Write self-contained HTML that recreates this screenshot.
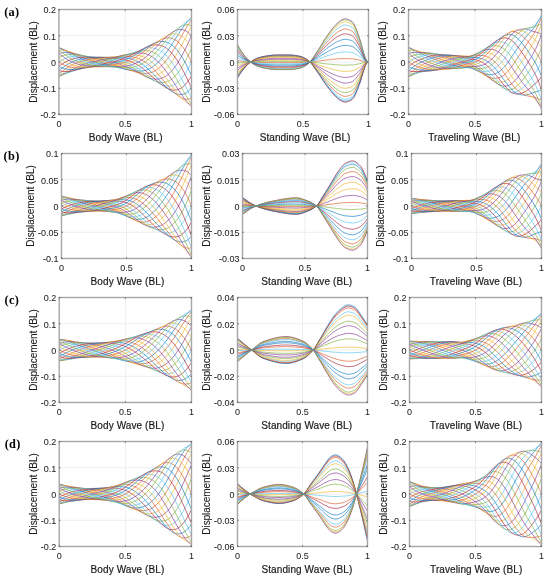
<!DOCTYPE html>
<html><head><meta charset="utf-8"><style>
html,body{margin:0;padding:0;background:#fff;}
svg{display:block;}
.t{font:9px "Liberation Sans",Arial,sans-serif;fill:#1c1c1c;stroke:#1c1c1c;stroke-width:0.05px;}
.l{font:10px "Liberation Sans",Arial,sans-serif;fill:#1c1c1c;stroke:#1c1c1c;stroke-width:0.2px;}
.xl{letter-spacing:0.1px;}
.yl{letter-spacing:-0.05px;stroke-width:0.1px;}
.p{font:bold 12.3px "Liberation Serif","Times New Roman",serif;fill:#000;letter-spacing:0.3px;}
</style></head><body>
<svg width="550" height="581" viewBox="0 0 550 581">
<rect width="550" height="581" fill="#fff"/>
<path d="M125.2 9.5V114.5M58.9 35.75H191.5M58.9 62H191.5M58.9 88.25H191.5" stroke="#ebebeb" stroke-width="0.8" fill="none"/><g fill="none" stroke-width="1.0" stroke-opacity="0.62" clip-path="url(#cA1)"><path d="M58.9 47.4l1.8 .9 1.9 .9 1.8 1 1.9 1 1.8 1 1.9 1 1.8 1.1 1.8 .9 1.9 1 1.8 .8 1.9 .8 1.8 .8 1.8 .7 1.9 .6 1.8 .6 1.9 .5 1.8 .5 1.8 .5 1.9 .4 1.8 .4 1.9 .4 1.8 .4 1.9 .4 1.8 .4 1.8 .3 1.9 .3 1.8 .4 1.9 .3 1.8 .3 1.8 .3 1.9 .5 1.8 .5 1.9 .5 1.8 .5 1.9 .5 1.8 .4 1.8 .4 1.9 .3 1.8 .3 1.9 .3 1.8 .2 1.8 .2 1.9 .1 1.8-0 1.9-.1 1.8-.2 1.9-.4 1.8-.6 1.8-.8 1.9-1 1.8-1.2 1.9-1.4 1.8-1.6 1.8-1.7 1.9-1.9 1.8-2.1 1.9-2.3 1.8-2.4 1.9-2.6 1.8-2.6 1.8-2.8 1.9-2.8 1.8-2.8 1.9-2.9 1.8-2.9 1.8-2.8 1.9-2.7 1.8-2.6 1.9-2.4 1.8-2.2 1.9-2.1 1.8-1.7" stroke="#0072BD"/><path d="M58.9 48.1l1.8 .5 1.9 .5 1.8 .7 1.9 .7 1.8 .8 1.9 .8 1.8 .9 1.8 .8 1.9 .9 1.8 .8 1.9 .7 1.8 .7 1.8 .7 1.9 .7 1.8 .6 1.9 .5 1.8 .6 1.8 .4 1.9 .5 1.8 .4 1.9 .4 1.8 .5 1.9 .4 1.8 .4 1.8 .4 1.9 .4 1.8 .4 1.9 .4 1.8 .4 1.8 .4 1.9 .4 1.8 .6 1.9 .6 1.8 .7 1.9 .6 1.8 .6 1.8 .5 1.9 .6 1.8 .5 1.9 .5 1.8 .6 1.8 .4 1.9 .5 1.8 .3 1.9 .4 1.8 .2 1.9 .1 1.8-.1 1.8-.3 1.9-.5 1.8-.7 1.9-1 1.8-1.1 1.8-1.3 1.9-1.5 1.8-1.8 1.9-1.9 1.8-2.2 1.9-2.4 1.8-2.5 1.8-2.7 1.9-2.9 1.8-2.9 1.9-3.1 1.8-3.2 1.8-3.2 1.9-3.3 1.8-3.2 1.9-3.2 1.8-3.1 1.9-3 1.8-2.8" stroke="#D95319"/><path d="M58.9 50.2l1.8-0 1.9 .1 1.8 .3 1.9 .4 1.8 .4 1.9 .5 1.8 .7 1.8 .6 1.9 .7 1.8 .6 1.9 .7 1.8 .6 1.8 .6 1.9 .6 1.8 .5 1.9 .6 1.8 .5 1.8 .4 1.9 .5 1.8 .4 1.9 .4 1.8 .4 1.9 .4 1.8 .4 1.8 .4 1.9 .4 1.8 .4 1.9 .5 1.8 .4 1.8 .4 1.9 .5 1.8 .6 1.9 .7 1.8 .7 1.9 .7 1.8 .6 1.8 .7 1.9 .7 1.8 .7 1.9 .8 1.8 .7 1.8 .8 1.9 .7 1.8 .8 1.9 .7 1.8 .7 1.9 .6 1.8 .4 1.8 .2 1.9-0 1.8-.2 1.9-.4 1.8-.6 1.8-.7 1.9-1 1.8-1.2 1.9-1.5 1.8-1.7 1.9-1.9 1.8-2.2 1.8-2.4 1.9-2.6 1.8-2.8 1.9-3.1 1.8-3.1 1.8-3.4 1.9-3.5 1.8-3.5 1.9-3.6 1.8-3.7 1.9-3.7 1.8-3.6" stroke="#EDB120"/><path d="M58.9 53.4l1.8-.4 1.9-.3 1.8-.2 1.9-0 1.8 .1 1.9 .2 1.8 .3 1.8 .3 1.9 .5 1.8 .4 1.9 .5 1.8 .4 1.8 .5 1.9 .5 1.8 .4 1.9 .5 1.8 .4 1.8 .4 1.9 .4 1.8 .4 1.9 .3 1.8 .3 1.9 .4 1.8 .4 1.8 .4 1.9 .4 1.8 .4 1.9 .4 1.8 .4 1.8 .4 1.9 .5 1.8 .5 1.9 .7 1.8 .6 1.9 .7 1.8 .7 1.8 .8 1.9 .8 1.8 .8 1.9 .9 1.8 .9 1.8 1 1.9 .9 1.8 1 1.9 1.1 1.8 1.1 1.9 1 1.8 .8 1.8 .7 1.9 .5 1.8 .4 1.9 .2 1.8 .1 1.8-.2 1.9-.3 1.8-.6 1.9-.8 1.8-1 1.9-1.4 1.8-1.6 1.8-1.8 1.9-2.2 1.8-2.4 1.9-2.6 1.8-2.9 1.8-3.1 1.9-3.4 1.8-3.5 1.9-3.7 1.8-3.9 1.9-4 1.8-4" stroke="#7E2F8E"/><path d="M58.9 57.5l1.8-.9 1.9-.7 1.8-.6 1.9-.4 1.8-.3 1.9-.1 1.8-0 1.8 0 1.9 .2 1.8 .1 1.9 .3 1.8 .3 1.8 .3 1.9 .3 1.8 .3 1.9 .3 1.8 .3 1.8 .3 1.9 .3 1.8 .2 1.9 .3 1.8 .2 1.9 .3 1.8 .3 1.8 .4 1.9 .3 1.8 .3 1.9 .4 1.8 .4 1.8 .4 1.9 .4 1.8 .4 1.9 .5 1.8 .6 1.9 .6 1.8 .7 1.8 .8 1.9 .8 1.8 .8 1.9 1 1.8 1 1.8 1 1.9 1.1 1.8 1.2 1.9 1.3 1.8 1.3 1.9 1.3 1.8 1.3 1.8 1.1 1.9 1 1.8 .9 1.9 .8 1.8 .6 1.8 .5 1.9 .4 1.8 .1 1.9-.1 1.8-.3 1.9-.6 1.8-.9 1.8-1.1 1.9-1.4 1.8-1.8 1.9-2 1.8-2.3 1.8-2.6 1.9-2.9 1.8-3.2 1.9-3.4 1.8-3.7 1.9-3.9 1.8-4.1" stroke="#77AC30"/><path d="M58.9 62.0l1.8-1.2 1.9-1.1 1.8-.9 1.9-.7 1.8-.7 1.9-.5 1.8-.3 1.8-.3 1.9-.1 1.8-.1 1.9-0 1.8 0 1.8 .1 1.9 .1 1.8 .1 1.9 .2 1.8 .2 1.8 .2 1.9 .1 1.8 .2 1.9 .1 1.8 .1 1.9 .2 1.8 .2 1.8 .2 1.9 .3 1.8 .2 1.9 .3 1.8 .3 1.8 .3 1.9 .3 1.8 .3 1.9 .3 1.8 .5 1.9 .5 1.8 .6 1.8 .7 1.9 .7 1.8 .8 1.9 .9 1.8 1 1.8 1 1.9 1.2 1.8 1.2 1.9 1.4 1.8 1.4 1.9 1.5 1.8 1.5 1.8 1.5 1.9 1.4 1.8 1.3 1.9 1.3 1.8 1.1 1.8 1.1 1.9 1 1.8 .9 1.9 .6 1.8 .5 1.9 .2 1.8-.1 1.8-.3 1.9-.6 1.8-.9 1.9-1.2 1.8-1.5 1.8-1.8 1.9-2.1 1.8-2.5 1.9-2.9 1.8-3.1 1.9-3.4 1.8-3.8" stroke="#4DBEEE"/><path d="M58.9 66.5l1.8-1.4 1.9-1.3 1.8-1.2 1.9-1 1.8-.9 1.9-.8 1.8-.7 1.8-.5 1.9-.4 1.8-.4 1.9-.3 1.8-.1 1.8-.2 1.9-.1 1.8-0 1.9-0 1.8-0 1.8 0 1.9 0 1.8 0 1.9 0 1.8 0 1.9 .1 1.8 .1 1.8 .1 1.9 .1 1.8 .1 1.9 .2 1.8 .2 1.8 .2 1.9 .1 1.8 .2 1.9 .1 1.8 .3 1.9 .3 1.8 .5 1.8 .5 1.9 .6 1.8 .7 1.9 .7 1.8 .9 1.8 .9 1.9 1.1 1.8 1.2 1.9 1.3 1.8 1.5 1.9 1.5 1.8 1.6 1.8 1.6 1.9 1.7 1.8 1.6 1.9 1.6 1.8 1.6 1.8 1.6 1.9 1.5 1.8 1.5 1.9 1.3 1.8 1.2 1.9 1 1.8 .8 1.8 .5 1.9 .3 1.8 0 1.9-.2 1.8-.5 1.8-.9 1.9-1.2 1.8-1.6 1.9-1.9 1.8-2.3 1.9-2.7 1.8-3" stroke="#A2142F"/><path d="M58.9 70.6l1.8-1.5 1.9-1.4 1.8-1.3 1.9-1.2 1.8-1.1 1.9-1 1.8-.9 1.8-.8 1.9-.7 1.8-.6 1.9-.5 1.8-.4 1.8-.3 1.9-.3 1.8-.2 1.9-.2 1.8-.2 1.8-.1 1.9-.1 1.8-.1 1.9-.2 1.8-.1 1.9-.1 1.8-0 1.8-0 1.9-0 1.8-0 1.9-0 1.8 0 1.8 .1 1.9 0 1.8-0 1.9-.1 1.8 .1 1.9 .1 1.8 .3 1.8 .3 1.9 .4 1.8 .4 1.9 .6 1.8 .7 1.8 .7 1.9 .9 1.8 1 1.9 1.2 1.8 1.3 1.9 1.4 1.8 1.6 1.8 1.6 1.9 1.7 1.8 1.8 1.9 1.8 1.8 1.9 1.8 1.9 1.9 2 1.8 1.9 1.9 1.8 1.8 1.8 1.9 1.7 1.8 1.5 1.8 1.4 1.9 1.1 1.8 1 1.9 .7 1.8 .5 1.8 .1 1.9-.1 1.8-.5 1.9-.8 1.8-1.3 1.9-1.6 1.8-2" stroke="#0072BD"/><path d="M58.9 73.8l1.8-1.4 1.9-1.4 1.8-1.3 1.9-1.3 1.8-1.2 1.9-1.1 1.8-1 1.8-1 1.9-.8 1.8-.8 1.9-.6 1.8-.6 1.8-.5 1.9-.5 1.8-.4 1.9-.3 1.8-.3 1.8-.3 1.9-.2 1.8-.3 1.9-.2 1.8-.2 1.9-.2 1.8-.2 1.8-.2 1.9-.1 1.8-.1 1.9-.1 1.8-.1 1.8-.1 1.9-.1 1.8-.3 1.9-.2 1.8-.2 1.9-.1 1.8 .1 1.8 .1 1.9 .1 1.8 .2 1.9 .3 1.8 .4 1.8 .5 1.9 .6 1.8 .8 1.9 .8 1.8 1.1 1.9 1.2 1.8 1.3 1.8 1.5 1.9 1.6 1.8 1.8 1.9 1.8 1.8 2 1.8 2.1 1.9 2.1 1.8 2.2 1.9 2.2 1.8 2.2 1.9 2.2 1.8 2.2 1.8 2 1.9 1.9 1.8 1.8 1.9 1.6 1.8 1.4 1.8 1.2 1.9 1 1.8 .6 1.9 .3 1.8-0 1.9-.4 1.8-.8" stroke="#D95319"/><path d="M58.9 75.9l1.8-1.2 1.9-1.2 1.8-1.3 1.9-1.1 1.8-1.2 1.9-1.1 1.8-1.1 1.8-1 1.9-1 1.8-.8 1.9-.8 1.8-.7 1.8-.6 1.9-.6 1.8-.5 1.9-.5 1.8-.4 1.8-.4 1.9-.3 1.8-.4 1.9-.3 1.8-.3 1.9-.3 1.8-.3 1.8-.3 1.9-.2 1.8-.3 1.9-.2 1.8-.2 1.8-.2 1.9-.3 1.8-.4 1.9-.4 1.8-.4 1.9-.3 1.8-.2 1.8-.1 1.9-.1 1.8-0 1.9-0 1.8 .1 1.8 .1 1.9 .3 1.8 .4 1.9 .5 1.8 .6 1.9 .9 1.8 1 1.8 1.2 1.9 1.4 1.8 1.5 1.9 1.8 1.8 1.8 1.8 2 1.9 2.1 1.8 2.3 1.9 2.4 1.8 2.4 1.9 2.5 1.8 2.5 1.8 2.5 1.9 2.5 1.8 2.4 1.9 2.4 1.8 2.3 1.8 2 1.9 2 1.8 1.7 1.9 1.4 1.8 1.2 1.9 .8 1.8 .5" stroke="#EDB120"/><path d="M58.9 76.6l1.8-.9 1.9-.9 1.8-1 1.9-1 1.8-1 1.9-1 1.8-1.1 1.8-.9 1.9-1 1.8-.8 1.9-.8 1.8-.8 1.8-.7 1.9-.6 1.8-.6 1.9-.5 1.8-.5 1.8-.5 1.9-.4 1.8-.4 1.9-.4 1.8-.4 1.9-.4 1.8-.4 1.8-.3 1.9-.3 1.8-.4 1.9-.3 1.8-.3 1.8-.3 1.9-.5 1.8-.5 1.9-.5 1.8-.5 1.9-.5 1.8-.4 1.8-.4 1.9-.3 1.8-.3 1.9-.3 1.8-.2 1.8-.2 1.9-.1 1.8 0 1.9 .1 1.8 .2 1.9 .4 1.8 .6 1.8 .8 1.9 1 1.8 1.2 1.9 1.4 1.8 1.6 1.8 1.7 1.9 1.9 1.8 2.1 1.9 2.3 1.8 2.4 1.9 2.6 1.8 2.6 1.8 2.8 1.9 2.8 1.8 2.8 1.9 2.9 1.8 2.9 1.8 2.8 1.9 2.7 1.8 2.6 1.9 2.4 1.8 2.2 1.9 2.1 1.8 1.7" stroke="#7E2F8E"/><path d="M58.9 75.9l1.8-.5 1.9-.5 1.8-.7 1.9-.7 1.8-.8 1.9-.8 1.8-.9 1.8-.8 1.9-.9 1.8-.8 1.9-.7 1.8-.7 1.8-.7 1.9-.7 1.8-.6 1.9-.5 1.8-.6 1.8-.4 1.9-.5 1.8-.4 1.9-.4 1.8-.5 1.9-.4 1.8-.4 1.8-.4 1.9-.4 1.8-.4 1.9-.4 1.8-.4 1.8-.4 1.9-.4 1.8-.6 1.9-.6 1.8-.7 1.9-.6 1.8-.6 1.8-.5 1.9-.6 1.8-.5 1.9-.5 1.8-.6 1.8-.4 1.9-.5 1.8-.3 1.9-.4 1.8-.2 1.9-.1 1.8 .1 1.8 .3 1.9 .5 1.8 .7 1.9 1 1.8 1.1 1.8 1.3 1.9 1.5 1.8 1.8 1.9 1.9 1.8 2.2 1.9 2.4 1.8 2.5 1.8 2.7 1.9 2.9 1.8 2.9 1.9 3.1 1.8 3.2 1.8 3.2 1.9 3.3 1.8 3.2 1.9 3.2 1.8 3.1 1.9 3 1.8 2.8" stroke="#77AC30"/><path d="M58.9 73.8l1.8 0 1.9-.1 1.8-.3 1.9-.4 1.8-.4 1.9-.5 1.8-.7 1.8-.6 1.9-.7 1.8-.6 1.9-.7 1.8-.6 1.8-.6 1.9-.6 1.8-.5 1.9-.6 1.8-.5 1.8-.4 1.9-.5 1.8-.4 1.9-.4 1.8-.4 1.9-.4 1.8-.4 1.8-.4 1.9-.4 1.8-.4 1.9-.5 1.8-.4 1.8-.4 1.9-.5 1.8-.6 1.9-.7 1.8-.7 1.9-.7 1.8-.6 1.8-.7 1.9-.7 1.8-.7 1.9-.8 1.8-.7 1.8-.8 1.9-.7 1.8-.8 1.9-.7 1.8-.7 1.9-.6 1.8-.4 1.8-.2 1.9 0 1.8 .2 1.9 .4 1.8 .6 1.8 .7 1.9 1 1.8 1.2 1.9 1.5 1.8 1.7 1.9 1.9 1.8 2.2 1.8 2.4 1.9 2.6 1.8 2.8 1.9 3.1 1.8 3.1 1.8 3.4 1.9 3.5 1.8 3.5 1.9 3.6 1.8 3.7 1.9 3.7 1.8 3.6" stroke="#4DBEEE"/><path d="M58.9 70.6l1.8 .4 1.9 .3 1.8 .2 1.9 0 1.8-.1 1.9-.2 1.8-.3 1.8-.3 1.9-.5 1.8-.4 1.9-.5 1.8-.4 1.8-.5 1.9-.5 1.8-.4 1.9-.5 1.8-.4 1.8-.4 1.9-.4 1.8-.4 1.9-.3 1.8-.3 1.9-.4 1.8-.4 1.8-.4 1.9-.4 1.8-.4 1.9-.4 1.8-.4 1.8-.4 1.9-.5 1.8-.5 1.9-.7 1.8-.6 1.9-.7 1.8-.7 1.8-.8 1.9-.8 1.8-.8 1.9-.9 1.8-.9 1.8-1 1.9-.9 1.8-1 1.9-1.1 1.8-1.1 1.9-1 1.8-.8 1.8-.7 1.9-.5 1.8-.4 1.9-.2 1.8-.1 1.8 .2 1.9 .3 1.8 .6 1.9 .8 1.8 1 1.9 1.4 1.8 1.6 1.8 1.8 1.9 2.2 1.8 2.4 1.9 2.6 1.8 2.9 1.8 3.1 1.9 3.4 1.8 3.5 1.9 3.7 1.8 3.9 1.9 4 1.8 4" stroke="#A2142F"/><path d="M58.9 66.5l1.8 .9 1.9 .7 1.8 .6 1.9 .4 1.8 .3 1.9 .1 1.8 0 1.8-0 1.9-.2 1.8-.1 1.9-.3 1.8-.3 1.8-.3 1.9-.3 1.8-.3 1.9-.3 1.8-.3 1.8-.3 1.9-.3 1.8-.2 1.9-.3 1.8-.2 1.9-.3 1.8-.3 1.8-.4 1.9-.3 1.8-.3 1.9-.4 1.8-.4 1.8-.4 1.9-.4 1.8-.4 1.9-.5 1.8-.6 1.9-.6 1.8-.7 1.8-.8 1.9-.8 1.8-.8 1.9-1 1.8-1 1.8-1 1.9-1.1 1.8-1.2 1.9-1.3 1.8-1.3 1.9-1.3 1.8-1.3 1.8-1.1 1.9-1 1.8-.9 1.9-.8 1.8-.6 1.8-.5 1.9-.4 1.8-.1 1.9 .1 1.8 .3 1.9 .6 1.8 .9 1.8 1.1 1.9 1.4 1.8 1.8 1.9 2 1.8 2.3 1.8 2.6 1.9 2.9 1.8 3.2 1.9 3.4 1.8 3.7 1.9 3.9 1.8 4.1" stroke="#0072BD"/><path d="M58.9 62.0l1.8 1.2 1.9 1.1 1.8 .9 1.9 .7 1.8 .7 1.9 .5 1.8 .3 1.8 .3 1.9 .1 1.8 .1 1.9 0 1.8-0 1.8-.1 1.9-.1 1.8-.1 1.9-.2 1.8-.2 1.8-.2 1.9-.1 1.8-.2 1.9-.1 1.8-.1 1.9-.2 1.8-.2 1.8-.2 1.9-.3 1.8-.2 1.9-.3 1.8-.3 1.8-.3 1.9-.3 1.8-.3 1.9-.3 1.8-.5 1.9-.5 1.8-.6 1.8-.7 1.9-.7 1.8-.8 1.9-.9 1.8-1 1.8-1 1.9-1.2 1.8-1.2 1.9-1.4 1.8-1.4 1.9-1.5 1.8-1.5 1.8-1.5 1.9-1.4 1.8-1.3 1.9-1.3 1.8-1.1 1.8-1.1 1.9-1 1.8-.9 1.9-.6 1.8-.5 1.9-.2 1.8 .1 1.8 .3 1.9 .6 1.8 .9 1.9 1.2 1.8 1.5 1.8 1.8 1.9 2.1 1.8 2.5 1.9 2.9 1.8 3.1 1.9 3.4 1.8 3.8" stroke="#D95319"/><path d="M58.9 57.5l1.8 1.4 1.9 1.3 1.8 1.2 1.9 1 1.8 .9 1.9 .8 1.8 .7 1.8 .5 1.9 .4 1.8 .4 1.9 .3 1.8 .1 1.8 .2 1.9 .1 1.8 0 1.9 0 1.8 0 1.8-0 1.9-0 1.8-0 1.9-0 1.8-0 1.9-.1 1.8-.1 1.8-.1 1.9-.1 1.8-.1 1.9-.2 1.8-.2 1.8-.2 1.9-.1 1.8-.2 1.9-.1 1.8-.3 1.9-.3 1.8-.5 1.8-.5 1.9-.6 1.8-.7 1.9-.7 1.8-.9 1.8-.9 1.9-1.1 1.8-1.2 1.9-1.3 1.8-1.5 1.9-1.5 1.8-1.6 1.8-1.6 1.9-1.7 1.8-1.6 1.9-1.6 1.8-1.6 1.8-1.6 1.9-1.5 1.8-1.5 1.9-1.3 1.8-1.2 1.9-1 1.8-.8 1.8-.5 1.9-.3 1.8-0 1.9 .2 1.8 .5 1.8 .9 1.9 1.2 1.8 1.6 1.9 1.9 1.8 2.3 1.9 2.7 1.8 3" stroke="#EDB120"/><path d="M58.9 53.4l1.8 1.5 1.9 1.4 1.8 1.3 1.9 1.2 1.8 1.1 1.9 1 1.8 .9 1.8 .8 1.9 .7 1.8 .6 1.9 .5 1.8 .4 1.8 .3 1.9 .3 1.8 .2 1.9 .2 1.8 .2 1.8 .1 1.9 .1 1.8 .1 1.9 .2 1.8 .1 1.9 .1 1.8 0 1.8 0 1.9 0 1.8 0 1.9 0 1.8-0 1.8-.1 1.9-0 1.8 0 1.9 .1 1.8-.1 1.9-.1 1.8-.3 1.8-.3 1.9-.4 1.8-.4 1.9-.6 1.8-.7 1.8-.7 1.9-.9 1.8-1 1.9-1.2 1.8-1.3 1.9-1.4 1.8-1.6 1.8-1.6 1.9-1.7 1.8-1.8 1.9-1.8 1.8-1.9 1.8-1.9 1.9-2 1.8-1.9 1.9-1.8 1.8-1.8 1.9-1.7 1.8-1.5 1.8-1.4 1.9-1.1 1.8-1 1.9-.7 1.8-.5 1.8-.1 1.9 .1 1.8 .5 1.9 .8 1.8 1.3 1.9 1.6 1.8 2" stroke="#7E2F8E"/><path d="M58.9 50.2l1.8 1.4 1.9 1.4 1.8 1.3 1.9 1.3 1.8 1.2 1.9 1.1 1.8 1 1.8 1 1.9 .8 1.8 .8 1.9 .6 1.8 .6 1.8 .5 1.9 .5 1.8 .4 1.9 .3 1.8 .3 1.8 .3 1.9 .2 1.8 .3 1.9 .2 1.8 .2 1.9 .2 1.8 .2 1.8 .2 1.9 .1 1.8 .1 1.9 .1 1.8 .1 1.8 .1 1.9 .1 1.8 .3 1.9 .2 1.8 .2 1.9 .1 1.8-.1 1.8-.1 1.9-.1 1.8-.2 1.9-.3 1.8-.4 1.8-.5 1.9-.6 1.8-.8 1.9-.8 1.8-1.1 1.9-1.2 1.8-1.3 1.8-1.5 1.9-1.6 1.8-1.8 1.9-1.8 1.8-2 1.8-2.1 1.9-2.1 1.8-2.2 1.9-2.2 1.8-2.2 1.9-2.2 1.8-2.2 1.8-2 1.9-1.9 1.8-1.8 1.9-1.6 1.8-1.4 1.8-1.2 1.9-1 1.8-.6 1.9-.3 1.8 0 1.9 .4 1.8 .8" stroke="#77AC30"/><path d="M58.9 48.1l1.8 1.2 1.9 1.2 1.8 1.3 1.9 1.1 1.8 1.2 1.9 1.1 1.8 1.1 1.8 1 1.9 1 1.8 .8 1.9 .8 1.8 .7 1.8 .6 1.9 .6 1.8 .5 1.9 .5 1.8 .4 1.8 .4 1.9 .3 1.8 .4 1.9 .3 1.8 .3 1.9 .3 1.8 .3 1.8 .3 1.9 .2 1.8 .3 1.9 .2 1.8 .2 1.8 .2 1.9 .3 1.8 .4 1.9 .4 1.8 .4 1.9 .3 1.8 .2 1.8 .1 1.9 .1 1.8 0 1.9 0 1.8-.1 1.8-.1 1.9-.3 1.8-.4 1.9-.5 1.8-.6 1.9-.9 1.8-1 1.8-1.2 1.9-1.4 1.8-1.5 1.9-1.8 1.8-1.8 1.8-2 1.9-2.1 1.8-2.3 1.9-2.4 1.8-2.4 1.9-2.5 1.8-2.5 1.8-2.5 1.9-2.5 1.8-2.4 1.9-2.4 1.8-2.3 1.8-2 1.9-2 1.8-1.7 1.9-1.4 1.8-1.2 1.9-.8 1.8-.5" stroke="#4DBEEE"/></g><clipPath id="cA1"><rect x="58.9" y="7.5" width="132.6" height="109.0"/></clipPath><rect x="58.9" y="9.5" width="132.6" height="105.0" fill="none" stroke="#a6a6a6" stroke-width="1.4"/><path d="M58.9 9.5h1.3M191.5 9.5h-1.3M58.9 35.75h1.3M191.5 35.75h-1.3M58.9 62h1.3M191.5 62h-1.3M58.9 88.25h1.3M191.5 88.25h-1.3M58.9 114.5h1.3M191.5 114.5h-1.3M58.9 114.5v-1.3M58.9 9.5v1.3M125.2 114.5v-1.3M125.2 9.5v1.3M191.5 114.5v-1.3M191.5 9.5v1.3" stroke="#666" stroke-width="1" fill="none"/><text x="55.9" y="13.4" text-anchor="end" class="t">0.2</text><text x="55.9" y="39.65" text-anchor="end" class="t">0.1</text><text x="55.9" y="65.9" text-anchor="end" class="t">0</text><text x="55.9" y="92.15" text-anchor="end" class="t">-0.1</text><text x="55.9" y="118.4" text-anchor="end" class="t">-0.2</text><text x="58.9" y="127" text-anchor="middle" class="t">0</text><text x="125.2" y="127" text-anchor="middle" class="t">0.5</text><text x="191.5" y="127" text-anchor="middle" class="t">1</text><text x="125.7" y="140.7" text-anchor="middle" class="l xl">Body Wave (BL)</text><text transform="translate(36.59 62) rotate(-90)" text-anchor="middle" class="l yl">Displacement (BL)</text><path d="M303 9.5V114.5M237.5 35.75H368.5M237.5 62H368.5M237.5 88.25H368.5" stroke="#ebebeb" stroke-width="0.8" fill="none"/><g fill="none" stroke-width="1.0" stroke-opacity="0.62" clip-path="url(#cA2)"><path d="M237.5 53.0l1.8 1.6 1.8 1.6 1.9 1.4 1.8 1.2 1.8 1.2 1.8 1 1.8 .8 1.9 .8 1.8 .6 1.8 .6 1.8 .4 1.8 .3 1.9 .3 1.8 .3 1.8 .2 1.8 .1 1.8 .2 1.8 .1 1.9 .1 1.8 .1 1.8 .1 1.8-0 1.8-0 1.9-0 1.8-0 1.8-0 1.8-0 1.8-0 1.9-0 1.8-.1 1.8-.1 1.8-.1 1.8-.2 1.9-.2 1.8-.3 1.8-.4 1.8-.4 1.8-.6 1.9-.8 1.8-1 1.8-1.2 1.8-1.4 1.8-1.5 1.9-1.5 1.8-1.5 1.8-1.5 1.8-1.6 1.8-1.6 1.9-1.4 1.8-1.4 1.8-1.2 1.8-1.3 1.8-1.2 1.8-1.1 1.9-.9 1.8-.7 1.8-.7 1.8-.6 1.8-.2 1.9 .1 1.8 .4 1.8 .4 1.8 .6 1.8 1.2 1.9 2.1 1.8 2.6 1.8 2.6 1.8 3.1 1.8 3.6 1.9 3.4 1.8 2.3 1.8 1.2" stroke="#0072BD"/><path d="M237.5 48.9l1.8 2.4 1.8 2.2 1.9 2 1.8 1.9 1.8 1.6 1.8 1.5 1.8 1.3 1.9 1 1.8 1 1.8 .8 1.8 .6 1.8 .5 1.9 .4 1.8 .4 1.8 .2 1.8 .3 1.8 .2 1.8 .2 1.9 .2 1.8 .1 1.8 .1 1.8-0 1.8-0 1.9-0 1.8-0 1.8-0 1.8-0 1.8-0 1.9-0 1.8-.1 1.8-.1 1.8-.2 1.8-.3 1.9-.3 1.8-.4 1.8-.6 1.8-.7 1.8-.8 1.9-1.2 1.8-1.4 1.8-1.7 1.8-2 1.8-2.2 1.9-2.3 1.8-2.1 1.8-2.2 1.8-2.3 1.8-2.3 1.9-2.1 1.8-2 1.8-1.8 1.8-1.9 1.8-1.7 1.8-1.6 1.9-1.3 1.8-1.1 1.8-1 1.8-.8 1.8-.3 1.9 .2 1.8 .4 1.8 .7 1.8 .8 1.8 1.9 1.9 3 1.8 3.7 1.8 3.8 1.8 4.5 1.8 5.3 1.9 4.9 1.8 3.3 1.8 1.8" stroke="#D95319"/><path d="M237.5 46.1l1.8 2.9 1.8 2.7 1.9 2.4 1.8 2.3 1.8 2 1.8 1.8 1.8 1.5 1.9 1.3 1.8 1.2 1.8 .9 1.8 .8 1.8 .6 1.9 .5 1.8 .4 1.8 .4 1.8 .3 1.8 .2 1.8 .3 1.9 .2 1.8 .1 1.8 .1 1.8 0 1.8 0 1.9 0 1.8 0 1.8 0 1.8 0 1.8 0 1.9 0 1.8-.1 1.8-.1 1.8-.3 1.8-.3 1.9-.4 1.8-.5 1.8-.6 1.8-.9 1.8-1 1.9-1.4 1.8-1.7 1.8-2.1 1.8-2.5 1.8-2.7 1.9-2.7 1.8-2.6 1.8-2.7 1.8-2.8 1.8-2.7 1.9-2.6 1.8-2.4 1.8-2.2 1.8-2.3 1.8-2.1 1.8-1.9 1.9-1.6 1.8-1.4 1.8-1.1 1.8-1 1.8-.4 1.9 .2 1.8 .6 1.8 .8 1.8 1 1.8 2.2 1.9 3.7 1.8 4.5 1.8 4.6 1.8 5.5 1.8 6.4 1.9 5.9 1.8 4.1 1.8 2.2" stroke="#EDB120"/><path d="M237.5 44.8l1.8 3.1 1.8 2.9 1.9 2.7 1.8 2.4 1.8 2.2 1.8 1.9 1.8 1.7 1.9 1.4 1.8 1.2 1.8 1 1.8 .9 1.8 .6 1.9 .6 1.8 .5 1.8 .3 1.8 .3 1.8 .3 1.8 .3 1.9 .2 1.8 .2 1.8 .1 1.8-0 1.8-0 1.9-0 1.8-0 1.8-0 1.8-0 1.8-0 1.9-0 1.8-.1 1.8-.2 1.8-.3 1.8-.3 1.9-.4 1.8-.5 1.8-.8 1.8-.9 1.8-1.1 1.9-1.5 1.8-1.9 1.8-2.2 1.8-2.7 1.8-2.9 1.9-2.9 1.8-2.8 1.8-2.9 1.8-3 1.8-3 1.9-2.8 1.8-2.6 1.8-2.4 1.8-2.4 1.8-2.2 1.8-2.1 1.9-1.8 1.8-1.4 1.8-1.3 1.8-1 1.8-.5 1.9 .3 1.8 .5 1.8 .9 1.8 1.1 1.8 2.4 1.9 4 1.8 4.9 1.8 5 1.8 5.9 1.8 6.9 1.9 6.4 1.8 4.4 1.8 2.3" stroke="#7E2F8E"/><path d="M237.5 45.2l1.8 3.1 1.8 2.8 1.9 2.6 1.8 2.4 1.8 2.1 1.8 1.9 1.8 1.6 1.9 1.4 1.8 1.2 1.8 1 1.8 .8 1.8 .6 1.9 .6 1.8 .4 1.8 .4 1.8 .3 1.8 .3 1.8 .2 1.9 .2 1.8 .2 1.8 .1 1.8 0 1.8 0 1.9 0 1.8 0 1.8 0 1.8 0 1.8 0 1.9-0 1.8-.1 1.8-.2 1.8-.3 1.8-.3 1.9-.4 1.8-.5 1.8-.7 1.8-.9 1.8-1.1 1.9-1.5 1.8-1.8 1.8-2.2 1.8-2.6 1.8-2.8 1.9-2.8 1.8-2.8 1.8-2.8 1.8-3 1.8-2.8 1.9-2.8 1.8-2.5 1.8-2.3 1.8-2.4 1.8-2.2 1.8-2 1.9-1.7 1.8-1.4 1.8-1.3 1.8-1 1.8-.4 1.9 .2 1.8 .6 1.8 .9 1.8 1 1.8 2.4 1.9 3.9 1.8 4.7 1.8 4.9 1.8 5.7 1.8 6.7 1.9 6.3 1.8 4.3 1.8 2.3" stroke="#77AC30"/><path d="M237.5 47.3l1.8 2.7 1.8 2.5 1.9 2.2 1.8 2.1 1.8 1.9 1.8 1.6 1.8 1.4 1.9 1.2 1.8 1.1 1.8 .9 1.8 .7 1.8 .5 1.9 .5 1.8 .4 1.8 .3 1.8 .3 1.8 .2 1.8 .3 1.9 .2 1.8 .1 1.8 .1 1.8-0 1.8-0 1.9-0 1.8-0 1.8-0 1.8-0 1.8-0 1.9-0 1.8-.1 1.8-.2 1.8-.2 1.8-.3 1.9-.3 1.8-.5 1.8-.6 1.8-.8 1.8-.9 1.9-1.3 1.8-1.6 1.8-1.9 1.8-2.3 1.8-2.5 1.9-2.5 1.8-2.4 1.8-2.5 1.8-2.6 1.8-2.5 1.9-2.4 1.8-2.2 1.8-2.1 1.8-2 1.8-1.9 1.8-1.8 1.9-1.6 1.8-1.2 1.8-1 1.8-.9 1.8-.4 1.9 .2 1.8 .5 1.8 .7 1.8 1 1.8 2 1.9 3.5 1.8 4.1 1.8 4.3 1.8 5 1.8 5.9 1.9 5.5 1.8 3.8 1.8 2" stroke="#4DBEEE"/><path d="M237.5 50.8l1.8 2 1.8 1.9 1.9 1.8 1.8 1.6 1.8 1.4 1.8 1.2 1.8 1.1 1.9 .9 1.8 .8 1.8 .7 1.8 .5 1.8 .5 1.9 .3 1.8 .3 1.8 .2 1.8 .3 1.8 .2 1.8 .1 1.9 .2 1.8 .1 1.8 0 1.8 0 1.8 0 1.9 0 1.8 0 1.8 0 1.8 0 1.8 0 1.9 0 1.8-0 1.8-.1 1.8-.2 1.8-.2 1.9-.3 1.8-.3 1.8-.5 1.8-.6 1.8-.7 1.9-1 1.8-1.2 1.8-1.5 1.8-1.7 1.8-1.9 1.9-1.9 1.8-1.9 1.8-1.9 1.8-1.9 1.8-2 1.9-1.8 1.8-1.6 1.8-1.6 1.8-1.6 1.8-1.5 1.8-1.3 1.9-1.2 1.8-.9 1.8-.8 1.8-.7 1.8-.3 1.9 .2 1.8 .3 1.8 .6 1.8 .7 1.8 1.6 1.9 2.6 1.8 3.2 1.8 3.2 1.8 3.9 1.8 4.4 1.9 4.2 1.8 2.9 1.8 1.5" stroke="#A2142F"/><path d="M237.5 55.4l1.8 1.2 1.8 1.1 1.9 1 1.8 1 1.8 .8 1.8 .8 1.8 .6 1.9 .5 1.8 .5 1.8 .4 1.8 .3 1.8 .3 1.9 .2 1.8 .2 1.8 .1 1.8 .1 1.8 .1 1.8 .1 1.9 .1 1.8 .1 1.8 0 1.8 0 1.8 0 1.9 0 1.8 0 1.8 0 1.8 0 1.8 0 1.9 0 1.8-0 1.8-.1 1.8-.1 1.8-.1 1.9-.2 1.8-.2 1.8-.3 1.8-.3 1.8-.4 1.9-.6 1.8-.7 1.8-.9 1.8-1 1.8-1.1 1.9-1.2 1.8-1 1.8-1.2 1.8-1.1 1.8-1.2 1.9-1 1.8-1 1.8-.9 1.8-1 1.8-.8 1.8-.8 1.9-.7 1.8-.6 1.8-.4 1.8-.4 1.8-.2 1.9 .1 1.8 .2 1.8 .3 1.8 .5 1.8 .9 1.9 1.5 1.8 1.9 1.8 1.9 1.8 2.3 1.8 2.6 1.9 2.5 1.8 1.7 1.8 .9" stroke="#0072BD"/><path d="M237.5 60.6l1.8 .3 1.8 .2 1.9 .2 1.8 .2 1.8 .2 1.8 .1 1.8 .2 1.9 .1 1.8 .1 1.8 .1 1.8 0 1.8 .1 1.9 0 1.8 .1 1.8-0 1.8 0 1.8 0 1.8 .1 1.9-0 1.8-0 1.8-0 1.8-0 1.8-0 1.9-0 1.8-0 1.8-0 1.8-0 1.8-0 1.9-0 1.8-0 1.8-0 1.8-0 1.8-.1 1.9-0 1.8-0 1.8-.1 1.8-.1 1.8-.1 1.9-.1 1.8-.1 1.8-.2 1.8-.2 1.8-.2 1.9-.3 1.8-.2 1.8-.2 1.8-.3 1.8-.2 1.9-.2 1.8-.2 1.8-.2 1.8-.2 1.8-.2 1.8-.1 1.9-.2 1.8-.1 1.8-.1 1.8-.1 1.8-0 1.9 0 1.8 .1 1.8 0 1.8 .1 1.8 .2 1.9 .3 1.8 .4 1.8 .4 1.8 .5 1.8 .5 1.9 .5 1.8 .4 1.8 .1" stroke="#D95319"/><path d="M237.5 65.7l1.8-.6 1.8-.7 1.9-.6 1.8-.5 1.8-.5 1.8-.4 1.8-.3 1.9-.3 1.8-.3 1.8-.2 1.8-.2 1.8-.2 1.9-.1 1.8-.1 1.8-.1 1.8-0 1.8-.1 1.8-0 1.9-.1 1.8-0 1.8-0 1.8-.1 1.8 0 1.9 0 1.8 0 1.8 0 1.8 0 1.8 0 1.9 0 1.8 .1 1.8 0 1.8 .1 1.8 0 1.9 .1 1.8 .1 1.8 .2 1.8 .2 1.8 .2 1.9 .4 1.8 .4 1.8 .5 1.8 .6 1.8 .6 1.9 .6 1.8 .6 1.8 .7 1.8 .6 1.8 .7 1.9 .6 1.8 .5 1.8 .6 1.8 .5 1.8 .5 1.8 .4 1.9 .4 1.8 .3 1.8 .3 1.8 .2 1.8 .1 1.9-0 1.8-.2 1.8-.1 1.8-.3 1.8-.5 1.9-.9 1.8-1 1.8-1.1 1.8-1.3 1.8-1.5 1.9-1.4 1.8-1 1.8-.5" stroke="#EDB120"/><path d="M237.5 70.4l1.8-1.5 1.8-1.5 1.9-1.3 1.8-1.1 1.8-1.1 1.8-.9 1.8-.9 1.9-.6 1.8-.6 1.8-.5 1.8-.4 1.8-.4 1.9-.2 1.8-.3 1.8-.1 1.8-.2 1.8-.1 1.8-.2 1.9-.1 1.8-0 1.8-.1 1.8 0 1.8 0 1.9 0 1.8 0 1.8 0 1.8 0 1.8 0 1.9 0 1.8 0 1.8 .1 1.8 .2 1.8 .1 1.9 .2 1.8 .3 1.8 .4 1.8 .4 1.8 .5 1.9 .8 1.8 .9 1.8 1.1 1.8 1.3 1.8 1.4 1.9 1.4 1.8 1.4 1.8 1.4 1.8 1.5 1.8 1.4 1.9 1.4 1.8 1.2 1.8 1.2 1.8 1.2 1.8 1.1 1.8 1 1.9 .9 1.8 .7 1.8 .6 1.8 .5 1.8 .2 1.9-.1 1.8-.3 1.8-.4 1.8-.6 1.8-1.1 1.9-2 1.8-2.4 1.8-2.4 1.8-2.9 1.8-3.3 1.9-3.1 1.8-2.2 1.8-1.2" stroke="#7E2F8E"/><path d="M237.5 74.2l1.8-2.2 1.8-2.1 1.9-1.9 1.8-1.7 1.8-1.6 1.8-1.3 1.8-1.2 1.9-1 1.8-.9 1.8-.7 1.8-.6 1.8-.4 1.9-.4 1.8-.4 1.8-.2 1.8-.2 1.8-.2 1.8-.2 1.9-.2 1.8-.1 1.8-.1 1.8 0 1.8 0 1.9 0 1.8 0 1.8 0 1.8 0 1.8 0 1.9 0 1.8 .1 1.8 .1 1.8 .2 1.8 .3 1.9 .2 1.8 .4 1.8 .5 1.8 .7 1.8 .8 1.9 1.1 1.8 1.3 1.8 1.6 1.8 1.9 1.8 2 1.9 2.1 1.8 2 1.8 2 1.8 2.2 1.8 2.1 1.9 2 1.8 1.8 1.8 1.7 1.8 1.7 1.8 1.6 1.8 1.5 1.9 1.2 1.8 1.1 1.8 .8 1.8 .8 1.8 .3 1.9-.2 1.8-.4 1.8-.6 1.8-.8 1.8-1.7 1.9-2.8 1.8-3.5 1.8-3.5 1.8-4.2 1.8-4.9 1.9-4.5 1.8-3.2 1.8-1.6" stroke="#77AC30"/><path d="M237.5 76.8l1.8-2.7 1.8-2.5 1.9-2.3 1.8-2.1 1.8-1.9 1.8-1.6 1.8-1.4 1.9-1.3 1.8-1 1.8-.9 1.8-.7 1.8-.6 1.9-.5 1.8-.4 1.8-.3 1.8-.2 1.8-.3 1.8-.2 1.9-.2 1.8-.1 1.8-.1 1.8-0 1.8-0 1.9-0 1.8-0 1.8-0 1.8-0 1.8-0 1.9-0 1.8 0 1.8 .2 1.8 .3 1.8 .2 1.9 .4 1.8 .4 1.8 .7 1.8 .8 1.8 .9 1.9 1.3 1.8 1.6 1.8 2 1.8 2.3 1.8 2.4 1.9 2.6 1.8 2.4 1.8 2.5 1.8 2.6 1.8 2.6 1.9 2.4 1.8 2.2 1.8 2.1 1.8 2 1.8 2 1.8 1.8 1.9 1.5 1.8 1.2 1.8 1.1 1.8 .9 1.8 .4 1.9-.2 1.8-.5 1.8-.8 1.8-.9 1.8-2.1 1.9-3.4 1.8-4.2 1.8-4.3 1.8-5.1 1.8-5.9 1.9-5.6 1.8-3.8 1.8-2" stroke="#4DBEEE"/><path d="M237.5 78.0l1.8-2.9 1.8-2.7 1.9-2.5 1.8-2.3 1.8-2 1.8-1.8 1.8-1.5 1.9-1.3 1.8-1.2 1.8-.9 1.8-.8 1.8-.6 1.9-.5 1.8-.5 1.8-.3 1.8-.3 1.8-.3 1.8-.2 1.9-.2 1.8-.2 1.8-0 1.8-.1 1.8 0 1.9 0 1.8 0 1.8 0 1.8 0 1.8 0 1.9 0 1.8 .1 1.8 .2 1.8 .3 1.8 .3 1.9 .3 1.8 .5 1.8 .7 1.8 .9 1.8 1 1.9 1.4 1.8 1.7 1.8 2.1 1.8 2.5 1.8 2.7 1.9 2.7 1.8 2.6 1.8 2.8 1.8 2.8 1.8 2.7 1.9 2.6 1.8 2.4 1.8 2.2 1.8 2.3 1.8 2.1 1.8 1.9 1.9 1.7 1.8 1.3 1.8 1.2 1.8 .9 1.8 .4 1.9-.2 1.8-.5 1.8-.8 1.8-1.1 1.8-2.2 1.9-3.7 1.8-4.5 1.8-4.7 1.8-5.4 1.8-6.5 1.9-5.9 1.8-4.1 1.8-2.2" stroke="#A2142F"/><path d="M237.5 77.6l1.8-2.8 1.8-2.7 1.9-2.4 1.8-2.2 1.8-2 1.8-1.7 1.8-1.5 1.9-1.3 1.8-1.1 1.8-.9 1.8-.8 1.8-.6 1.9-.5 1.8-.4 1.8-.3 1.8-.3 1.8-.3 1.8-.2 1.9-.2 1.8-.2 1.8-.1 1.8 0 1.8 0 1.9 0 1.8 0 1.8 0 1.8 0 1.8 0 1.9 0 1.8 .1 1.8 .2 1.8 .2 1.8 .3 1.9 .4 1.8 .5 1.8 .6 1.8 .9 1.8 1 1.9 1.4 1.8 1.6 1.8 2.1 1.8 2.4 1.8 2.6 1.9 2.7 1.8 2.5 1.8 2.7 1.8 2.7 1.8 2.7 1.9 2.5 1.8 2.3 1.8 2.2 1.8 2.2 1.8 2.1 1.8 1.9 1.9 1.6 1.8 1.3 1.8 1.1 1.8 1 1.8 .3 1.9-.2 1.8-.5 1.8-.8 1.8-1 1.8-2.2 1.9-3.6 1.8-4.4 1.8-4.5 1.8-5.4 1.8-6.2 1.9-5.8 1.8-4 1.8-2.2" stroke="#0072BD"/><path d="M237.5 75.7l1.8-2.5 1.8-2.3 1.9-2.2 1.8-1.9 1.8-1.7 1.8-1.5 1.8-1.4 1.9-1.1 1.8-1 1.8-.8 1.8-.6 1.8-.6 1.9-.4 1.8-.4 1.8-.2 1.8-.3 1.8-.2 1.8-.2 1.9-.2 1.8-.2 1.8-0 1.8-0 1.8-0 1.9-0 1.8-0 1.8-0 1.8-0 1.8-0 1.9-0 1.8 0 1.8 .2 1.8 .2 1.8 .3 1.9 .3 1.8 .4 1.8 .6 1.8 .7 1.8 .9 1.9 1.2 1.8 1.5 1.8 1.8 1.8 2.1 1.8 2.3 1.9 2.3 1.8 2.3 1.8 2.3 1.8 2.4 1.8 2.3 1.9 2.3 1.8 2 1.8 1.9 1.8 1.9 1.8 1.8 1.8 1.7 1.9 1.4 1.8 1.1 1.8 1 1.8 .9 1.8 .3 1.9-.2 1.8-.4 1.8-.7 1.8-.9 1.8-1.9 1.9-3.2 1.8-3.9 1.8-3.9 1.8-4.7 1.8-5.5 1.9-5.1 1.8-3.5 1.8-1.9" stroke="#D95319"/><path d="M237.5 72.4l1.8-1.9 1.8-1.7 1.9-1.7 1.8-1.4 1.8-1.4 1.8-1.1 1.8-1 1.9-.9 1.8-.7 1.8-.6 1.8-.5 1.8-.4 1.9-.4 1.8-.3 1.8-.2 1.8-.2 1.8-.1 1.8-.2 1.9-.1 1.8-.1 1.8-.1 1.8 0 1.8 0 1.9 0 1.8 0 1.8 0 1.8 0 1.8 0 1.9 0 1.8 .1 1.8 .1 1.8 .1 1.8 .3 1.9 .2 1.8 .3 1.8 .5 1.8 .5 1.8 .7 1.9 .9 1.8 1.1 1.8 1.4 1.8 1.6 1.8 1.8 1.9 1.7 1.8 1.7 1.8 1.8 1.8 1.8 1.8 1.8 1.9 1.7 1.8 1.6 1.8 1.4 1.8 1.5 1.8 1.4 1.8 1.2 1.9 1.1 1.8 .9 1.8 .7 1.8 .7 1.8 .2 1.9-.1 1.8-.4 1.8-.5 1.8-.7 1.8-1.4 1.9-2.5 1.8-2.9 1.8-3 1.8-3.6 1.8-4.2 1.9-3.8 1.8-2.7 1.8-1.5" stroke="#EDB120"/><path d="M237.5 68.1l1.8-1.1 1.8-1 1.9-1 1.8-.8 1.8-.8 1.8-.7 1.8-.6 1.9-.5 1.8-.4 1.8-.4 1.8-.3 1.8-.2 1.9-.2 1.8-.2 1.8-.1 1.8-.1 1.8-.1 1.8-.1 1.9-.1 1.8-.1 1.8-0 1.8-0 1.8-0 1.9-0 1.8-0 1.8-0 1.8-0 1.8-0 1.9-0 1.8 0 1.8 .1 1.8 .1 1.8 .1 1.9 .1 1.8 .2 1.8 .3 1.8 .3 1.8 .4 1.9 .6 1.8 .6 1.8 .8 1.8 1 1.8 1 1.9 1.1 1.8 1 1.8 1 1.8 1.1 1.8 1 1.9 1 1.8 1 1.8 .8 1.8 .9 1.8 .8 1.8 .7 1.9 .7 1.8 .5 1.8 .4 1.8 .4 1.8 .1 1.9-0 1.8-.2 1.8-.4 1.8-.4 1.8-.8 1.9-1.4 1.8-1.8 1.8-1.7 1.8-2.2 1.8-2.4 1.9-2.3 1.8-1.6 1.8-.8" stroke="#7E2F8E"/><path d="M237.5 63.3l1.8-.3 1.8-.2 1.9-.2 1.8-.2 1.8-.1 1.8-.2 1.8-.1 1.9-.1 1.8-.1 1.8-0 1.8-.1 1.8-.1 1.9 0 1.8-0 1.8-.1 1.8 0 1.8-0 1.8-0 1.9-0 1.8-0 1.8-.1 1.8 0 1.8 0 1.9 0 1.8 0 1.8 0 1.8 0 1.8 0 1.9 0 1.8 .1 1.8-0 1.8-0 1.8 0 1.9 0 1.8 .1 1.8 0 1.8 .1 1.8 .1 1.9 .1 1.8 .1 1.8 .2 1.8 .2 1.8 .2 1.9 .2 1.8 .2 1.8 .2 1.8 .3 1.8 .2 1.9 .2 1.8 .2 1.8 .1 1.8 .2 1.8 .2 1.8 .1 1.9 .2 1.8 .1 1.8 .1 1.8 0 1.8 .1 1.9-0 1.8-.1 1.8-.1 1.8-0 1.8-.2 1.9-.3 1.8-.4 1.8-.3 1.8-.5 1.8-.5 1.9-.4 1.8-.4 1.8-.1" stroke="#77AC30"/><path d="M237.5 58.0l1.8 .7 1.8 .7 1.9 .6 1.8 .6 1.8 .5 1.8 .4 1.8 .4 1.9 .4 1.8 .2 1.8 .3 1.8 .2 1.8 .1 1.9 .2 1.8 .1 1.8 .1 1.8 0 1.8 .1 1.8 .1 1.9 0 1.8 .1 1.8-0 1.8-0 1.8-0 1.9-0 1.8-0 1.8-0 1.8-0 1.8-0 1.9-0 1.8-0 1.8-.1 1.8-.1 1.8-0 1.9-.1 1.8-.1 1.8-.2 1.8-.2 1.8-.3 1.9-.4 1.8-.4 1.8-.5 1.8-.6 1.8-.7 1.9-.7 1.8-.7 1.8-.6 1.8-.7 1.8-.7 1.9-.7 1.8-.6 1.8-.6 1.8-.5 1.8-.6 1.8-.4 1.9-.5 1.8-.3 1.8-.3 1.8-.2 1.8-.1 1.9 0 1.8 .2 1.8 .2 1.8 .2 1.8 .6 1.9 .9 1.8 1.2 1.8 1.1 1.8 1.4 1.8 1.6 1.9 1.5 1.8 1.1 1.8 .5" stroke="#4DBEEE"/></g><clipPath id="cA2"><rect x="237.5" y="7.5" width="131.0" height="109.0"/></clipPath><rect x="237.5" y="9.5" width="131.0" height="105.0" fill="none" stroke="#a6a6a6" stroke-width="1.4"/><path d="M237.5 9.5h1.3M368.5 9.5h-1.3M237.5 35.75h1.3M368.5 35.75h-1.3M237.5 62h1.3M368.5 62h-1.3M237.5 88.25h1.3M368.5 88.25h-1.3M237.5 114.5h1.3M368.5 114.5h-1.3M237.5 114.5v-1.3M237.5 9.5v1.3M303 114.5v-1.3M303 9.5v1.3M368.5 114.5v-1.3M368.5 9.5v1.3" stroke="#666" stroke-width="1" fill="none"/><text x="234.5" y="13.4" text-anchor="end" class="t">0.06</text><text x="234.5" y="39.65" text-anchor="end" class="t">0.03</text><text x="234.5" y="65.9" text-anchor="end" class="t">0</text><text x="234.5" y="92.15" text-anchor="end" class="t">-0.03</text><text x="234.5" y="118.4" text-anchor="end" class="t">-0.06</text><text x="237.5" y="127" text-anchor="middle" class="t">0</text><text x="303" y="127" text-anchor="middle" class="t">0.5</text><text x="368.5" y="127" text-anchor="middle" class="t">1</text><text x="305.1" y="140.7" text-anchor="middle" class="l xl">Standing Wave (BL)</text><text transform="translate(210.19 62) rotate(-90)" text-anchor="middle" class="l yl">Displacement (BL)</text><path d="M475 9.5V114.5M408.5 35.75H541.5M408.5 62H541.5M408.5 88.25H541.5" stroke="#ebebeb" stroke-width="0.8" fill="none"/><g fill="none" stroke-width="1.0" stroke-opacity="0.62" clip-path="url(#cA3)"><path d="M408.5 47.0l1.8 1.1 1.9 1 1.8 1.1 1.9 .9 1.8 .9 1.9 .9 1.8 .9 1.9 .8 1.8 .7 1.9 .8 1.8 .7 1.9 .8 1.8 .7 1.9 .8 1.8 .8 1.9 .7 1.8 .7 1.9 .7 1.8 .6 1.8 .6 1.9 .6 1.8 .6 1.9 .5 1.8 .4 1.9 .4 1.8 .4 1.9 .3 1.8 .3 1.9 .2 1.8 .2 1.9 .2 1.8 .1 1.9 .2 1.8 .6 1.9 .7 1.8 .8 1.8 .8 1.9 .8 1.8 .8 1.9 .9 1.8 .7 1.9 .5 1.8 .4 1.9 .1 1.8-.1 1.9-.3 1.8-.6 1.9-.8 1.8-1.1 1.9-1.5 1.8-1.7 1.9-1.9 1.8-2.3 1.9-2.4 1.8-2.6 1.8-2.8 1.9-2.8 1.8-2.7 1.9-2.7 1.8-2.7 1.9-2.5 1.8-2.5 1.9-2.4 1.8-2.2 1.9-2.1 1.8-2 1.9-2 1.8-2.3 1.9-2.8 1.8-3.1 1.9-3.3 1.8-3.2" stroke="#0072BD"/><path d="M408.5 47.8l1.8 .6 1.9 .7 1.8 .7 1.9 .6 1.8 .7 1.9 .7 1.8 .6 1.9 .6 1.8 .6 1.9 .6 1.8 .6 1.9 .6 1.8 .7 1.9 .7 1.8 .8 1.9 .7 1.8 .7 1.9 .7 1.8 .7 1.8 .6 1.9 .6 1.8 .6 1.9 .6 1.8 .6 1.9 .5 1.8 .5 1.9 .4 1.8 .5 1.9 .3 1.8 .4 1.9 .3 1.8 .3 1.9 .3 1.8 .6 1.9 .9 1.8 .9 1.8 1 1.9 1 1.8 1.2 1.9 1.1 1.8 1.2 1.9 1 1.8 .9 1.9 .7 1.8 .5 1.9 .4 1.8 0 1.9-.1 1.8-.5 1.9-.7 1.8-1 1.9-1.4 1.8-1.7 1.9-1.9 1.8-2.2 1.8-2.5 1.9-2.6 1.8-2.8 1.9-2.8 1.8-2.9 1.9-2.8 1.8-2.8 1.9-2.8 1.8-2.7 1.9-2.7 1.8-2.6 1.9-2.6 1.8-3 1.9-3.4 1.8-3.9 1.9-4.1 1.8-4.2" stroke="#D95319"/><path d="M408.5 49.9l1.8 .1 1.9 .3 1.8 .3 1.9 .3 1.8 .3 1.9 .4 1.8 .4 1.9 .3 1.8 .4 1.9 .3 1.8 .5 1.9 .4 1.8 .5 1.9 .6 1.8 .7 1.9 .6 1.8 .7 1.9 .6 1.8 .6 1.8 .7 1.9 .6 1.8 .6 1.9 .6 1.8 .6 1.9 .6 1.8 .5 1.9 .6 1.8 .5 1.9 .5 1.8 .4 1.9 .4 1.8 .4 1.9 .5 1.8 .6 1.9 .9 1.8 1 1.8 1.1 1.9 1.2 1.8 1.3 1.9 1.4 1.8 1.5 1.9 1.3 1.8 1.3 1.9 1.3 1.8 1.1 1.9 .9 1.8 .7 1.9 .6 1.8 .3 1.9 0 1.8-.3 1.9-.6 1.8-1 1.9-1.2 1.8-1.6 1.8-1.9 1.9-2.3 1.8-2.5 1.9-2.6 1.8-2.8 1.9-2.8 1.8-2.9 1.9-2.9 1.8-3 1.9-2.9 1.8-3 1.9-3 1.8-3.3 1.9-3.8 1.8-4.2 1.9-4.6 1.8-4.8" stroke="#EDB120"/><path d="M408.5 53.2l1.8-.4 1.9-.2 1.8-.1 1.9-.1 1.8-0 1.9 0 1.8 .1 1.9 .1 1.8 .1 1.9 .1 1.8 .2 1.9 .2 1.8 .3 1.9 .4 1.8 .5 1.9 .5 1.8 .5 1.9 .6 1.8 .5 1.8 .5 1.9 .6 1.8 .5 1.9 .6 1.8 .6 1.9 .6 1.8 .6 1.9 .5 1.8 .6 1.9 .5 1.8 .5 1.9 .5 1.8 .5 1.9 .5 1.8 .6 1.9 .9 1.8 .9 1.8 1.1 1.9 1.2 1.8 1.3 1.9 1.6 1.8 1.6 1.9 1.6 1.8 1.6 1.9 1.6 1.8 1.6 1.9 1.4 1.8 1.4 1.9 1.1 1.8 1 1.9 .8 1.8 .5 1.9 .2 1.8-.2 1.9-.4 1.8-.8 1.8-1.2 1.9-1.6 1.8-2 1.9-2.3 1.8-2.4 1.9-2.5 1.8-2.7 1.9-2.8 1.8-2.8 1.9-3 1.8-3 1.9-3.1 1.8-3.4 1.9-3.7 1.8-4.1 1.9-4.6 1.8-5" stroke="#7E2F8E"/><path d="M408.5 57.4l1.8-.9 1.9-.6 1.8-.6 1.9-.4 1.8-.4 1.9-.3 1.8-.2 1.9-.2 1.8-.2 1.9-.2 1.8-0 1.9-.1 1.8 .1 1.9 .2 1.8 .3 1.9 .3 1.8 .3 1.9 .4 1.8 .4 1.8 .4 1.9 .4 1.8 .4 1.9 .5 1.8 .5 1.9 .6 1.8 .5 1.9 .6 1.8 .5 1.9 .5 1.8 .6 1.9 .5 1.8 .5 1.9 .5 1.8 .6 1.9 .7 1.8 .8 1.8 .9 1.9 1.1 1.8 1.3 1.9 1.5 1.8 1.6 1.9 1.7 1.8 1.7 1.9 1.9 1.8 1.8 1.9 1.9 1.8 1.8 1.9 1.7 1.8 1.6 1.9 1.5 1.8 1.2 1.9 .9 1.8 .7 1.9 .4 1.8 .1 1.8-.4 1.9-.8 1.8-1.3 1.9-1.6 1.8-1.8 1.9-2.1 1.8-2.1 1.9-2.4 1.8-2.5 1.9-2.7 1.8-2.8 1.9-2.9 1.8-3 1.9-3.3 1.8-3.7 1.9-4.1 1.8-4.6" stroke="#77AC30"/><path d="M408.5 62.0l1.8-1.2 1.9-1.1 1.8-.9 1.9-.8 1.8-.6 1.9-.6 1.8-.6 1.9-.4 1.8-.5 1.9-.4 1.8-.3 1.9-.3 1.8-.1 1.9-.1 1.8 0 1.9 .1 1.8 .2 1.9 .1 1.8 .2 1.8 .2 1.9 .3 1.8 .3 1.9 .3 1.8 .4 1.9 .5 1.8 .4 1.9 .5 1.8 .5 1.9 .4 1.8 .5 1.9 .5 1.8 .5 1.9 .5 1.8 .4 1.9 .5 1.8 .6 1.8 .7 1.9 .9 1.8 1.1 1.9 1.3 1.8 1.4 1.9 1.7 1.8 1.7 1.9 1.9 1.8 1.9 1.9 2.1 1.8 2.1 1.9 2 1.8 2.1 1.9 2 1.8 1.9 1.9 1.6 1.8 1.4 1.9 1.2 1.8 1 1.8 .5 1.9-0 1.8-.5 1.9-.8 1.8-1 1.9-1.3 1.8-1.5 1.9-1.7 1.8-2 1.9-2.1 1.8-2.3 1.9-2.4 1.8-2.4 1.9-2.6 1.8-2.8 1.9-3.3 1.8-3.8" stroke="#4DBEEE"/><path d="M408.5 66.6l1.8-1.5 1.9-1.3 1.8-1.2 1.9-1 1.8-.9 1.9-.9 1.8-.7 1.9-.7 1.8-.7 1.9-.6 1.8-.5 1.9-.5 1.8-.4 1.9-.3 1.8-.2 1.9-.2 1.8-0 1.9-.1 1.8-0 1.8-0 1.9 .1 1.8 .1 1.9 .1 1.8 .3 1.9 .3 1.8 .3 1.9 .3 1.8 .4 1.9 .4 1.8 .4 1.9 .4 1.8 .4 1.9 .4 1.8 .3 1.9 .2 1.8 .3 1.8 .5 1.9 .6 1.8 .8 1.9 .9 1.8 1.2 1.9 1.3 1.8 1.6 1.9 1.7 1.8 1.9 1.9 2.1 1.8 2.1 1.9 2.3 1.8 2.3 1.9 2.3 1.8 2.3 1.9 2.2 1.8 2 1.9 1.9 1.8 1.7 1.8 1.4 1.9 .8 1.8 .4 1.9 .1 1.8-.2 1.9-.4 1.8-.7 1.9-.9 1.8-1.1 1.9-1.4 1.8-1.5 1.9-1.7 1.8-1.6 1.9-1.6 1.8-1.7 1.9-2.1 1.8-2.7" stroke="#A2142F"/><path d="M408.5 70.8l1.8-1.6 1.9-1.5 1.8-1.3 1.9-1.2 1.8-1.1 1.9-1 1.8-.9 1.9-.9 1.8-.8 1.9-.7 1.8-.7 1.9-.7 1.8-.6 1.9-.5 1.8-.4 1.9-.4 1.8-.3 1.9-.2 1.8-.3 1.8-.1 1.9-.2 1.8-.1 1.9 0 1.8 .1 1.9 .1 1.8 .1 1.9 .2 1.8 .2 1.9 .3 1.8 .3 1.9 .3 1.8 .3 1.9 .3 1.8 0 1.9-0 1.8-0 1.8 .1 1.9 .3 1.8 .3 1.9 .6 1.8 .7 1.9 1 1.8 1.2 1.9 1.5 1.8 1.6 1.9 1.8 1.8 2.1 1.9 2.1 1.8 2.4 1.9 2.4 1.8 2.5 1.9 2.5 1.8 2.5 1.9 2.4 1.8 2.3 1.8 2 1.9 1.7 1.8 1.2 1.9 1 1.8 .6 1.9 .5 1.8 .2 1.9 .1 1.8-.3 1.9-.5 1.8-.6 1.9-.8 1.8-.6 1.9-.4 1.8-.5 1.9-.8 1.8-1.1" stroke="#0072BD"/><path d="M408.5 74.1l1.8-1.6 1.9-1.4 1.8-1.4 1.9-1.2 1.8-1.2 1.9-1 1.8-1 1.9-1 1.8-.8 1.9-.9 1.8-.8 1.9-.7 1.8-.8 1.9-.6 1.8-.6 1.9-.6 1.8-.4 1.9-.5 1.8-.4 1.8-.4 1.9-.3 1.8-.2 1.9-.2 1.8-.2 1.9-.1 1.8 0 1.9 0 1.8 .1 1.9 .1 1.8 .1 1.9 .2 1.8 .1 1.9 .1 1.8-.1 1.9-.3 1.8-.3 1.8-.2 1.9-.1 1.8-.1 1.9 .1 1.8 .2 1.9 .6 1.8 .7 1.9 1 1.8 1.2 1.9 1.5 1.8 1.7 1.9 1.9 1.8 2.1 1.9 2.3 1.8 2.5 1.9 2.5 1.8 2.7 1.9 2.7 1.8 2.6 1.8 2.6 1.9 2.2 1.8 2 1.9 1.7 1.8 1.5 1.9 1.3 1.8 1.1 1.9 1 1.8 .6 1.9 .5 1.8 .3 1.9 .2 1.8 .4 1.9 .8 1.8 .8 1.9 .7 1.8 .4" stroke="#D95319"/><path d="M408.5 76.2l1.8-1.3 1.9-1.4 1.8-1.2 1.9-1.2 1.8-1.1 1.9-1 1.8-1 1.9-.9 1.8-.8 1.9-.8 1.8-.9 1.9-.8 1.8-.7 1.9-.8 1.8-.7 1.9-.7 1.8-.6 1.9-.6 1.8-.6 1.8-.5 1.9-.4 1.8-.5 1.9-.3 1.8-.4 1.9-.2 1.8-.2 1.9-.2 1.8-.1 1.9-.1 1.8 0 1.9 0 1.8 0 1.9-0 1.8-.4 1.9-.5 1.8-.6 1.8-.6 1.9-.4 1.8-.5 1.9-.4 1.8-.2 1.9-0 1.8 .2 1.9 .4 1.8 .7 1.9 .9 1.8 1.2 1.9 1.5 1.8 1.7 1.9 1.9 1.8 2.2 1.9 2.4 1.8 2.6 1.9 2.7 1.8 2.8 1.8 2.7 1.9 2.7 1.8 2.5 1.9 2.3 1.8 2.2 1.9 2 1.8 1.9 1.9 1.7 1.8 1.5 1.9 1.4 1.8 1.2 1.9 1.2 1.8 1.4 1.9 1.9 1.8 2.1 1.9 2 1.8 1.9" stroke="#EDB120"/><path d="M408.5 77.0l1.8-1.1 1.9-1 1.8-1.1 1.9-.9 1.8-.9 1.9-.9 1.8-.9 1.9-.8 1.8-.7 1.9-.8 1.8-.7 1.9-.8 1.8-.7 1.9-.8 1.8-.8 1.9-.7 1.8-.7 1.9-.7 1.8-.6 1.8-.6 1.9-.6 1.8-.6 1.9-.5 1.8-.4 1.9-.4 1.8-.4 1.9-.3 1.8-.3 1.9-.2 1.8-.2 1.9-.2 1.8-.1 1.9-.2 1.8-.6 1.9-.7 1.8-.8 1.8-.8 1.9-.8 1.8-.8 1.9-.9 1.8-.7 1.9-.5 1.8-.4 1.9-.1 1.8 .1 1.9 .3 1.8 .6 1.9 .8 1.8 1.1 1.9 1.5 1.8 1.7 1.9 1.9 1.8 2.3 1.9 2.4 1.8 2.6 1.8 2.8 1.9 2.8 1.8 2.7 1.9 2.7 1.8 2.7 1.9 2.5 1.8 2.5 1.9 2.4 1.8 2.2 1.9 2.1 1.8 2 1.9 2 1.8 2.3 1.9 2.8 1.8 3.1 1.9 3.3 1.8 3.2" stroke="#7E2F8E"/><path d="M408.5 76.2l1.8-.6 1.9-.7 1.8-.7 1.9-.6 1.8-.7 1.9-.7 1.8-.6 1.9-.6 1.8-.6 1.9-.6 1.8-.6 1.9-.6 1.8-.7 1.9-.7 1.8-.8 1.9-.7 1.8-.7 1.9-.7 1.8-.7 1.8-.6 1.9-.6 1.8-.6 1.9-.6 1.8-.6 1.9-.5 1.8-.5 1.9-.4 1.8-.5 1.9-.3 1.8-.4 1.9-.3 1.8-.3 1.9-.3 1.8-.6 1.9-.9 1.8-.9 1.8-1 1.9-1 1.8-1.2 1.9-1.1 1.8-1.2 1.9-1 1.8-.9 1.9-.7 1.8-.5 1.9-.4 1.8-0 1.9 .1 1.8 .5 1.9 .7 1.8 1 1.9 1.4 1.8 1.7 1.9 1.9 1.8 2.2 1.8 2.5 1.9 2.6 1.8 2.8 1.9 2.8 1.8 2.9 1.9 2.8 1.8 2.8 1.9 2.8 1.8 2.7 1.9 2.7 1.8 2.6 1.9 2.6 1.8 3 1.9 3.4 1.8 3.9 1.9 4.1 1.8 4.2" stroke="#77AC30"/><path d="M408.5 74.1l1.8-.1 1.9-.3 1.8-.3 1.9-.3 1.8-.3 1.9-.4 1.8-.4 1.9-.3 1.8-.4 1.9-.3 1.8-.5 1.9-.4 1.8-.5 1.9-.6 1.8-.7 1.9-.6 1.8-.7 1.9-.6 1.8-.6 1.8-.7 1.9-.6 1.8-.6 1.9-.6 1.8-.6 1.9-.6 1.8-.5 1.9-.6 1.8-.5 1.9-.5 1.8-.4 1.9-.4 1.8-.4 1.9-.5 1.8-.6 1.9-.9 1.8-1 1.8-1.1 1.9-1.2 1.8-1.3 1.9-1.4 1.8-1.5 1.9-1.3 1.8-1.3 1.9-1.3 1.8-1.1 1.9-.9 1.8-.7 1.9-.6 1.8-.3 1.9-0 1.8 .3 1.9 .6 1.8 1 1.9 1.2 1.8 1.6 1.8 1.9 1.9 2.3 1.8 2.5 1.9 2.6 1.8 2.8 1.9 2.8 1.8 2.9 1.9 2.9 1.8 3 1.9 2.9 1.8 3 1.9 3 1.8 3.3 1.9 3.8 1.8 4.2 1.9 4.6 1.8 4.8" stroke="#4DBEEE"/><path d="M408.5 70.8l1.8 .4 1.9 .2 1.8 .1 1.9 .1 1.8 0 1.9-0 1.8-.1 1.9-.1 1.8-.1 1.9-.1 1.8-.2 1.9-.2 1.8-.3 1.9-.4 1.8-.5 1.9-.5 1.8-.5 1.9-.6 1.8-.5 1.8-.5 1.9-.6 1.8-.5 1.9-.6 1.8-.6 1.9-.6 1.8-.6 1.9-.5 1.8-.6 1.9-.5 1.8-.5 1.9-.5 1.8-.5 1.9-.5 1.8-.6 1.9-.9 1.8-.9 1.8-1.1 1.9-1.2 1.8-1.3 1.9-1.6 1.8-1.6 1.9-1.6 1.8-1.6 1.9-1.6 1.8-1.6 1.9-1.4 1.8-1.4 1.9-1.1 1.8-1 1.9-.8 1.8-.5 1.9-.2 1.8 .2 1.9 .4 1.8 .8 1.8 1.2 1.9 1.6 1.8 2 1.9 2.3 1.8 2.4 1.9 2.5 1.8 2.7 1.9 2.8 1.8 2.8 1.9 3 1.8 3 1.9 3.1 1.8 3.4 1.9 3.7 1.8 4.1 1.9 4.6 1.8 5" stroke="#A2142F"/><path d="M408.5 66.6l1.8 .9 1.9 .6 1.8 .6 1.9 .4 1.8 .4 1.9 .3 1.8 .2 1.9 .2 1.8 .2 1.9 .2 1.8 0 1.9 .1 1.8-.1 1.9-.2 1.8-.3 1.9-.3 1.8-.3 1.9-.4 1.8-.4 1.8-.4 1.9-.4 1.8-.4 1.9-.5 1.8-.5 1.9-.6 1.8-.5 1.9-.6 1.8-.5 1.9-.5 1.8-.6 1.9-.5 1.8-.5 1.9-.5 1.8-.6 1.9-.7 1.8-.8 1.8-.9 1.9-1.1 1.8-1.3 1.9-1.5 1.8-1.6 1.9-1.7 1.8-1.7 1.9-1.9 1.8-1.8 1.9-1.9 1.8-1.8 1.9-1.7 1.8-1.6 1.9-1.5 1.8-1.2 1.9-.9 1.8-.7 1.9-.4 1.8-.1 1.8 .4 1.9 .8 1.8 1.3 1.9 1.6 1.8 1.8 1.9 2.1 1.8 2.1 1.9 2.4 1.8 2.5 1.9 2.7 1.8 2.8 1.9 2.9 1.8 3 1.9 3.3 1.8 3.7 1.9 4.1 1.8 4.6" stroke="#0072BD"/><path d="M408.5 62.0l1.8 1.2 1.9 1.1 1.8 .9 1.9 .8 1.8 .6 1.9 .6 1.8 .6 1.9 .4 1.8 .5 1.9 .4 1.8 .3 1.9 .3 1.8 .1 1.9 .1 1.8-0 1.9-.1 1.8-.2 1.9-.1 1.8-.2 1.8-.2 1.9-.3 1.8-.3 1.9-.3 1.8-.4 1.9-.5 1.8-.4 1.9-.5 1.8-.5 1.9-.4 1.8-.5 1.9-.5 1.8-.5 1.9-.5 1.8-.4 1.9-.5 1.8-.6 1.8-.7 1.9-.9 1.8-1.1 1.9-1.3 1.8-1.4 1.9-1.7 1.8-1.7 1.9-1.9 1.8-1.9 1.9-2.1 1.8-2.1 1.9-2 1.8-2.1 1.9-2 1.8-1.9 1.9-1.6 1.8-1.4 1.9-1.2 1.8-1 1.8-.5 1.9 0 1.8 .5 1.9 .8 1.8 1 1.9 1.3 1.8 1.5 1.9 1.7 1.8 2 1.9 2.1 1.8 2.3 1.9 2.4 1.8 2.4 1.9 2.6 1.8 2.8 1.9 3.3 1.8 3.8" stroke="#D95319"/><path d="M408.5 57.4l1.8 1.5 1.9 1.3 1.8 1.2 1.9 1 1.8 .9 1.9 .9 1.8 .7 1.9 .7 1.8 .7 1.9 .6 1.8 .5 1.9 .5 1.8 .4 1.9 .3 1.8 .2 1.9 .2 1.8 0 1.9 .1 1.8 0 1.8 0 1.9-.1 1.8-.1 1.9-.1 1.8-.3 1.9-.3 1.8-.3 1.9-.3 1.8-.4 1.9-.4 1.8-.4 1.9-.4 1.8-.4 1.9-.4 1.8-.3 1.9-.2 1.8-.3 1.8-.5 1.9-.6 1.8-.8 1.9-.9 1.8-1.2 1.9-1.3 1.8-1.6 1.9-1.7 1.8-1.9 1.9-2.1 1.8-2.1 1.9-2.3 1.8-2.3 1.9-2.3 1.8-2.3 1.9-2.2 1.8-2 1.9-1.9 1.8-1.7 1.8-1.4 1.9-.8 1.8-.4 1.9-.1 1.8 .2 1.9 .4 1.8 .7 1.9 .9 1.8 1.1 1.9 1.4 1.8 1.5 1.9 1.7 1.8 1.6 1.9 1.6 1.8 1.7 1.9 2.1 1.8 2.7" stroke="#EDB120"/><path d="M408.5 53.2l1.8 1.6 1.9 1.5 1.8 1.3 1.9 1.2 1.8 1.1 1.9 1 1.8 .9 1.9 .9 1.8 .8 1.9 .7 1.8 .7 1.9 .7 1.8 .6 1.9 .5 1.8 .4 1.9 .4 1.8 .3 1.9 .2 1.8 .3 1.8 .1 1.9 .2 1.8 .1 1.9-0 1.8-.1 1.9-.1 1.8-.1 1.9-.2 1.8-.2 1.9-.3 1.8-.3 1.9-.3 1.8-.3 1.9-.3 1.8-0 1.9 0 1.8 0 1.8-.1 1.9-.3 1.8-.3 1.9-.6 1.8-.7 1.9-1 1.8-1.2 1.9-1.5 1.8-1.6 1.9-1.8 1.8-2.1 1.9-2.1 1.8-2.4 1.9-2.4 1.8-2.5 1.9-2.5 1.8-2.5 1.9-2.4 1.8-2.3 1.8-2 1.9-1.7 1.8-1.2 1.9-1 1.8-.6 1.9-.5 1.8-.2 1.9-.1 1.8 .3 1.9 .5 1.8 .6 1.9 .8 1.8 .6 1.9 .4 1.8 .5 1.9 .8 1.8 1.1" stroke="#7E2F8E"/><path d="M408.5 49.9l1.8 1.6 1.9 1.4 1.8 1.4 1.9 1.2 1.8 1.2 1.9 1 1.8 1 1.9 1 1.8 .8 1.9 .9 1.8 .8 1.9 .7 1.8 .8 1.9 .6 1.8 .6 1.9 .6 1.8 .4 1.9 .5 1.8 .4 1.8 .4 1.9 .3 1.8 .2 1.9 .2 1.8 .2 1.9 .1 1.8-0 1.9-0 1.8-.1 1.9-.1 1.8-.1 1.9-.2 1.8-.1 1.9-.1 1.8 .1 1.9 .3 1.8 .3 1.8 .2 1.9 .1 1.8 .1 1.9-.1 1.8-.2 1.9-.6 1.8-.7 1.9-1 1.8-1.2 1.9-1.5 1.8-1.7 1.9-1.9 1.8-2.1 1.9-2.3 1.8-2.5 1.9-2.5 1.8-2.7 1.9-2.7 1.8-2.6 1.8-2.6 1.9-2.2 1.8-2 1.9-1.7 1.8-1.5 1.9-1.3 1.8-1.1 1.9-1 1.8-.6 1.9-.5 1.8-.3 1.9-.2 1.8-.4 1.9-.8 1.8-.8 1.9-.7 1.8-.4" stroke="#77AC30"/><path d="M408.5 47.8l1.8 1.3 1.9 1.4 1.8 1.2 1.9 1.2 1.8 1.1 1.9 1 1.8 1 1.9 .9 1.8 .8 1.9 .8 1.8 .9 1.9 .8 1.8 .7 1.9 .8 1.8 .7 1.9 .7 1.8 .6 1.9 .6 1.8 .6 1.8 .5 1.9 .4 1.8 .5 1.9 .3 1.8 .4 1.9 .2 1.8 .2 1.9 .2 1.8 .1 1.9 .1 1.8-0 1.9-0 1.8-0 1.9 0 1.8 .4 1.9 .5 1.8 .6 1.8 .6 1.9 .4 1.8 .5 1.9 .4 1.8 .2 1.9 0 1.8-.2 1.9-.4 1.8-.7 1.9-.9 1.8-1.2 1.9-1.5 1.8-1.7 1.9-1.9 1.8-2.2 1.9-2.4 1.8-2.6 1.9-2.7 1.8-2.8 1.8-2.7 1.9-2.7 1.8-2.5 1.9-2.3 1.8-2.2 1.9-2 1.8-1.9 1.9-1.7 1.8-1.5 1.9-1.4 1.8-1.2 1.9-1.2 1.8-1.4 1.9-1.9 1.8-2.1 1.9-2 1.8-1.9" stroke="#4DBEEE"/></g><clipPath id="cA3"><rect x="408.5" y="7.5" width="133.0" height="109.0"/></clipPath><rect x="408.5" y="9.5" width="133.0" height="105.0" fill="none" stroke="#a6a6a6" stroke-width="1.4"/><path d="M408.5 9.5h1.3M541.5 9.5h-1.3M408.5 35.75h1.3M541.5 35.75h-1.3M408.5 62h1.3M541.5 62h-1.3M408.5 88.25h1.3M541.5 88.25h-1.3M408.5 114.5h1.3M541.5 114.5h-1.3M408.5 114.5v-1.3M408.5 9.5v1.3M475 114.5v-1.3M475 9.5v1.3M541.5 114.5v-1.3M541.5 9.5v1.3" stroke="#666" stroke-width="1" fill="none"/><text x="405.5" y="13.4" text-anchor="end" class="t">0.2</text><text x="405.5" y="39.65" text-anchor="end" class="t">0.1</text><text x="405.5" y="65.9" text-anchor="end" class="t">0</text><text x="405.5" y="92.15" text-anchor="end" class="t">-0.1</text><text x="405.5" y="118.4" text-anchor="end" class="t">-0.2</text><text x="408.5" y="127" text-anchor="middle" class="t">0</text><text x="475" y="127" text-anchor="middle" class="t">0.5</text><text x="541.5" y="127" text-anchor="middle" class="t">1</text><text x="474.3" y="140.7" text-anchor="middle" class="l xl">Traveling Wave (BL)</text><text transform="translate(386.19 62) rotate(-90)" text-anchor="middle" class="l yl">Displacement (BL)</text><path d="M126.5 153.5V258.5M61.5 179.75H191.5M61.5 206H191.5M61.5 232.25H191.5" stroke="#ebebeb" stroke-width="0.8" fill="none"/><g fill="none" stroke-width="1.0" stroke-opacity="0.62" clip-path="url(#cB1)"><path d="M61.5 196.2l1.8 .4 1.8 .6 1.8 .5 1.8 .6 1.8 .6 1.8 .6 1.8 .7 1.8 .6 1.9 .6 1.8 .6 1.8 .5 1.8 .6 1.8 .5 1.8 .5 1.8 .5 1.8 .5 1.8 .4 1.8 .5 1.8 .4 1.8 .5 1.8 .4 1.8 .4 1.8 .5 1.8 .4 1.8 .5 1.8 .5 1.9 .5 1.8 .5 1.8 .6 1.8 .6 1.8 .6 1.8 .7 1.8 .8 1.8 .8 1.8 .8 1.8 .7 1.8 .8 1.8 .7 1.8 .6 1.8 .5 1.8 .3 1.8 .2 1.8 0 1.8-.1 1.8-.4 1.9-.7 1.8-.8 1.8-1 1.8-1.3 1.8-1.5 1.8-1.6 1.8-1.8 1.8-2 1.8-2.1 1.8-2.3 1.8-2.3 1.8-2.6 1.8-2.6 1.8-2.8 1.8-2.9 1.8-3 1.8-3 1.8-3.1 1.9-3.1 1.8-3.2 1.8-3.1 1.8-3.2 1.8-3.1 1.8-3 1.8-3 1.8-2.7 1.8-2.4" stroke="#0072BD"/><path d="M61.5 196.7l1.8 .2 1.8 .2 1.8 .3 1.8 .4 1.8 .4 1.8 .5 1.8 .5 1.8 .5 1.9 .5 1.8 .5 1.8 .5 1.8 .4 1.8 .5 1.8 .5 1.8 .4 1.8 .5 1.8 .5 1.8 .4 1.8 .5 1.8 .4 1.8 .4 1.8 .5 1.8 .4 1.8 .5 1.8 .5 1.8 .5 1.9 .5 1.8 .6 1.8 .6 1.8 .7 1.8 .7 1.8 .8 1.8 .9 1.8 .9 1.8 1 1.8 .9 1.8 1.1 1.8 1 1.8 .9 1.8 .9 1.8 .8 1.8 .7 1.8 .5 1.8 .3 1.8 .2 1.9-.1 1.8-.2 1.8-.5 1.8-.8 1.8-.9 1.8-1.2 1.8-1.4 1.8-1.5 1.8-1.8 1.8-1.9 1.8-2.1 1.8-2.2 1.8-2.5 1.8-2.6 1.8-2.8 1.8-3 1.8-3.1 1.8-3.3 1.9-3.4 1.8-3.5 1.8-3.6 1.8-3.7 1.8-3.8 1.8-3.8 1.8-3.9 1.8-3.8 1.8-3.6" stroke="#D95319"/><path d="M61.5 198.1l1.8-.1 1.8-.1 1.8 .1 1.8 .1 1.8 .2 1.8 .3 1.8 .3 1.8 .3 1.9 .4 1.8 .3 1.8 .4 1.8 .4 1.8 .3 1.8 .4 1.8 .4 1.8 .4 1.8 .4 1.8 .4 1.8 .4 1.8 .4 1.8 .4 1.8 .4 1.8 .4 1.8 .4 1.8 .5 1.8 .5 1.9 .5 1.8 .6 1.8 .6 1.8 .6 1.8 .7 1.8 .8 1.8 .9 1.8 1 1.8 1.1 1.8 1.1 1.8 1.2 1.8 1.2 1.8 1.2 1.8 1.2 1.8 1.1 1.8 1.1 1.8 1 1.8 .8 1.8 .7 1.9 .5 1.8 .4 1.8 .1 1.8-.2 1.8-.3 1.8-.6 1.8-.8 1.8-1 1.8-1.2 1.8-1.4 1.8-1.6 1.8-1.8 1.8-2 1.8-2.2 1.8-2.5 1.8-2.6 1.8-2.9 1.8-3.1 1.9-3.4 1.8-3.5 1.8-3.7 1.8-3.9 1.8-4.1 1.8-4.2 1.8-4.4 1.8-4.5 1.8-4.5" stroke="#EDB120"/><path d="M61.5 200.2l1.8-.4 1.8-.3 1.8-.2 1.8-.1 1.8-.1 1.8 .1 1.8 .1 1.8 .1 1.9 .2 1.8 .2 1.8 .2 1.8 .2 1.8 .2 1.8 .3 1.8 .2 1.8 .3 1.8 .3 1.8 .3 1.8 .4 1.8 .3 1.8 .3 1.8 .3 1.8 .4 1.8 .3 1.8 .4 1.8 .5 1.9 .4 1.8 .5 1.8 .5 1.8 .6 1.8 .7 1.8 .7 1.8 .8 1.8 1 1.8 1 1.8 1.1 1.8 1.3 1.8 1.3 1.8 1.3 1.8 1.4 1.8 1.4 1.8 1.4 1.8 1.3 1.8 1.3 1.8 1.1 1.9 1.1 1.8 .8 1.8 .7 1.8 .5 1.8 .3 1.8 0 1.8-.1 1.8-.3 1.8-.6 1.8-.7 1.8-.9 1.8-1.1 1.8-1.4 1.8-1.6 1.8-1.9 1.8-2.1 1.8-2.4 1.8-2.7 1.9-2.9 1.8-3.2 1.8-3.4 1.8-3.7 1.8-4 1.8-4.3 1.8-4.5 1.8-4.7 1.8-4.9" stroke="#7E2F8E"/><path d="M61.5 203.0l1.8-.7 1.8-.5 1.8-.5 1.8-.3 1.8-.3 1.8-.3 1.8-.1 1.8-.1 1.9 0 1.8 0 1.8 0 1.8 .1 1.8 0 1.8 .2 1.8 .1 1.8 .1 1.8 .2 1.8 .2 1.8 .2 1.8 .2 1.8 .3 1.8 .2 1.8 .2 1.8 .3 1.8 .2 1.8 .4 1.9 .3 1.8 .3 1.8 .4 1.8 .5 1.8 .5 1.8 .6 1.8 .7 1.8 .8 1.8 .9 1.8 1.1 1.8 1.1 1.8 1.3 1.8 1.3 1.8 1.5 1.8 1.5 1.8 1.5 1.8 1.6 1.8 1.6 1.8 1.5 1.9 1.4 1.8 1.4 1.8 1.2 1.8 1 1.8 .9 1.8 .7 1.8 .5 1.8 .4 1.8 .2 1.8-0 1.8-.2 1.8-.3 1.8-.6 1.8-.9 1.8-1.1 1.8-1.3 1.8-1.7 1.8-1.9 1.9-2.2 1.8-2.6 1.8-2.8 1.8-3.2 1.8-3.5 1.8-3.8 1.8-4.2 1.8-4.6 1.8-4.8" stroke="#77AC30"/><path d="M61.5 206.0l1.8-.8 1.8-.8 1.8-.6 1.8-.6 1.8-.5 1.8-.4 1.8-.4 1.8-.3 1.9-.2 1.8-.2 1.8-.1 1.8-.2 1.8-.1 1.8-0 1.8-0 1.8-.1 1.8 .1 1.8 .1 1.8 0 1.8 .1 1.8 .1 1.8 .1 1.8 .1 1.8 .1 1.8 .2 1.8 .1 1.9 .2 1.8 .2 1.8 .3 1.8 .3 1.8 .3 1.8 .4 1.8 .5 1.8 .6 1.8 .7 1.8 .8 1.8 1 1.8 1.1 1.8 1.2 1.8 1.4 1.8 1.4 1.8 1.6 1.8 1.6 1.8 1.7 1.8 1.8 1.9 1.7 1.8 1.7 1.8 1.6 1.8 1.5 1.8 1.4 1.8 1.3 1.8 1.1 1.8 1 1.8 .9 1.8 .8 1.8 .6 1.8 .4 1.8 .2 1.8 0 1.8-.2 1.8-.4 1.8-.8 1.8-1 1.9-1.3 1.8-1.7 1.8-2 1.8-2.3 1.8-2.6 1.8-3.1 1.8-3.4 1.8-3.9 1.8-4.3" stroke="#4DBEEE"/><path d="M61.5 209.0l1.8-.9 1.8-.9 1.8-.8 1.8-.7 1.8-.7 1.8-.6 1.8-.5 1.8-.4 1.9-.4 1.8-.4 1.8-.3 1.8-.3 1.8-.3 1.8-.2 1.8-.2 1.8-.1 1.8-.1 1.8-.1 1.8-0 1.8-.1 1.8-0 1.8-.1 1.8-0 1.8-.1 1.8 0 1.8 0 1.9 .1 1.8-0 1.8 0 1.8 .1 1.8 .2 1.8 .1 1.8 .2 1.8 .4 1.8 .4 1.8 .5 1.8 .7 1.8 .8 1.8 1 1.8 1.2 1.8 1.3 1.8 1.4 1.8 1.6 1.8 1.6 1.8 1.8 1.9 1.8 1.8 1.9 1.8 1.8 1.8 1.9 1.8 1.7 1.8 1.8 1.8 1.6 1.8 1.6 1.8 1.5 1.8 1.4 1.8 1.3 1.8 1.2 1.8 1 1.8 .9 1.8 .7 1.8 .5 1.8 .2 1.8-0 1.9-.3 1.8-.6 1.8-.9 1.8-1.2 1.8-1.6 1.8-2 1.8-2.3 1.8-2.9 1.8-3.3" stroke="#A2142F"/><path d="M61.5 211.8l1.8-1 1.8-.9 1.8-.8 1.8-.8 1.8-.8 1.8-.7 1.8-.7 1.8-.6 1.9-.5 1.8-.5 1.8-.5 1.8-.4 1.8-.4 1.8-.3 1.8-.3 1.8-.3 1.8-.2 1.8-.3 1.8-.2 1.8-.1 1.8-.2 1.8-.2 1.8-.2 1.8-.2 1.8-.1 1.8-.1 1.9-.2 1.8-.1 1.8-.2 1.8-.1 1.8-.1 1.8-.1 1.8-.1 1.8 0 1.8 .2 1.8 .2 1.8 .3 1.8 .5 1.8 .6 1.8 .8 1.8 1 1.8 1.2 1.8 1.3 1.8 1.5 1.8 1.6 1.9 1.8 1.8 1.8 1.8 1.9 1.8 2 1.8 2 1.8 2 1.8 2 1.8 2 1.8 1.9 1.8 2 1.8 1.9 1.8 1.8 1.8 1.7 1.8 1.7 1.8 1.5 1.8 1.4 1.8 1.2 1.8 1 1.9 .7 1.8 .5 1.8 .3 1.8-0 1.8-.4 1.8-.6 1.8-1.1 1.8-1.5 1.8-2.1" stroke="#0072BD"/><path d="M61.5 213.9l1.8-.8 1.8-.9 1.8-.8 1.8-.8 1.8-.8 1.8-.8 1.8-.7 1.8-.7 1.9-.6 1.8-.6 1.8-.5 1.8-.5 1.8-.5 1.8-.4 1.8-.4 1.8-.4 1.8-.4 1.8-.3 1.8-.3 1.8-.3 1.8-.3 1.8-.3 1.8-.3 1.8-.3 1.8-.3 1.8-.3 1.9-.3 1.8-.3 1.8-.3 1.8-.3 1.8-.3 1.8-.4 1.8-.3 1.8-.3 1.8-.3 1.8-.1 1.8-.1 1.8 .1 1.8 .3 1.8 .4 1.8 .6 1.8 .7 1.8 1 1.8 1.1 1.8 1.4 1.9 1.5 1.8 1.6 1.8 1.8 1.8 2 1.8 2 1.8 2 1.8 2.2 1.8 2.2 1.8 2.2 1.8 2.3 1.8 2.2 1.8 2.4 1.8 2.2 1.8 2.3 1.8 2.2 1.8 2.1 1.8 2.1 1.8 1.9 1.9 1.7 1.8 1.6 1.8 1.3 1.8 1.2 1.8 1 1.8 .7 1.8 .3 1.8-0 1.8-.6" stroke="#D95319"/><path d="M61.5 215.3l1.8-.7 1.8-.7 1.8-.7 1.8-.7 1.8-.8 1.8-.7 1.8-.7 1.8-.7 1.9-.7 1.8-.6 1.8-.5 1.8-.6 1.8-.5 1.8-.5 1.8-.5 1.8-.4 1.8-.5 1.8-.4 1.8-.4 1.8-.4 1.8-.4 1.8-.3 1.8-.4 1.8-.4 1.8-.4 1.8-.4 1.9-.4 1.8-.5 1.8-.5 1.8-.4 1.8-.5 1.8-.6 1.8-.6 1.8-.5 1.8-.6 1.8-.4 1.8-.5 1.8-.3 1.8-.2 1.8-0 1.8 .1 1.8 .3 1.8 .5 1.8 .7 1.8 .9 1.9 1.1 1.8 1.3 1.8 1.5 1.8 1.7 1.8 1.8 1.8 2 1.8 2.1 1.8 2.1 1.8 2.3 1.8 2.4 1.8 2.5 1.8 2.5 1.8 2.6 1.8 2.7 1.8 2.6 1.8 2.7 1.8 2.7 1.8 2.6 1.9 2.6 1.8 2.4 1.8 2.4 1.8 2.3 1.8 2.1 1.8 2 1.8 1.7 1.8 1.4 1.8 1" stroke="#EDB120"/><path d="M61.5 215.8l1.8-.4 1.8-.6 1.8-.5 1.8-.6 1.8-.6 1.8-.6 1.8-.7 1.8-.6 1.9-.6 1.8-.6 1.8-.5 1.8-.6 1.8-.5 1.8-.5 1.8-.5 1.8-.5 1.8-.4 1.8-.5 1.8-.4 1.8-.5 1.8-.4 1.8-.4 1.8-.5 1.8-.4 1.8-.5 1.8-.5 1.9-.5 1.8-.5 1.8-.6 1.8-.6 1.8-.6 1.8-.7 1.8-.8 1.8-.8 1.8-.8 1.8-.7 1.8-.8 1.8-.7 1.8-.6 1.8-.5 1.8-.3 1.8-.2 1.8-0 1.8 .1 1.8 .4 1.9 .7 1.8 .8 1.8 1 1.8 1.3 1.8 1.5 1.8 1.6 1.8 1.8 1.8 2 1.8 2.1 1.8 2.3 1.8 2.3 1.8 2.6 1.8 2.6 1.8 2.8 1.8 2.9 1.8 3 1.8 3 1.8 3.1 1.9 3.1 1.8 3.2 1.8 3.1 1.8 3.2 1.8 3.1 1.8 3 1.8 3 1.8 2.7 1.8 2.4" stroke="#7E2F8E"/><path d="M61.5 215.3l1.8-.2 1.8-.2 1.8-.3 1.8-.4 1.8-.4 1.8-.5 1.8-.5 1.8-.5 1.9-.5 1.8-.5 1.8-.5 1.8-.4 1.8-.5 1.8-.5 1.8-.4 1.8-.5 1.8-.5 1.8-.4 1.8-.5 1.8-.4 1.8-.4 1.8-.5 1.8-.4 1.8-.5 1.8-.5 1.8-.5 1.9-.5 1.8-.6 1.8-.6 1.8-.7 1.8-.7 1.8-.8 1.8-.9 1.8-.9 1.8-1 1.8-.9 1.8-1.1 1.8-1 1.8-.9 1.8-.9 1.8-.8 1.8-.7 1.8-.5 1.8-.3 1.8-.2 1.9 .1 1.8 .2 1.8 .5 1.8 .8 1.8 .9 1.8 1.2 1.8 1.4 1.8 1.5 1.8 1.8 1.8 1.9 1.8 2.1 1.8 2.2 1.8 2.5 1.8 2.6 1.8 2.8 1.8 3 1.8 3.1 1.8 3.3 1.9 3.4 1.8 3.5 1.8 3.6 1.8 3.7 1.8 3.8 1.8 3.8 1.8 3.9 1.8 3.8 1.8 3.6" stroke="#77AC30"/><path d="M61.5 213.9l1.8 .1 1.8 .1 1.8-.1 1.8-.1 1.8-.2 1.8-.3 1.8-.3 1.8-.3 1.9-.4 1.8-.3 1.8-.4 1.8-.4 1.8-.3 1.8-.4 1.8-.4 1.8-.4 1.8-.4 1.8-.4 1.8-.4 1.8-.4 1.8-.4 1.8-.4 1.8-.4 1.8-.4 1.8-.5 1.8-.5 1.9-.5 1.8-.6 1.8-.6 1.8-.6 1.8-.7 1.8-.8 1.8-.9 1.8-1 1.8-1.1 1.8-1.1 1.8-1.2 1.8-1.2 1.8-1.2 1.8-1.2 1.8-1.1 1.8-1.1 1.8-1 1.8-.8 1.8-.7 1.9-.5 1.8-.4 1.8-.1 1.8 .2 1.8 .3 1.8 .6 1.8 .8 1.8 1 1.8 1.2 1.8 1.4 1.8 1.6 1.8 1.8 1.8 2 1.8 2.2 1.8 2.5 1.8 2.6 1.8 2.9 1.8 3.1 1.9 3.4 1.8 3.5 1.8 3.7 1.8 3.9 1.8 4.1 1.8 4.2 1.8 4.4 1.8 4.5 1.8 4.5" stroke="#4DBEEE"/><path d="M61.5 211.8l1.8 .4 1.8 .3 1.8 .2 1.8 .1 1.8 .1 1.8-.1 1.8-.1 1.8-.1 1.9-.2 1.8-.2 1.8-.2 1.8-.2 1.8-.2 1.8-.3 1.8-.2 1.8-.3 1.8-.3 1.8-.3 1.8-.4 1.8-.3 1.8-.3 1.8-.3 1.8-.4 1.8-.3 1.8-.4 1.8-.5 1.9-.4 1.8-.5 1.8-.5 1.8-.6 1.8-.7 1.8-.7 1.8-.8 1.8-1 1.8-1 1.8-1.1 1.8-1.3 1.8-1.3 1.8-1.3 1.8-1.4 1.8-1.4 1.8-1.4 1.8-1.3 1.8-1.3 1.8-1.1 1.9-1.1 1.8-.8 1.8-.7 1.8-.5 1.8-.3 1.8-0 1.8 .1 1.8 .3 1.8 .6 1.8 .7 1.8 .9 1.8 1.1 1.8 1.4 1.8 1.6 1.8 1.9 1.8 2.1 1.8 2.4 1.8 2.7 1.9 2.9 1.8 3.2 1.8 3.4 1.8 3.7 1.8 4 1.8 4.3 1.8 4.5 1.8 4.7 1.8 4.9" stroke="#A2142F"/><path d="M61.5 209.0l1.8 .7 1.8 .5 1.8 .5 1.8 .3 1.8 .3 1.8 .3 1.8 .1 1.8 .1 1.9-0 1.8-0 1.8-0 1.8-.1 1.8-0 1.8-.2 1.8-.1 1.8-.1 1.8-.2 1.8-.2 1.8-.2 1.8-.2 1.8-.3 1.8-.2 1.8-.2 1.8-.3 1.8-.2 1.8-.4 1.9-.3 1.8-.3 1.8-.4 1.8-.5 1.8-.5 1.8-.6 1.8-.7 1.8-.8 1.8-.9 1.8-1.1 1.8-1.1 1.8-1.3 1.8-1.3 1.8-1.5 1.8-1.5 1.8-1.5 1.8-1.6 1.8-1.6 1.8-1.5 1.9-1.4 1.8-1.4 1.8-1.2 1.8-1 1.8-.9 1.8-.7 1.8-.5 1.8-.4 1.8-.2 1.8 0 1.8 .2 1.8 .3 1.8 .6 1.8 .9 1.8 1.1 1.8 1.3 1.8 1.7 1.8 1.9 1.9 2.2 1.8 2.6 1.8 2.8 1.8 3.2 1.8 3.5 1.8 3.8 1.8 4.2 1.8 4.6 1.8 4.8" stroke="#0072BD"/><path d="M61.5 206.0l1.8 .8 1.8 .8 1.8 .6 1.8 .6 1.8 .5 1.8 .4 1.8 .4 1.8 .3 1.9 .2 1.8 .2 1.8 .1 1.8 .2 1.8 .1 1.8 0 1.8 0 1.8 .1 1.8-.1 1.8-.1 1.8-0 1.8-.1 1.8-.1 1.8-.1 1.8-.1 1.8-.1 1.8-.2 1.8-.1 1.9-.2 1.8-.2 1.8-.3 1.8-.3 1.8-.3 1.8-.4 1.8-.5 1.8-.6 1.8-.7 1.8-.8 1.8-1 1.8-1.1 1.8-1.2 1.8-1.4 1.8-1.4 1.8-1.6 1.8-1.6 1.8-1.7 1.8-1.8 1.9-1.7 1.8-1.7 1.8-1.6 1.8-1.5 1.8-1.4 1.8-1.3 1.8-1.1 1.8-1 1.8-.9 1.8-.8 1.8-.6 1.8-.4 1.8-.2 1.8-0 1.8 .2 1.8 .4 1.8 .8 1.8 1 1.9 1.3 1.8 1.7 1.8 2 1.8 2.3 1.8 2.6 1.8 3.1 1.8 3.4 1.8 3.9 1.8 4.3" stroke="#D95319"/><path d="M61.5 203.0l1.8 .9 1.8 .9 1.8 .8 1.8 .7 1.8 .7 1.8 .6 1.8 .5 1.8 .4 1.9 .4 1.8 .4 1.8 .3 1.8 .3 1.8 .3 1.8 .2 1.8 .2 1.8 .1 1.8 .1 1.8 .1 1.8 0 1.8 .1 1.8 0 1.8 .1 1.8 0 1.8 .1 1.8-0 1.8-0 1.9-.1 1.8 0 1.8-0 1.8-.1 1.8-.2 1.8-.1 1.8-.2 1.8-.4 1.8-.4 1.8-.5 1.8-.7 1.8-.8 1.8-1 1.8-1.2 1.8-1.3 1.8-1.4 1.8-1.6 1.8-1.6 1.8-1.8 1.9-1.8 1.8-1.9 1.8-1.8 1.8-1.9 1.8-1.7 1.8-1.8 1.8-1.6 1.8-1.6 1.8-1.5 1.8-1.4 1.8-1.3 1.8-1.2 1.8-1 1.8-.9 1.8-.7 1.8-.5 1.8-.2 1.8 0 1.9 .3 1.8 .6 1.8 .9 1.8 1.2 1.8 1.6 1.8 2 1.8 2.3 1.8 2.9 1.8 3.3" stroke="#EDB120"/><path d="M61.5 200.2l1.8 1 1.8 .9 1.8 .8 1.8 .8 1.8 .8 1.8 .7 1.8 .7 1.8 .6 1.9 .5 1.8 .5 1.8 .5 1.8 .4 1.8 .4 1.8 .3 1.8 .3 1.8 .3 1.8 .2 1.8 .3 1.8 .2 1.8 .1 1.8 .2 1.8 .2 1.8 .2 1.8 .2 1.8 .1 1.8 .1 1.9 .2 1.8 .1 1.8 .2 1.8 .1 1.8 .1 1.8 .1 1.8 .1 1.8-0 1.8-.2 1.8-.2 1.8-.3 1.8-.5 1.8-.6 1.8-.8 1.8-1 1.8-1.2 1.8-1.3 1.8-1.5 1.8-1.6 1.9-1.8 1.8-1.8 1.8-1.9 1.8-2 1.8-2 1.8-2 1.8-2 1.8-2 1.8-1.9 1.8-2 1.8-1.9 1.8-1.8 1.8-1.7 1.8-1.7 1.8-1.5 1.8-1.4 1.8-1.2 1.8-1 1.9-.7 1.8-.5 1.8-.3 1.8 0 1.8 .4 1.8 .6 1.8 1.1 1.8 1.5 1.8 2.1" stroke="#7E2F8E"/><path d="M61.5 198.1l1.8 .8 1.8 .9 1.8 .8 1.8 .8 1.8 .8 1.8 .8 1.8 .7 1.8 .7 1.9 .6 1.8 .6 1.8 .5 1.8 .5 1.8 .5 1.8 .4 1.8 .4 1.8 .4 1.8 .4 1.8 .3 1.8 .3 1.8 .3 1.8 .3 1.8 .3 1.8 .3 1.8 .3 1.8 .3 1.8 .3 1.9 .3 1.8 .3 1.8 .3 1.8 .3 1.8 .3 1.8 .4 1.8 .3 1.8 .3 1.8 .3 1.8 .1 1.8 .1 1.8-.1 1.8-.3 1.8-.4 1.8-.6 1.8-.7 1.8-1 1.8-1.1 1.8-1.4 1.9-1.5 1.8-1.6 1.8-1.8 1.8-2 1.8-2 1.8-2 1.8-2.2 1.8-2.2 1.8-2.2 1.8-2.3 1.8-2.2 1.8-2.4 1.8-2.2 1.8-2.3 1.8-2.2 1.8-2.1 1.8-2.1 1.8-1.9 1.9-1.7 1.8-1.6 1.8-1.3 1.8-1.2 1.8-1 1.8-.7 1.8-.3 1.8 0 1.8 .6" stroke="#77AC30"/><path d="M61.5 196.7l1.8 .7 1.8 .7 1.8 .7 1.8 .7 1.8 .8 1.8 .7 1.8 .7 1.8 .7 1.9 .7 1.8 .6 1.8 .5 1.8 .6 1.8 .5 1.8 .5 1.8 .5 1.8 .4 1.8 .5 1.8 .4 1.8 .4 1.8 .4 1.8 .4 1.8 .3 1.8 .4 1.8 .4 1.8 .4 1.8 .4 1.9 .4 1.8 .5 1.8 .5 1.8 .4 1.8 .5 1.8 .6 1.8 .6 1.8 .5 1.8 .6 1.8 .4 1.8 .5 1.8 .3 1.8 .2 1.8 0 1.8-.1 1.8-.3 1.8-.5 1.8-.7 1.8-.9 1.9-1.1 1.8-1.3 1.8-1.5 1.8-1.7 1.8-1.8 1.8-2 1.8-2.1 1.8-2.1 1.8-2.3 1.8-2.4 1.8-2.5 1.8-2.5 1.8-2.6 1.8-2.7 1.8-2.6 1.8-2.7 1.8-2.7 1.8-2.6 1.9-2.6 1.8-2.4 1.8-2.4 1.8-2.3 1.8-2.1 1.8-2 1.8-1.7 1.8-1.4 1.8-1" stroke="#4DBEEE"/></g><clipPath id="cB1"><rect x="61.5" y="151.5" width="130.0" height="109.0"/></clipPath><rect x="61.5" y="153.5" width="130.0" height="105.0" fill="none" stroke="#a6a6a6" stroke-width="1.4"/><path d="M61.5 153.5h1.3M191.5 153.5h-1.3M61.5 179.75h1.3M191.5 179.75h-1.3M61.5 206h1.3M191.5 206h-1.3M61.5 232.25h1.3M191.5 232.25h-1.3M61.5 258.5h1.3M191.5 258.5h-1.3M61.5 258.5v-1.3M61.5 153.5v1.3M126.5 258.5v-1.3M126.5 153.5v1.3M191.5 258.5v-1.3M191.5 153.5v1.3" stroke="#666" stroke-width="1" fill="none"/><text x="58.5" y="157.4" text-anchor="end" class="t">0.1</text><text x="58.5" y="183.65" text-anchor="end" class="t">0.05</text><text x="58.5" y="209.9" text-anchor="end" class="t">0</text><text x="58.5" y="236.15" text-anchor="end" class="t">-0.05</text><text x="58.5" y="262.4" text-anchor="end" class="t">-0.1</text><text x="61.5" y="271" text-anchor="middle" class="t">0</text><text x="126.5" y="271" text-anchor="middle" class="t">0.5</text><text x="191.5" y="271" text-anchor="middle" class="t">1</text><text x="127.5" y="284.7" text-anchor="middle" class="l xl">Body Wave (BL)</text><text transform="translate(34.19 206) rotate(-90)" text-anchor="middle" class="l yl">Displacement (BL)</text><path d="M305 153.5V258.5M242.5 179.75H367.5M242.5 206H367.5M242.5 232.25H367.5" stroke="#ebebeb" stroke-width="0.8" fill="none"/><g fill="none" stroke-width="1.0" stroke-opacity="0.62" clip-path="url(#cB2)"><path d="M242.5 211.6l1.7-.9 1.8-.8 1.7-.9 1.7-.7 1.8-.7 1.7-.7 1.8-.5 1.7-.5 1.7-.4 1.8-.4 1.7-.4 1.7-.4 1.8-.3 1.7-.3 1.7-.3 1.8-.3 1.7-.2 1.8-.2 1.7-.3 1.7-.2 1.8-.2 1.7-.2 1.7-.2 1.8-.2 1.7-.2 1.7-.1 1.8-.2 1.7-.1 1.7-.1 1.8-0 1.7-0 1.8 0 1.7 .2 1.7 .3 1.8 .4 1.7 .4 1.7 .5 1.8 .4 1.7 .5 1.7 .6 1.8 .7 1.7 .8 1.8 1 1.7 1.4 1.7 1.8 1.8 1.9 1.7 1.8 1.7 1.7 1.8 1.9 1.7 1.8 1.7 1.8 1.8 1.9 1.7 1.9 1.8 1.9 1.7 1.6 1.7 1.5 1.8 1.5 1.7 1.3 1.7 .9 1.8 .6 1.7 .5 1.7 .4 1.8 .2 1.7 0 1.7-.4 1.8-.8 1.7-1 1.8-1.2 1.7-1.7 1.7-2.2 1.8-2.8 1.7-3.1" stroke="#0072BD"/><path d="M242.5 213.3l1.7-1.1 1.8-1.1 1.7-1.1 1.7-1 1.8-.9 1.7-.9 1.8-.7 1.7-.6 1.7-.6 1.8-.5 1.7-.5 1.7-.5 1.8-.4 1.7-.5 1.7-.3 1.8-.4 1.7-.3 1.8-.3 1.7-.3 1.7-.3 1.8-.2 1.7-.3 1.7-.3 1.8-.2 1.7-.3 1.7-.2 1.8-.2 1.7-.1 1.7-.1 1.8-.1 1.7-0 1.8 .1 1.7 .3 1.7 .4 1.8 .4 1.7 .6 1.7 .6 1.8 .5 1.7 .7 1.7 .8 1.8 .9 1.7 1 1.8 1.3 1.7 1.9 1.7 2.3 1.8 2.5 1.7 2.4 1.7 2.3 1.8 2.4 1.7 2.4 1.7 2.4 1.8 2.5 1.7 2.5 1.8 2.4 1.7 2.2 1.7 2 1.8 1.9 1.7 1.7 1.7 1.2 1.8 .8 1.7 .6 1.7 .5 1.8 .3 1.7 0 1.7-.6 1.8-1 1.7-1.3 1.8-1.6 1.7-2.1 1.7-3 1.8-3.7 1.7-4" stroke="#D95319"/><path d="M242.5 214.3l1.7-1.3 1.8-1.2 1.7-1.2 1.7-1.2 1.8-1 1.7-1 1.8-.8 1.7-.8 1.7-.6 1.8-.6 1.7-.6 1.7-.5 1.8-.5 1.7-.5 1.7-.4 1.8-.4 1.7-.4 1.8-.3 1.7-.3 1.7-.4 1.8-.3 1.7-.3 1.7-.3 1.8-.3 1.7-.3 1.7-.2 1.8-.2 1.7-.2 1.7-.1 1.8-.1 1.7-0 1.8 .1 1.7 .3 1.7 .5 1.8 .5 1.7 .7 1.7 .6 1.8 .7 1.7 .7 1.7 .9 1.8 1 1.7 1.2 1.8 1.5 1.7 2.2 1.7 2.6 1.8 2.8 1.7 2.7 1.7 2.7 1.8 2.7 1.7 2.8 1.7 2.7 1.8 2.8 1.7 2.9 1.8 2.8 1.7 2.4 1.7 2.3 1.8 2.2 1.7 1.9 1.7 1.4 1.8 .9 1.7 .7 1.7 .6 1.8 .3 1.7 0 1.7-.6 1.8-1.2 1.7-1.5 1.8-1.8 1.7-2.5 1.7-3.4 1.8-4.1 1.7-4.7" stroke="#EDB120"/><path d="M242.5 214.5l1.7-1.3 1.8-1.3 1.7-1.2 1.7-1.2 1.8-1.1 1.7-.9 1.8-.9 1.7-.8 1.7-.6 1.8-.7 1.7-.5 1.7-.6 1.8-.5 1.7-.5 1.7-.4 1.8-.4 1.7-.4 1.8-.3 1.7-.4 1.7-.3 1.8-.3 1.7-.4 1.7-.3 1.8-.3 1.7-.2 1.7-.3 1.8-.2 1.7-.2 1.7-.1 1.8-.1 1.7-0 1.8 .1 1.7 .3 1.7 .5 1.8 .6 1.7 .6 1.7 .7 1.8 .7 1.7 .7 1.7 .9 1.8 1.1 1.7 1.2 1.8 1.5 1.7 2.3 1.7 2.7 1.8 2.8 1.7 2.8 1.7 2.7 1.8 2.8 1.7 2.9 1.7 2.8 1.8 2.8 1.7 3 1.8 2.8 1.7 2.6 1.7 2.3 1.8 2.2 1.7 2 1.7 1.5 1.8 .8 1.7 .8 1.7 .6 1.8 .3 1.7 0 1.7-.7 1.8-1.2 1.7-1.5 1.8-1.8 1.7-2.6 1.7-3.5 1.8-4.2 1.7-4.8" stroke="#7E2F8E"/><path d="M242.5 213.9l1.7-1.2 1.8-1.2 1.7-1.2 1.7-1 1.8-1 1.7-1 1.8-.8 1.7-.6 1.7-.7 1.8-.5 1.7-.6 1.7-.5 1.8-.5 1.7-.4 1.7-.4 1.8-.4 1.7-.3 1.8-.4 1.7-.3 1.7-.3 1.8-.3 1.7-.3 1.7-.3 1.8-.2 1.7-.3 1.7-.2 1.8-.2 1.7-.2 1.7-.1 1.8-.1 1.7-0 1.8 .1 1.7 .3 1.7 .4 1.8 .6 1.7 .6 1.7 .6 1.8 .6 1.7 .7 1.7 .9 1.8 .9 1.7 1.2 1.8 1.4 1.7 2 1.7 2.5 1.8 2.7 1.7 2.6 1.7 2.5 1.8 2.6 1.7 2.6 1.7 2.6 1.8 2.7 1.7 2.7 1.8 2.7 1.7 2.3 1.7 2.1 1.8 2.1 1.7 1.8 1.7 1.4 1.8 .8 1.7 .7 1.7 .6 1.8 .3 1.7-0 1.7-.6 1.8-1.2 1.7-1.4 1.8-1.7 1.7-2.3 1.7-3.3 1.8-3.9 1.7-4.4" stroke="#77AC30"/><path d="M242.5 212.5l1.7-1 1.8-1 1.7-.9 1.7-.9 1.8-.8 1.7-.8 1.8-.7 1.7-.5 1.7-.5 1.8-.5 1.7-.5 1.7-.4 1.8-.4 1.7-.3 1.7-.4 1.8-.3 1.7-.3 1.8-.2 1.7-.3 1.7-.2 1.8-.3 1.7-.2 1.7-.3 1.8-.2 1.7-.2 1.7-.2 1.8-.1 1.7-.2 1.7-.1 1.8-0 1.7-.1 1.8 .1 1.7 .3 1.7 .3 1.8 .5 1.7 .5 1.7 .5 1.8 .5 1.7 .6 1.7 .7 1.8 .8 1.7 .9 1.8 1.2 1.7 1.7 1.7 2 1.8 2.2 1.7 2.1 1.7 2.1 1.8 2.1 1.7 2.2 1.7 2.1 1.8 2.2 1.7 2.3 1.8 2.1 1.7 2 1.7 1.7 1.8 1.7 1.7 1.6 1.7 1.1 1.8 .7 1.7 .5 1.7 .5 1.8 .2 1.7 0 1.7-.5 1.8-.9 1.7-1.2 1.8-1.4 1.7-1.9 1.7-2.7 1.8-3.2 1.7-3.6" stroke="#4DBEEE"/><path d="M242.5 210.5l1.7-.7 1.8-.7 1.7-.6 1.7-.7 1.8-.5 1.7-.5 1.8-.5 1.7-.4 1.7-.3 1.8-.4 1.7-.3 1.7-.3 1.8-.2 1.7-.3 1.7-.2 1.8-.2 1.7-.2 1.8-.2 1.7-.2 1.7-.1 1.8-.2 1.7-.2 1.7-.1 1.8-.2 1.7-.1 1.7-.2 1.8-.1 1.7-.1 1.7-0 1.8-.1 1.7-0 1.8 .1 1.7 .1 1.7 .3 1.8 .3 1.7 .3 1.7 .4 1.8 .3 1.7 .4 1.7 .5 1.8 .5 1.7 .7 1.8 .8 1.7 1.1 1.7 1.5 1.8 1.5 1.7 1.4 1.7 1.5 1.8 1.4 1.7 1.5 1.7 1.5 1.8 1.5 1.7 1.5 1.8 1.5 1.7 1.3 1.7 1.3 1.8 1.1 1.7 1.1 1.7 .7 1.8 .5 1.7 .4 1.7 .3 1.8 .2 1.7-0 1.7-.4 1.8-.6 1.7-.8 1.8-1 1.7-1.3 1.7-1.8 1.8-2.3 1.7-2.5" stroke="#A2142F"/><path d="M242.5 208.0l1.7-.3 1.8-.3 1.7-.3 1.7-.3 1.8-.2 1.7-.3 1.8-.2 1.7-.1 1.7-.2 1.8-.1 1.7-.2 1.7-.1 1.8-.1 1.7-.1 1.7-.1 1.8-.1 1.7-.1 1.8-.1 1.7-.1 1.7-.1 1.8-0 1.7-.1 1.7-.1 1.8-.1 1.7-0 1.7-.1 1.8-0 1.7-.1 1.7 0 1.8-0 1.7-0 1.8 0 1.7 .1 1.7 .1 1.8 .1 1.7 .2 1.7 .1 1.8 .2 1.7 .2 1.7 .2 1.8 .2 1.7 .3 1.8 .4 1.7 .5 1.7 .6 1.8 .7 1.7 .6 1.7 .7 1.8 .6 1.7 .7 1.7 .7 1.8 .6 1.7 .7 1.8 .7 1.7 .6 1.7 .5 1.8 .5 1.7 .5 1.7 .4 1.8 .2 1.7 .1 1.7 .2 1.8 .1 1.7-0 1.7-.2 1.8-.3 1.7-.4 1.8-.4 1.7-.6 1.7-.8 1.8-1 1.7-1.1" stroke="#0072BD"/><path d="M242.5 205.3l1.7 .1 1.8 .1 1.7 .1 1.7 .1 1.8 .1 1.7 .1 1.8 .1 1.7 0 1.7 .1 1.8 0 1.7 .1 1.7 0 1.8 0 1.7 .1 1.7 0 1.8 .1 1.7-0 1.8 0 1.7 0 1.7 .1 1.8-0 1.7 0 1.7 0 1.8 .1 1.7-0 1.7 0 1.8 0 1.7 0 1.7 .1 1.8-0 1.7-0 1.8-.1 1.7 0 1.7-0 1.8-.1 1.7-0 1.7-.1 1.8-0 1.7-.1 1.7-.1 1.8-0 1.7-.1 1.8-.2 1.7-.1 1.7-.3 1.8-.2 1.7-.2 1.7-.2 1.8-.3 1.7-.2 1.7-.2 1.8-.2 1.7-.3 1.8-.2 1.7-.2 1.7-.2 1.8-.2 1.7-.1 1.7-.1 1.8-.1 1.7-.1 1.7-0 1.8-.1 1.7 0 1.7 .1 1.8 .1 1.7 .1 1.8 .2 1.7 .2 1.7 .3 1.8 .3 1.7 .4" stroke="#D95319"/><path d="M242.5 202.7l1.7 .5 1.8 .5 1.7 .5 1.7 .4 1.8 .4 1.7 .4 1.8 .4 1.7 .3 1.7 .2 1.8 .3 1.7 .2 1.7 .2 1.8 .2 1.7 .2 1.7 .2 1.8 .1 1.7 .2 1.8 .1 1.7 .1 1.7 .2 1.8 .1 1.7 .1 1.7 .2 1.8 .1 1.7 .1 1.7 .1 1.8 .1 1.7 0 1.7 .1 1.8 0 1.7 0 1.8-0 1.7-.2 1.7-.1 1.8-.3 1.7-.2 1.7-.3 1.8-.2 1.7-.3 1.7-.4 1.8-.4 1.7-.5 1.8-.6 1.7-.9 1.7-1 1.8-1.1 1.7-1.1 1.7-1.1 1.8-1.1 1.7-1.1 1.7-1.1 1.8-1.1 1.7-1.2 1.8-1.1 1.7-1 1.7-.9 1.8-.9 1.7-.7 1.7-.6 1.8-.4 1.7-.3 1.7-.2 1.8-.1 1.7-0 1.7 .2 1.8 .5 1.7 .6 1.8 .7 1.7 1 1.7 1.4 1.8 1.7 1.7 1.8" stroke="#EDB120"/><path d="M242.5 200.3l1.7 .9 1.8 .9 1.7 .8 1.7 .8 1.8 .7 1.7 .6 1.8 .6 1.7 .5 1.7 .4 1.8 .5 1.7 .4 1.7 .3 1.8 .4 1.7 .3 1.7 .3 1.8 .2 1.7 .3 1.8 .2 1.7 .2 1.7 .3 1.8 .2 1.7 .2 1.7 .2 1.8 .2 1.7 .2 1.7 .1 1.8 .2 1.7 .1 1.7 .1 1.8 0 1.7 .1 1.8-.1 1.7-.2 1.7-.3 1.8-.4 1.7-.5 1.7-.4 1.8-.4 1.7-.6 1.7-.6 1.8-.7 1.7-.8 1.8-1 1.7-1.5 1.7-1.8 1.8-1.9 1.7-1.8 1.7-1.8 1.8-1.9 1.7-1.9 1.7-1.8 1.8-2 1.7-1.9 1.8-1.9 1.7-1.7 1.7-1.5 1.8-1.5 1.7-1.3 1.7-1 1.8-.6 1.7-.5 1.7-.4 1.8-.2 1.7 0 1.7 .5 1.8 .8 1.7 1 1.8 1.2 1.7 1.7 1.7 2.3 1.8 2.8 1.7 3.2" stroke="#7E2F8E"/><path d="M242.5 198.5l1.7 1.2 1.8 1.1 1.7 1.1 1.7 1 1.8 1 1.7 .8 1.8 .8 1.7 .6 1.7 .6 1.8 .6 1.7 .5 1.7 .5 1.8 .4 1.7 .4 1.7 .4 1.8 .4 1.7 .3 1.8 .3 1.7 .3 1.7 .3 1.8 .2 1.7 .3 1.7 .3 1.8 .3 1.7 .2 1.7 .2 1.8 .2 1.7 .2 1.7 .1 1.8 0 1.7 .1 1.8-.1 1.7-.3 1.7-.4 1.8-.5 1.7-.6 1.7-.6 1.8-.6 1.7-.6 1.7-.8 1.8-.9 1.7-1.1 1.8-1.3 1.7-2 1.7-2.3 1.8-2.6 1.7-2.4 1.7-2.3 1.8-2.5 1.7-2.5 1.7-2.4 1.8-2.5 1.7-2.6 1.8-2.5 1.7-2.2 1.7-2 1.8-2 1.7-1.7 1.7-1.3 1.8-.7 1.7-.7 1.7-.5 1.8-.3 1.7 0 1.7 .6 1.8 1.1 1.7 1.3 1.8 1.6 1.7 2.2 1.7 3.1 1.8 3.7 1.7 4.1" stroke="#77AC30"/><path d="M242.5 197.5l1.7 1.3 1.8 1.3 1.7 1.2 1.7 1.2 1.8 1.1 1.7 1 1.8 .8 1.7 .8 1.7 .6 1.8 .6 1.7 .6 1.7 .6 1.8 .5 1.7 .5 1.7 .4 1.8 .4 1.7 .4 1.8 .3 1.7 .3 1.7 .4 1.8 .3 1.7 .3 1.7 .3 1.8 .3 1.7 .3 1.7 .2 1.8 .3 1.7 .1 1.7 .2 1.8 0 1.7 .1 1.8-.2 1.7-.3 1.7-.4 1.8-.6 1.7-.6 1.7-.7 1.8-.7 1.7-.7 1.7-.9 1.8-1.1 1.7-1.2 1.8-1.5 1.7-2.2 1.7-2.7 1.8-2.9 1.7-2.8 1.7-2.7 1.8-2.8 1.7-2.8 1.7-2.8 1.8-2.8 1.7-3 1.8-2.8 1.7-2.5 1.7-2.3 1.8-2.2 1.7-2 1.7-1.5 1.8-.8 1.7-.8 1.7-.6 1.8-.3 1.7-0 1.7 .7 1.8 1.2 1.7 1.5 1.8 1.8 1.7 2.5 1.7 3.5 1.8 4.2 1.7 4.8" stroke="#4DBEEE"/><path d="M242.5 197.3l1.7 1.3 1.8 1.4 1.7 1.2 1.7 1.2 1.8 1.1 1.7 1 1.8 .9 1.7 .8 1.7 .6 1.8 .7 1.7 .6 1.7 .5 1.8 .6 1.7 .4 1.7 .5 1.8 .4 1.7 .4 1.8 .3 1.7 .4 1.7 .3 1.8 .4 1.7 .3 1.7 .3 1.8 .3 1.7 .3 1.7 .2 1.8 .3 1.7 .1 1.7 .2 1.8 0 1.7 .1 1.8-.1 1.7-.4 1.7-.4 1.8-.6 1.7-.7 1.7-.7 1.8-.7 1.7-.7 1.7-1 1.8-1 1.7-1.3 1.8-1.6 1.7-2.2 1.7-2.8 1.8-2.9 1.7-2.8 1.7-2.8 1.8-2.9 1.7-2.9 1.7-2.8 1.8-3 1.7-3 1.8-2.9 1.7-2.6 1.7-2.3 1.8-2.3 1.7-2 1.7-1.5 1.8-.9 1.7-.8 1.7-.6 1.8-.3 1.7-0 1.7 .7 1.8 1.2 1.7 1.6 1.8 1.8 1.7 2.6 1.7 3.6 1.8 4.3 1.7 4.9" stroke="#A2142F"/><path d="M242.5 197.9l1.7 1.3 1.8 1.2 1.7 1.2 1.7 1.1 1.8 1 1.7 .9 1.8 .8 1.7 .7 1.7 .7 1.8 .6 1.7 .5 1.7 .5 1.8 .5 1.7 .5 1.7 .4 1.8 .4 1.7 .3 1.8 .4 1.7 .3 1.7 .3 1.8 .3 1.7 .3 1.7 .3 1.8 .3 1.7 .2 1.7 .3 1.8 .2 1.7 .1 1.7 .2 1.8 0 1.7 .1 1.8-.2 1.7-.3 1.7-.4 1.8-.5 1.7-.6 1.7-.7 1.8-.6 1.7-.7 1.7-.9 1.8-1 1.7-1.2 1.8-1.4 1.7-2.1 1.7-2.6 1.8-2.7 1.7-2.6 1.7-2.6 1.8-2.6 1.7-2.7 1.7-2.6 1.8-2.8 1.7-2.8 1.8-2.6 1.7-2.4 1.7-2.2 1.8-2.1 1.7-1.9 1.7-1.4 1.8-.8 1.7-.7 1.7-.6 1.8-.3 1.7-0 1.7 .6 1.8 1.2 1.7 1.5 1.8 1.6 1.7 2.4 1.7 3.4 1.8 4 1.7 4.5" stroke="#0072BD"/><path d="M242.5 199.3l1.7 1.1 1.8 1 1.7 1 1.7 .9 1.8 .8 1.7 .8 1.8 .6 1.7 .6 1.7 .5 1.8 .5 1.7 .5 1.7 .4 1.8 .4 1.7 .4 1.7 .3 1.8 .3 1.7 .3 1.8 .3 1.7 .2 1.7 .3 1.8 .3 1.7 .2 1.7 .3 1.8 .2 1.7 .2 1.7 .2 1.8 .2 1.7 .1 1.7 .1 1.8 .1 1.7-0 1.8-.1 1.7-.3 1.7-.3 1.8-.5 1.7-.5 1.7-.5 1.8-.5 1.7-.6 1.7-.7 1.8-.8 1.7-1 1.8-1.2 1.7-1.7 1.7-2.1 1.8-2.3 1.7-2.1 1.7-2.1 1.8-2.2 1.7-2.2 1.7-2.2 1.8-2.2 1.7-2.3 1.8-2.2 1.7-2 1.7-1.8 1.8-1.7 1.7-1.6 1.7-1.1 1.8-.7 1.7-.6 1.7-.5 1.8-.2 1.7-0 1.7 .5 1.8 .9 1.7 1.3 1.8 1.4 1.7 1.9 1.7 2.8 1.8 3.3 1.7 3.7" stroke="#D95319"/><path d="M242.5 201.4l1.7 .7 1.8 .7 1.7 .7 1.7 .6 1.8 .6 1.7 .5 1.8 .5 1.7 .4 1.7 .3 1.8 .4 1.7 .3 1.7 .3 1.8 .3 1.7 .2 1.7 .2 1.8 .3 1.7 .2 1.8 .1 1.7 .2 1.7 .2 1.8 .2 1.7 .2 1.7 .1 1.8 .2 1.7 .1 1.7 .2 1.8 .1 1.7 .1 1.7 0 1.8 .1 1.7-0 1.8-.1 1.7-.1 1.7-.3 1.8-.3 1.7-.3 1.7-.4 1.8-.4 1.7-.4 1.7-.5 1.8-.5 1.7-.7 1.8-.8 1.7-1.2 1.7-1.4 1.8-1.6 1.7-1.4 1.7-1.5 1.8-1.5 1.7-1.5 1.7-1.5 1.8-1.6 1.7-1.5 1.8-1.6 1.7-1.3 1.7-1.2 1.8-1.2 1.7-1.1 1.7-.8 1.8-.5 1.7-.4 1.7-.3 1.8-.2 1.7 .1 1.7 .3 1.8 .7 1.7 .8 1.8 .9 1.7 1.4 1.7 1.9 1.8 2.3 1.7 2.5" stroke="#EDB120"/><path d="M242.5 204.0l1.7 .3 1.8 .3 1.7 .3 1.7 .3 1.8 .2 1.7 .3 1.8 .2 1.7 .1 1.7 .2 1.8 .1 1.7 .2 1.7 .1 1.8 .1 1.7 .2 1.7 .1 1.8 .1 1.7 0 1.8 .1 1.7 .1 1.7 .1 1.8 .1 1.7 0 1.7 .1 1.8 .1 1.7 .1 1.7 0 1.8 .1 1.7 0 1.7 0 1.8 .1 1.7-0 1.8-.1 1.7-0 1.7-.2 1.8-.1 1.7-.1 1.7-.2 1.8-.2 1.7-.1 1.7-.3 1.8-.2 1.7-.3 1.8-.4 1.7-.5 1.7-.7 1.8-.6 1.7-.7 1.7-.7 1.8-.6 1.7-.7 1.7-.7 1.8-.7 1.7-.7 1.8-.6 1.7-.6 1.7-.6 1.8-.5 1.7-.5 1.7-.4 1.8-.2 1.7-.1 1.7-.2 1.8-.1 1.7 0 1.7 .2 1.8 .3 1.7 .4 1.8 .4 1.7 .6 1.7 .8 1.8 1 1.7 1.2" stroke="#7E2F8E"/><path d="M242.5 206.7l1.7-.1 1.8-.1 1.7-.1 1.7-.1 1.8-.1 1.7-.1 1.8-.1 1.7-0 1.7-.1 1.8-0 1.7-.1 1.7-0 1.8-0 1.7-.1 1.7-0 1.8-0 1.7-.1 1.8-0 1.7-0 1.7-.1 1.8 0 1.7-0 1.7-0 1.8-.1 1.7 0 1.7 0 1.8-0 1.7-0 1.7-0 1.8-0 1.7-0 1.8-0 1.7-0 1.7 0 1.8 .1 1.7 0 1.7 .1 1.8 0 1.7 .1 1.7 .1 1.8 0 1.7 .1 1.8 .2 1.7 .1 1.7 .2 1.8 .3 1.7 .2 1.7 .2 1.8 .2 1.7 .2 1.7 .3 1.8 .2 1.7 .2 1.8 .3 1.7 .2 1.7 .1 1.8 .2 1.7 .2 1.7 .1 1.8 0 1.7 .1 1.7 .1 1.8-0 1.7-0 1.7-.1 1.8-.1 1.7-.1 1.8-.1 1.7-.2 1.7-.3 1.8-.3 1.7-.4" stroke="#77AC30"/><path d="M242.5 209.3l1.7-.5 1.8-.5 1.7-.5 1.7-.5 1.8-.4 1.7-.3 1.8-.4 1.7-.3 1.7-.2 1.8-.3 1.7-.2 1.7-.2 1.8-.2 1.7-.2 1.7-.1 1.8-.2 1.7-.1 1.8-.2 1.7-.1 1.7-.1 1.8-.2 1.7-.1 1.7-.1 1.8-.1 1.7-.1 1.7-.1 1.8-.1 1.7-.1 1.7-0 1.8-0 1.7-.1 1.8 .1 1.7 .1 1.7 .2 1.8 .2 1.7 .3 1.7 .2 1.8 .3 1.7 .3 1.7 .3 1.8 .4 1.7 .5 1.8 .6 1.7 .8 1.7 1.1 1.8 1.1 1.7 1 1.7 1.1 1.8 1.1 1.7 1 1.7 1.1 1.8 1.1 1.7 1.2 1.8 1.1 1.7 .9 1.7 .9 1.8 .9 1.7 .7 1.7 .6 1.8 .3 1.7 .3 1.7 .2 1.8 .2 1.7-0 1.7-.3 1.8-.4 1.7-.7 1.8-.6 1.7-1 1.7-1.4 1.8-1.6 1.7-1.8" stroke="#4DBEEE"/></g><clipPath id="cB2"><rect x="242.5" y="151.5" width="125.0" height="109.0"/></clipPath><rect x="242.5" y="153.5" width="125.0" height="105.0" fill="none" stroke="#a6a6a6" stroke-width="1.4"/><path d="M242.5 153.5h1.3M367.5 153.5h-1.3M242.5 179.75h1.3M367.5 179.75h-1.3M242.5 206h1.3M367.5 206h-1.3M242.5 232.25h1.3M367.5 232.25h-1.3M242.5 258.5h1.3M367.5 258.5h-1.3M242.5 258.5v-1.3M242.5 153.5v1.3M305 258.5v-1.3M305 153.5v1.3M367.5 258.5v-1.3M367.5 153.5v1.3" stroke="#666" stroke-width="1" fill="none"/><text x="239.5" y="157.4" text-anchor="end" class="t">0.03</text><text x="239.5" y="183.65" text-anchor="end" class="t">0.015</text><text x="239.5" y="209.9" text-anchor="end" class="t">0</text><text x="239.5" y="236.15" text-anchor="end" class="t">-0.015</text><text x="239.5" y="262.4" text-anchor="end" class="t">-0.03</text><text x="242.5" y="271" text-anchor="middle" class="t">0</text><text x="305" y="271" text-anchor="middle" class="t">0.5</text><text x="367.5" y="271" text-anchor="middle" class="t">1</text><text x="306.8" y="284.7" text-anchor="middle" class="l xl">Standing Wave (BL)</text><text transform="translate(210.19 206) rotate(-90)" text-anchor="middle" class="l yl">Displacement (BL)</text><path d="M476.5 153.5V258.5M411.5 179.75H541.5M411.5 206H541.5M411.5 232.25H541.5" stroke="#ebebeb" stroke-width="0.8" fill="none"/><g fill="none" stroke-width="1.0" stroke-opacity="0.62" clip-path="url(#cB3)"><path d="M411.5 198.3l1.8 .3 1.8 .3 1.8 .3 1.8 .4 1.8 .4 1.8 .4 1.8 .5 1.8 .4 1.8 .5 1.9 .5 1.8 .4 1.8 .5 1.8 .5 1.8 .5 1.8 .4 1.8 .5 1.8 .4 1.8 .5 1.8 .5 1.8 .4 1.8 .5 1.8 .4 1.8 .4 1.8 .5 1.8 .4 1.8 .4 1.8 .3 1.9 .4 1.8 .3 1.8 .4 1.8 .2 1.8 .3 1.8 .3 1.8 .5 1.8 .7 1.8 .9 1.8 .7 1.8 .7 1.8 .8 1.8 .7 1.8 .6 1.8 .5 1.8 .3 1.8 .1 1.8-.2 1.9-.3 1.8-.6 1.8-.8 1.8-1.1 1.8-1.4 1.8-1.6 1.8-1.8 1.8-2.1 1.8-2.3 1.8-2.4 1.8-2.6 1.8-2.7 1.8-2.6 1.8-2.6 1.8-2.5 1.8-2.4 1.8-2.3 1.8-2.3 1.9-2.1 1.8-1.9 1.8-1.9 1.8-1.8 1.8-1.7 1.8-2.2 1.8-2.7 1.8-2.9 1.8-2.9" stroke="#0072BD"/><path d="M411.5 198.7l1.8 .1 1.8 0 1.8 .2 1.8 .2 1.8 .2 1.8 .3 1.8 .3 1.8 .4 1.8 .3 1.9 .4 1.8 .4 1.8 .4 1.8 .4 1.8 .4 1.8 .4 1.8 .4 1.8 .4 1.8 .5 1.8 .4 1.8 .5 1.8 .4 1.8 .5 1.8 .4 1.8 .5 1.8 .5 1.8 .4 1.8 .5 1.9 .4 1.8 .4 1.8 .4 1.8 .4 1.8 .4 1.8 .4 1.8 .7 1.8 .8 1.8 1 1.8 1 1.8 .9 1.8 1 1.8 1.1 1.8 1 1.8 .9 1.8 .8 1.8 .6 1.8 .5 1.9 .2 1.8 .1 1.8-.3 1.8-.4 1.8-.7 1.8-1 1.8-1.3 1.8-1.6 1.8-1.8 1.8-2.1 1.8-2.3 1.8-2.5 1.8-2.6 1.8-2.6 1.8-2.7 1.8-2.7 1.8-2.6 1.8-2.7 1.9-2.5 1.8-2.5 1.8-2.5 1.8-2.4 1.8-2.4 1.8-2.9 1.8-3.3 1.8-3.7 1.8-3.8" stroke="#D95319"/><path d="M411.5 199.8l1.8-.2 1.8-.1 1.8-0 1.8-0 1.8 0 1.8 .1 1.8 .1 1.8 .2 1.8 .2 1.9 .3 1.8 .2 1.8 .3 1.8 .3 1.8 .3 1.8 .4 1.8 .3 1.8 .3 1.8 .4 1.8 .4 1.8 .4 1.8 .4 1.8 .4 1.8 .5 1.8 .4 1.8 .5 1.8 .5 1.8 .5 1.9 .4 1.8 .5 1.8 .5 1.8 .4 1.8 .5 1.8 .5 1.8 .7 1.8 .9 1.8 1 1.8 1 1.8 1.1 1.8 1.3 1.8 1.3 1.8 1.3 1.8 1.3 1.8 1.1 1.8 1.1 1.8 1 1.9 .9 1.8 .6 1.8 .4 1.8 .3 1.8-0 1.8-.3 1.8-.6 1.8-.9 1.8-1.3 1.8-1.4 1.8-1.8 1.8-2.1 1.8-2.3 1.8-2.5 1.8-2.6 1.8-2.7 1.8-2.7 1.8-2.7 1.9-2.8 1.8-2.8 1.8-2.8 1.8-2.8 1.8-2.8 1.8-3.3 1.8-3.7 1.8-4.1 1.8-4.4" stroke="#EDB120"/><path d="M411.5 201.5l1.8-.4 1.8-.3 1.8-.2 1.8-.2 1.8-.2 1.8-.1 1.8-0 1.8-0 1.8 0 1.9 .1 1.8 .1 1.8 .2 1.8 .1 1.8 .2 1.8 .2 1.8 .2 1.8 .3 1.8 .3 1.8 .2 1.8 .3 1.8 .4 1.8 .3 1.8 .4 1.8 .4 1.8 .5 1.8 .4 1.8 .4 1.9 .5 1.8 .5 1.8 .5 1.8 .5 1.8 .5 1.8 .5 1.8 .7 1.8 .8 1.8 1 1.8 1 1.8 1.2 1.8 1.2 1.8 1.4 1.8 1.5 1.8 1.6 1.8 1.4 1.8 1.5 1.8 1.4 1.9 1.3 1.8 1.2 1.8 1.1 1.8 .9 1.8 .7 1.8 .5 1.8 .1 1.8-.2 1.8-.4 1.8-.8 1.8-1.1 1.8-1.5 1.8-1.8 1.8-2 1.8-2.3 1.8-2.4 1.8-2.5 1.8-2.7 1.9-2.7 1.8-2.8 1.8-2.8 1.8-2.9 1.8-3 1.8-3.3 1.8-3.7 1.8-4.2 1.8-4.5" stroke="#7E2F8E"/><path d="M411.5 203.6l1.8-.5 1.8-.5 1.8-.4 1.8-.4 1.8-.3 1.8-.3 1.8-.2 1.8-.2 1.8-.1 1.9-.1 1.8-0 1.8-0 1.8-0 1.8 0 1.8 .1 1.8 .1 1.8 .1 1.8 .1 1.8 .2 1.8 .2 1.8 .2 1.8 .2 1.8 .3 1.8 .3 1.8 .4 1.8 .3 1.8 .4 1.9 .4 1.8 .5 1.8 .4 1.8 .5 1.8 .5 1.8 .5 1.8 .6 1.8 .7 1.8 .8 1.8 .9 1.8 1.1 1.8 1.2 1.8 1.4 1.8 1.5 1.8 1.6 1.8 1.7 1.8 1.7 1.8 1.7 1.9 1.7 1.8 1.6 1.8 1.6 1.8 1.4 1.8 1.4 1.8 1.1 1.8 .9 1.8 .6 1.8 .3 1.8 0 1.8-.3 1.8-.7 1.8-1.1 1.8-1.4 1.8-1.7 1.8-1.9 1.8-2.1 1.8-2.2 1.9-2.4 1.8-2.6 1.8-2.6 1.8-2.8 1.8-2.8 1.8-3 1.8-3.4 1.8-3.7 1.8-4.2" stroke="#77AC30"/><path d="M411.5 206.0l1.8-.6 1.8-.7 1.8-.5 1.8-.5 1.8-.5 1.8-.4 1.8-.4 1.8-.3 1.8-.3 1.9-.2 1.8-.3 1.8-.1 1.8-.2 1.8-.1 1.8-.1 1.8-0 1.8-0 1.8-.1 1.8 .1 1.8 0 1.8 .1 1.8 .1 1.8 .2 1.8 .2 1.8 .2 1.8 .3 1.8 .3 1.9 .3 1.8 .3 1.8 .4 1.8 .4 1.8 .4 1.8 .5 1.8 .4 1.8 .5 1.8 .6 1.8 .7 1.8 .9 1.8 1.1 1.8 1.2 1.8 1.4 1.8 1.5 1.8 1.7 1.8 1.7 1.8 1.8 1.9 1.9 1.8 2 1.8 1.9 1.8 1.9 1.8 1.8 1.8 1.8 1.8 1.5 1.8 1.3 1.8 1 1.8 .9 1.8 .5 1.8 .1 1.8-.3 1.8-.7 1.8-1 1.8-1.2 1.8-1.4 1.8-1.6 1.9-1.9 1.8-2 1.8-2.2 1.8-2.3 1.8-2.4 1.8-2.5 1.8-2.6 1.8-3 1.8-3.5" stroke="#4DBEEE"/><path d="M411.5 208.4l1.8-.7 1.8-.7 1.8-.6 1.8-.6 1.8-.6 1.8-.5 1.8-.5 1.8-.5 1.8-.4 1.9-.4 1.8-.3 1.8-.3 1.8-.3 1.8-.3 1.8-.2 1.8-.2 1.8-.1 1.8-.2 1.8-.1 1.8-.1 1.8-.1 1.8 0 1.8 0 1.8 .1 1.8 .1 1.8 .1 1.8 .2 1.9 .1 1.8 .3 1.8 .2 1.8 .3 1.8 .4 1.8 .3 1.8 .2 1.8 .3 1.8 .3 1.8 .5 1.8 .6 1.8 .8 1.8 .9 1.8 1.1 1.8 1.3 1.8 1.5 1.8 1.6 1.8 1.8 1.9 1.9 1.8 2 1.8 2.1 1.8 2.2 1.8 2.1 1.8 2.2 1.8 2 1.8 1.9 1.8 1.7 1.8 1.6 1.8 1.2 1.8 1 1.8 .5 1.8 .1 1.8-.1 1.8-.4 1.8-.7 1.8-.8 1.9-1.1 1.8-1.3 1.8-1.5 1.8-1.7 1.8-1.7 1.8-1.7 1.8-1.7 1.8-2 1.8-2.4" stroke="#A2142F"/><path d="M411.5 210.5l1.8-.7 1.8-.6 1.8-.7 1.8-.6 1.8-.6 1.8-.6 1.8-.6 1.8-.5 1.8-.5 1.9-.5 1.8-.4 1.8-.5 1.8-.4 1.8-.3 1.8-.4 1.8-.3 1.8-.3 1.8-.2 1.8-.3 1.8-.2 1.8-.2 1.8-.2 1.8-.1 1.8-.1 1.8-.1 1.8 0 1.8 0 1.9 .1 1.8 .1 1.8 .1 1.8 .1 1.8 .2 1.8 .2 1.8 .1 1.8-.1 1.8 0 1.8 .2 1.8 .3 1.8 .4 1.8 .6 1.8 .7 1.8 1 1.8 1.1 1.8 1.4 1.8 1.6 1.9 1.7 1.8 1.9 1.8 2 1.8 2.2 1.8 2.3 1.8 2.3 1.8 2.4 1.8 2.2 1.8 2.3 1.8 2.1 1.8 1.9 1.8 1.6 1.8 1.3 1.8 1 1.8 .7 1.8 .4 1.8 .2 1.8 0 1.9-.2 1.8-.5 1.8-.7 1.8-.8 1.8-.9 1.8-.7 1.8-.6 1.8-.7 1.8-1.1" stroke="#0072BD"/><path d="M411.5 212.2l1.8-.6 1.8-.6 1.8-.6 1.8-.6 1.8-.6 1.8-.6 1.8-.6 1.8-.5 1.8-.6 1.9-.5 1.8-.5 1.8-.5 1.8-.4 1.8-.5 1.8-.4 1.8-.4 1.8-.4 1.8-.4 1.8-.3 1.8-.4 1.8-.3 1.8-.3 1.8-.2 1.8-.3 1.8-.2 1.8-.1 1.8-.2 1.9-.1 1.8-0 1.8-.1 1.8 0 1.8 .1 1.8 0 1.8-.2 1.8-.3 1.8-.3 1.8-.2 1.8-0 1.8-0 1.8 .1 1.8 .3 1.8 .6 1.8 .7 1.8 1 1.8 1.1 1.9 1.4 1.8 1.6 1.8 1.8 1.8 2 1.8 2.2 1.8 2.3 1.8 2.4 1.8 2.5 1.8 2.4 1.8 2.5 1.8 2.4 1.8 2.2 1.8 2 1.8 1.6 1.8 1.5 1.8 1.2 1.8 1.1 1.8 .8 1.9 .7 1.8 .4 1.8 .2 1.8 .1 1.8-0 1.8 .3 1.8 .6 1.8 .6 1.8 .3" stroke="#D95319"/><path d="M411.5 213.3l1.8-.5 1.8-.4 1.8-.5 1.8-.5 1.8-.6 1.8-.5 1.8-.5 1.8-.6 1.8-.5 1.9-.5 1.8-.5 1.8-.5 1.8-.5 1.8-.5 1.8-.5 1.8-.4 1.8-.5 1.8-.4 1.8-.5 1.8-.4 1.8-.4 1.8-.4 1.8-.3 1.8-.4 1.8-.3 1.8-.3 1.8-.2 1.9-.3 1.8-.2 1.8-.2 1.8-.1 1.8-.1 1.8-.2 1.8-.4 1.8-.5 1.8-.6 1.8-.5 1.8-.4 1.8-.4 1.8-.3 1.8-.2 1.8 .1 1.8 .2 1.8 .5 1.8 .7 1.9 .9 1.8 1.1 1.8 1.4 1.8 1.7 1.8 1.8 1.8 2.1 1.8 2.2 1.8 2.4 1.8 2.5 1.8 2.6 1.8 2.6 1.8 2.5 1.8 2.4 1.8 2.3 1.8 2 1.8 2 1.8 1.7 1.8 1.7 1.9 1.4 1.8 1.3 1.8 1 1.8 1 1.8 1 1.8 1.3 1.8 1.7 1.8 1.8 1.8 1.7" stroke="#EDB120"/><path d="M411.5 213.7l1.8-.3 1.8-.3 1.8-.3 1.8-.4 1.8-.4 1.8-.4 1.8-.5 1.8-.4 1.8-.5 1.9-.5 1.8-.4 1.8-.5 1.8-.5 1.8-.5 1.8-.4 1.8-.5 1.8-.4 1.8-.5 1.8-.5 1.8-.4 1.8-.5 1.8-.4 1.8-.4 1.8-.5 1.8-.4 1.8-.4 1.8-.3 1.9-.4 1.8-.3 1.8-.4 1.8-.2 1.8-.3 1.8-.3 1.8-.5 1.8-.7 1.8-.9 1.8-.7 1.8-.7 1.8-.8 1.8-.7 1.8-.6 1.8-.5 1.8-.3 1.8-.1 1.8 .2 1.9 .3 1.8 .6 1.8 .8 1.8 1.1 1.8 1.4 1.8 1.6 1.8 1.8 1.8 2.1 1.8 2.3 1.8 2.4 1.8 2.6 1.8 2.7 1.8 2.6 1.8 2.6 1.8 2.5 1.8 2.4 1.8 2.3 1.8 2.3 1.9 2.1 1.8 1.9 1.8 1.9 1.8 1.8 1.8 1.7 1.8 2.2 1.8 2.7 1.8 2.9 1.8 2.9" stroke="#7E2F8E"/><path d="M411.5 213.3l1.8-.1 1.8-0 1.8-.2 1.8-.2 1.8-.2 1.8-.3 1.8-.3 1.8-.4 1.8-.3 1.9-.4 1.8-.4 1.8-.4 1.8-.4 1.8-.4 1.8-.4 1.8-.4 1.8-.4 1.8-.5 1.8-.4 1.8-.5 1.8-.4 1.8-.5 1.8-.4 1.8-.5 1.8-.5 1.8-.4 1.8-.5 1.9-.4 1.8-.4 1.8-.4 1.8-.4 1.8-.4 1.8-.4 1.8-.7 1.8-.8 1.8-1 1.8-1 1.8-.9 1.8-1 1.8-1.1 1.8-1 1.8-.9 1.8-.8 1.8-.6 1.8-.5 1.9-.2 1.8-.1 1.8 .3 1.8 .4 1.8 .7 1.8 1 1.8 1.3 1.8 1.6 1.8 1.8 1.8 2.1 1.8 2.3 1.8 2.5 1.8 2.6 1.8 2.6 1.8 2.7 1.8 2.7 1.8 2.6 1.8 2.7 1.9 2.5 1.8 2.5 1.8 2.5 1.8 2.4 1.8 2.4 1.8 2.9 1.8 3.3 1.8 3.7 1.8 3.8" stroke="#77AC30"/><path d="M411.5 212.2l1.8 .2 1.8 .1 1.8 0 1.8 0 1.8-0 1.8-.1 1.8-.1 1.8-.2 1.8-.2 1.9-.3 1.8-.2 1.8-.3 1.8-.3 1.8-.3 1.8-.4 1.8-.3 1.8-.3 1.8-.4 1.8-.4 1.8-.4 1.8-.4 1.8-.4 1.8-.5 1.8-.4 1.8-.5 1.8-.5 1.8-.5 1.9-.4 1.8-.5 1.8-.5 1.8-.4 1.8-.5 1.8-.5 1.8-.7 1.8-.9 1.8-1 1.8-1 1.8-1.1 1.8-1.3 1.8-1.3 1.8-1.3 1.8-1.3 1.8-1.1 1.8-1.1 1.8-1 1.9-.9 1.8-.6 1.8-.4 1.8-.3 1.8 0 1.8 .3 1.8 .6 1.8 .9 1.8 1.3 1.8 1.4 1.8 1.8 1.8 2.1 1.8 2.3 1.8 2.5 1.8 2.6 1.8 2.7 1.8 2.7 1.8 2.7 1.9 2.8 1.8 2.8 1.8 2.8 1.8 2.8 1.8 2.8 1.8 3.3 1.8 3.7 1.8 4.1 1.8 4.4" stroke="#4DBEEE"/><path d="M411.5 210.5l1.8 .4 1.8 .3 1.8 .2 1.8 .2 1.8 .2 1.8 .1 1.8 0 1.8 0 1.8-0 1.9-.1 1.8-.1 1.8-.2 1.8-.1 1.8-.2 1.8-.2 1.8-.2 1.8-.3 1.8-.3 1.8-.2 1.8-.3 1.8-.4 1.8-.3 1.8-.4 1.8-.4 1.8-.5 1.8-.4 1.8-.4 1.9-.5 1.8-.5 1.8-.5 1.8-.5 1.8-.5 1.8-.5 1.8-.7 1.8-.8 1.8-1 1.8-1 1.8-1.2 1.8-1.2 1.8-1.4 1.8-1.5 1.8-1.6 1.8-1.4 1.8-1.5 1.8-1.4 1.9-1.3 1.8-1.2 1.8-1.1 1.8-.9 1.8-.7 1.8-.5 1.8-.1 1.8 .2 1.8 .4 1.8 .8 1.8 1.1 1.8 1.5 1.8 1.8 1.8 2 1.8 2.3 1.8 2.4 1.8 2.5 1.8 2.7 1.9 2.7 1.8 2.8 1.8 2.8 1.8 2.9 1.8 3 1.8 3.3 1.8 3.7 1.8 4.2 1.8 4.5" stroke="#A2142F"/><path d="M411.5 208.4l1.8 .5 1.8 .5 1.8 .4 1.8 .4 1.8 .3 1.8 .3 1.8 .2 1.8 .2 1.8 .1 1.9 .1 1.8 0 1.8 0 1.8 0 1.8-0 1.8-.1 1.8-.1 1.8-.1 1.8-.1 1.8-.2 1.8-.2 1.8-.2 1.8-.2 1.8-.3 1.8-.3 1.8-.4 1.8-.3 1.8-.4 1.9-.4 1.8-.5 1.8-.4 1.8-.5 1.8-.5 1.8-.5 1.8-.6 1.8-.7 1.8-.8 1.8-.9 1.8-1.1 1.8-1.2 1.8-1.4 1.8-1.5 1.8-1.6 1.8-1.7 1.8-1.7 1.8-1.7 1.9-1.7 1.8-1.6 1.8-1.6 1.8-1.4 1.8-1.4 1.8-1.1 1.8-.9 1.8-.6 1.8-.3 1.8-0 1.8 .3 1.8 .7 1.8 1.1 1.8 1.4 1.8 1.7 1.8 1.9 1.8 2.1 1.8 2.2 1.9 2.4 1.8 2.6 1.8 2.6 1.8 2.8 1.8 2.8 1.8 3 1.8 3.4 1.8 3.7 1.8 4.2" stroke="#0072BD"/><path d="M411.5 206.0l1.8 .6 1.8 .7 1.8 .5 1.8 .5 1.8 .5 1.8 .4 1.8 .4 1.8 .3 1.8 .3 1.9 .2 1.8 .3 1.8 .1 1.8 .2 1.8 .1 1.8 .1 1.8 0 1.8 0 1.8 .1 1.8-.1 1.8-0 1.8-.1 1.8-.1 1.8-.2 1.8-.2 1.8-.2 1.8-.3 1.8-.3 1.9-.3 1.8-.3 1.8-.4 1.8-.4 1.8-.4 1.8-.5 1.8-.4 1.8-.5 1.8-.6 1.8-.7 1.8-.9 1.8-1.1 1.8-1.2 1.8-1.4 1.8-1.5 1.8-1.7 1.8-1.7 1.8-1.8 1.9-1.9 1.8-2 1.8-1.9 1.8-1.9 1.8-1.8 1.8-1.8 1.8-1.5 1.8-1.3 1.8-1 1.8-.9 1.8-.5 1.8-.1 1.8 .3 1.8 .7 1.8 1 1.8 1.2 1.8 1.4 1.8 1.6 1.9 1.9 1.8 2 1.8 2.2 1.8 2.3 1.8 2.4 1.8 2.5 1.8 2.6 1.8 3 1.8 3.5" stroke="#D95319"/><path d="M411.5 203.6l1.8 .7 1.8 .7 1.8 .6 1.8 .6 1.8 .6 1.8 .5 1.8 .5 1.8 .5 1.8 .4 1.9 .4 1.8 .3 1.8 .3 1.8 .3 1.8 .3 1.8 .2 1.8 .2 1.8 .1 1.8 .2 1.8 .1 1.8 .1 1.8 .1 1.8-0 1.8-0 1.8-.1 1.8-.1 1.8-.1 1.8-.2 1.9-.1 1.8-.3 1.8-.2 1.8-.3 1.8-.4 1.8-.3 1.8-.2 1.8-.3 1.8-.3 1.8-.5 1.8-.6 1.8-.8 1.8-.9 1.8-1.1 1.8-1.3 1.8-1.5 1.8-1.6 1.8-1.8 1.9-1.9 1.8-2 1.8-2.1 1.8-2.2 1.8-2.1 1.8-2.2 1.8-2 1.8-1.9 1.8-1.7 1.8-1.6 1.8-1.2 1.8-1 1.8-.5 1.8-.1 1.8 .1 1.8 .4 1.8 .7 1.8 .8 1.9 1.1 1.8 1.3 1.8 1.5 1.8 1.7 1.8 1.7 1.8 1.7 1.8 1.7 1.8 2 1.8 2.4" stroke="#EDB120"/><path d="M411.5 201.5l1.8 .7 1.8 .6 1.8 .7 1.8 .6 1.8 .6 1.8 .6 1.8 .6 1.8 .5 1.8 .5 1.9 .5 1.8 .4 1.8 .5 1.8 .4 1.8 .3 1.8 .4 1.8 .3 1.8 .3 1.8 .2 1.8 .3 1.8 .2 1.8 .2 1.8 .2 1.8 .1 1.8 .1 1.8 .1 1.8-0 1.8-0 1.9-.1 1.8-.1 1.8-.1 1.8-.1 1.8-.2 1.8-.2 1.8-.1 1.8 .1 1.8-0 1.8-.2 1.8-.3 1.8-.4 1.8-.6 1.8-.7 1.8-1 1.8-1.1 1.8-1.4 1.8-1.6 1.9-1.7 1.8-1.9 1.8-2 1.8-2.2 1.8-2.3 1.8-2.3 1.8-2.4 1.8-2.2 1.8-2.3 1.8-2.1 1.8-1.9 1.8-1.6 1.8-1.3 1.8-1 1.8-.7 1.8-.4 1.8-.2 1.8-0 1.9 .2 1.8 .5 1.8 .7 1.8 .8 1.8 .9 1.8 .7 1.8 .6 1.8 .7 1.8 1.1" stroke="#7E2F8E"/><path d="M411.5 199.8l1.8 .6 1.8 .6 1.8 .6 1.8 .6 1.8 .6 1.8 .6 1.8 .6 1.8 .5 1.8 .6 1.9 .5 1.8 .5 1.8 .5 1.8 .4 1.8 .5 1.8 .4 1.8 .4 1.8 .4 1.8 .4 1.8 .3 1.8 .4 1.8 .3 1.8 .3 1.8 .2 1.8 .3 1.8 .2 1.8 .1 1.8 .2 1.9 .1 1.8 0 1.8 .1 1.8-0 1.8-.1 1.8-0 1.8 .2 1.8 .3 1.8 .3 1.8 .2 1.8 0 1.8 0 1.8-.1 1.8-.3 1.8-.6 1.8-.7 1.8-1 1.8-1.1 1.9-1.4 1.8-1.6 1.8-1.8 1.8-2 1.8-2.2 1.8-2.3 1.8-2.4 1.8-2.5 1.8-2.4 1.8-2.5 1.8-2.4 1.8-2.2 1.8-2 1.8-1.6 1.8-1.5 1.8-1.2 1.8-1.1 1.8-.8 1.9-.7 1.8-.4 1.8-.2 1.8-.1 1.8 0 1.8-.3 1.8-.6 1.8-.6 1.8-.3" stroke="#77AC30"/><path d="M411.5 198.7l1.8 .5 1.8 .4 1.8 .5 1.8 .5 1.8 .6 1.8 .5 1.8 .5 1.8 .6 1.8 .5 1.9 .5 1.8 .5 1.8 .5 1.8 .5 1.8 .5 1.8 .5 1.8 .4 1.8 .5 1.8 .4 1.8 .5 1.8 .4 1.8 .4 1.8 .4 1.8 .3 1.8 .4 1.8 .3 1.8 .3 1.8 .2 1.9 .3 1.8 .2 1.8 .2 1.8 .1 1.8 .1 1.8 .2 1.8 .4 1.8 .5 1.8 .6 1.8 .5 1.8 .4 1.8 .4 1.8 .3 1.8 .2 1.8-.1 1.8-.2 1.8-.5 1.8-.7 1.9-.9 1.8-1.1 1.8-1.4 1.8-1.7 1.8-1.8 1.8-2.1 1.8-2.2 1.8-2.4 1.8-2.5 1.8-2.6 1.8-2.6 1.8-2.5 1.8-2.4 1.8-2.3 1.8-2 1.8-2 1.8-1.7 1.8-1.7 1.9-1.4 1.8-1.3 1.8-1 1.8-1 1.8-1 1.8-1.3 1.8-1.7 1.8-1.8 1.8-1.7" stroke="#4DBEEE"/></g><clipPath id="cB3"><rect x="411.5" y="151.5" width="130.0" height="109.0"/></clipPath><rect x="411.5" y="153.5" width="130.0" height="105.0" fill="none" stroke="#a6a6a6" stroke-width="1.4"/><path d="M411.5 153.5h1.3M541.5 153.5h-1.3M411.5 179.75h1.3M541.5 179.75h-1.3M411.5 206h1.3M541.5 206h-1.3M411.5 232.25h1.3M541.5 232.25h-1.3M411.5 258.5h1.3M541.5 258.5h-1.3M411.5 258.5v-1.3M411.5 153.5v1.3M476.5 258.5v-1.3M476.5 153.5v1.3M541.5 258.5v-1.3M541.5 153.5v1.3" stroke="#666" stroke-width="1" fill="none"/><text x="408.5" y="157.4" text-anchor="end" class="t">0.1</text><text x="408.5" y="183.65" text-anchor="end" class="t">0.05</text><text x="408.5" y="209.9" text-anchor="end" class="t">0</text><text x="408.5" y="236.15" text-anchor="end" class="t">-0.05</text><text x="408.5" y="262.4" text-anchor="end" class="t">-0.1</text><text x="411.5" y="271" text-anchor="middle" class="t">0</text><text x="476.5" y="271" text-anchor="middle" class="t">0.5</text><text x="541.5" y="271" text-anchor="middle" class="t">1</text><text x="476" y="284.7" text-anchor="middle" class="l xl">Traveling Wave (BL)</text><text transform="translate(384.19 206) rotate(-90)" text-anchor="middle" class="l yl">Displacement (BL)</text><path d="M125.35 297.5V402.5M59.2 323.75H191.5M59.2 350H191.5M59.2 376.25H191.5" stroke="#ebebeb" stroke-width="0.8" fill="none"/><g fill="none" stroke-width="1.0" stroke-opacity="0.62" clip-path="url(#cC1)"><path d="M59.2 339.2l1.8 .3 1.9 .3 1.8 .4 1.8 .5 1.9 .6 1.8 .7 1.9 .7 1.8 .8 1.8 .7 1.9 .7 1.8 .7 1.8 .6 1.9 .7 1.8 .6 1.9 .6 1.8 .7 1.8 .6 1.9 .6 1.8 .6 1.9 .6 1.8 .6 1.8 .7 1.9 .6 1.8 .6 1.8 .6 1.9 .6 1.8 .6 1.8 .7 1.9 .7 1.8 .6 1.9 .7 1.8 .6 1.8 .6 1.9 .6 1.8 .5 1.8 .4 1.9 .4 1.8 .4 1.9 .2 1.8 .2 1.8 .1 1.9-0 1.8-.2 1.8-.4 1.9-.5 1.8-.7 1.9-.8 1.8-.9 1.8-1.1 1.9-1.2 1.8-1.4 1.8-1.5 1.9-1.7 1.8-1.8 1.9-2 1.8-2.1 1.8-2.2 1.9-2.3 1.8-2.4 1.8-2.6 1.9-2.5 1.8-2.7 1.9-2.6 1.8-2.5 1.8-2.5 1.9-2.4 1.8-2.3 1.8-2.1 1.9-2.1 1.8-1.8 1.9-1.7 1.8-1.4" stroke="#0072BD"/><path d="M59.2 339.8l1.8-.1 1.9 0 1.8 .2 1.8 .2 1.9 .4 1.8 .4 1.9 .6 1.8 .6 1.8 .6 1.9 .6 1.8 .5 1.8 .6 1.9 .5 1.8 .6 1.9 .6 1.8 .5 1.8 .6 1.9 .6 1.8 .6 1.9 .6 1.8 .6 1.8 .7 1.9 .6 1.8 .6 1.8 .7 1.9 .7 1.8 .7 1.8 .7 1.9 .7 1.8 .8 1.9 .8 1.8 .8 1.8 .8 1.9 .7 1.8 .8 1.8 .7 1.9 .7 1.8 .6 1.9 .6 1.8 .6 1.8 .5 1.9 .3 1.8 .3 1.8 0 1.9-0 1.8-.3 1.9-.3 1.8-.5 1.8-.6 1.9-.8 1.8-.9 1.8-1.1 1.9-1.3 1.8-1.5 1.9-1.6 1.8-1.8 1.8-2 1.9-2.2 1.8-2.3 1.8-2.4 1.9-2.6 1.8-2.7 1.9-2.8 1.8-2.8 1.8-2.9 1.9-2.8 1.8-2.9 1.8-2.8 1.9-2.7 1.8-2.7 1.9-2.5 1.8-2.4" stroke="#D95319"/><path d="M59.2 341.3l1.8-.4 1.9-.2 1.8-.1 1.8-.1 1.9 .1 1.8 .2 1.9 .3 1.8 .4 1.8 .5 1.9 .3 1.8 .4 1.8 .4 1.9 .4 1.8 .4 1.9 .5 1.8 .4 1.8 .5 1.9 .5 1.8 .5 1.9 .6 1.8 .6 1.8 .5 1.9 .6 1.8 .6 1.8 .7 1.9 .6 1.8 .7 1.8 .8 1.9 .7 1.8 .8 1.9 .9 1.8 .8 1.8 .9 1.9 .9 1.8 .9 1.8 1 1.9 .9 1.8 .8 1.9 .9 1.8 .9 1.8 .8 1.9 .8 1.8 .6 1.8 .5 1.9 .4 1.8 .2 1.9 .1 1.8 .1 1.8-.1 1.9-.3 1.8-.3 1.8-.6 1.9-.8 1.8-1 1.9-1.1 1.8-1.4 1.8-1.6 1.9-1.8 1.8-1.9 1.8-2.2 1.9-2.3 1.8-2.5 1.9-2.7 1.8-2.9 1.8-2.9 1.9-3 1.8-3.1 1.8-3.2 1.9-3.2 1.8-3.2 1.9-3.2 1.8-3.1" stroke="#EDB120"/><path d="M59.2 343.7l1.8-.6 1.9-.5 1.8-.5 1.8-.3 1.9-.2 1.8-.1 1.9 .1 1.8 .2 1.8 .2 1.9 .1 1.8 .2 1.8 .2 1.9 .2 1.8 .3 1.9 .2 1.8 .3 1.8 .4 1.9 .3 1.8 .4 1.9 .5 1.8 .4 1.8 .5 1.9 .5 1.8 .5 1.8 .6 1.9 .6 1.8 .6 1.8 .6 1.9 .7 1.8 .8 1.9 .8 1.8 .9 1.8 .9 1.9 .9 1.8 1 1.8 1 1.9 1.1 1.8 1 1.9 1.1 1.8 1.1 1.8 1.1 1.9 1 1.8 1 1.8 .9 1.9 .8 1.8 .7 1.9 .6 1.8 .5 1.8 .4 1.9 .3 1.8 .2 1.8 0 1.9-.1 1.8-.4 1.9-.6 1.8-.8 1.8-1 1.9-1.2 1.8-1.4 1.8-1.7 1.9-1.8 1.8-2.1 1.9-2.4 1.8-2.5 1.8-2.8 1.9-2.9 1.8-3 1.8-3.2 1.9-3.4 1.8-3.4 1.9-3.5 1.8-3.6" stroke="#7E2F8E"/><path d="M59.2 346.7l1.8-.8 1.9-.8 1.8-.6 1.8-.6 1.9-.4 1.8-.4 1.9-.2 1.8-.1 1.8-.1 1.9-0 1.8-.1 1.8 0 1.9 0 1.8 .1 1.9 .1 1.8 .1 1.8 .1 1.9 .2 1.8 .3 1.9 .2 1.8 .3 1.8 .4 1.9 .3 1.8 .4 1.8 .4 1.9 .5 1.8 .4 1.8 .6 1.9 .5 1.8 .7 1.9 .7 1.8 .8 1.8 .8 1.9 .9 1.8 1 1.8 1 1.9 1 1.8 1.2 1.9 1.1 1.8 1.2 1.8 1.3 1.9 1.2 1.8 1.3 1.8 1.1 1.9 1.2 1.8 1 1.9 1 1.8 1 1.8 .9 1.9 .8 1.8 .8 1.8 .6 1.9 .4 1.8 .3 1.9 0 1.8-.1 1.8-.3 1.9-.6 1.8-.7 1.8-1 1.9-1.2 1.8-1.4 1.9-1.8 1.8-2 1.8-2.3 1.9-2.5 1.8-2.7 1.8-3 1.9-3.1 1.8-3.3 1.9-3.6 1.8-3.6" stroke="#77AC30"/><path d="M59.2 350.0l1.8-.9 1.9-.9 1.8-.8 1.8-.8 1.9-.7 1.8-.5 1.9-.5 1.8-.4 1.8-.3 1.9-.2 1.8-.3 1.8-.2 1.9-.2 1.8-.2 1.9-.1 1.8-.1 1.8-0 1.9-0 1.8 0 1.9 .1 1.8 .1 1.8 .2 1.9 .1 1.8 .2 1.8 .3 1.9 .3 1.8 .3 1.8 .3 1.9 .4 1.8 .5 1.9 .5 1.8 .6 1.8 .7 1.9 .7 1.8 .9 1.8 .9 1.9 1 1.8 1.1 1.9 1.1 1.8 1.2 1.8 1.3 1.9 1.3 1.8 1.4 1.8 1.3 1.9 1.4 1.8 1.3 1.9 1.3 1.8 1.3 1.8 1.3 1.9 1.3 1.8 1.2 1.8 1.2 1.9 1 1.8 .8 1.9 .7 1.8 .6 1.8 .4 1.9 .2 1.8-0 1.8-.2 1.9-.4 1.8-.7 1.9-1 1.8-1.3 1.8-1.6 1.9-1.9 1.8-2.1 1.8-2.4 1.9-2.7 1.8-2.9 1.9-3.1 1.8-3.4" stroke="#4DBEEE"/><path d="M59.2 353.3l1.8-.9 1.9-1 1.8-.9 1.8-.8 1.9-.9 1.8-.7 1.9-.7 1.8-.6 1.8-.5 1.9-.5 1.8-.4 1.8-.5 1.9-.3 1.8-.4 1.9-.3 1.8-.3 1.8-.2 1.9-.2 1.8-.1 1.9-.1 1.8-.1 1.8-.1 1.9 0 1.8 0 1.8 .1 1.9 0 1.8 .1 1.8 .1 1.9 .2 1.8 .3 1.9 .3 1.8 .3 1.8 .5 1.9 .5 1.8 .7 1.8 .7 1.9 .8 1.8 1 1.9 1 1.8 1.1 1.8 1.1 1.9 1.3 1.8 1.4 1.8 1.4 1.9 1.4 1.8 1.5 1.9 1.5 1.8 1.5 1.8 1.6 1.9 1.6 1.8 1.6 1.8 1.5 1.9 1.5 1.8 1.4 1.9 1.3 1.8 1.1 1.8 1.1 1.9 .9 1.8 .7 1.8 .6 1.9 .4 1.8 .2 1.9-.2 1.8-.4 1.8-.8 1.9-1 1.8-1.3 1.8-1.6 1.9-1.9 1.8-2.2 1.9-2.5 1.8-2.8" stroke="#A2142F"/><path d="M59.2 356.3l1.8-.9 1.9-.9 1.8-.9 1.8-.9 1.9-.9 1.8-.8 1.9-.8 1.8-.8 1.8-.7 1.9-.6 1.8-.6 1.8-.6 1.9-.5 1.8-.5 1.9-.5 1.8-.4 1.8-.4 1.9-.4 1.8-.3 1.9-.3 1.8-.2 1.8-.3 1.9-.2 1.8-.2 1.8-.2 1.9-.1 1.8-.1 1.8-.2 1.9-0 1.8-0 1.9 0 1.8 .1 1.8 .2 1.9 .3 1.8 .4 1.8 .5 1.9 .5 1.8 .7 1.9 .8 1.8 .8 1.8 1 1.9 1.1 1.8 1.2 1.8 1.4 1.9 1.4 1.8 1.4 1.9 1.6 1.8 1.6 1.8 1.6 1.9 1.8 1.8 1.8 1.8 1.8 1.9 1.8 1.8 1.8 1.9 1.7 1.8 1.7 1.8 1.6 1.9 1.5 1.8 1.4 1.8 1.4 1.9 1.1 1.8 1 1.9 .7 1.8 .5 1.8 .2 1.9-.1 1.8-.4 1.8-.7 1.9-.9 1.8-1.3 1.9-1.6 1.8-1.9" stroke="#0072BD"/><path d="M59.2 358.7l1.8-.7 1.9-.8 1.8-.8 1.8-.9 1.9-.8 1.8-.9 1.9-.9 1.8-.8 1.8-.8 1.9-.7 1.8-.7 1.8-.7 1.9-.6 1.8-.6 1.9-.6 1.8-.6 1.8-.5 1.9-.5 1.8-.5 1.9-.4 1.8-.4 1.8-.4 1.9-.4 1.8-.4 1.8-.4 1.9-.3 1.8-.3 1.8-.4 1.9-.3 1.8-.2 1.9-.2 1.8-.2 1.8-.1 1.9-0 1.8 .1 1.8 .1 1.9 .3 1.8 .4 1.9 .4 1.8 .6 1.8 .7 1.9 .8 1.8 .9 1.8 1.1 1.9 1.2 1.8 1.4 1.9 1.4 1.8 1.5 1.8 1.6 1.9 1.8 1.8 1.8 1.8 1.9 1.9 1.9 1.8 2 1.9 2 1.8 2.1 1.8 2 1.9 2 1.8 1.9 1.8 2 1.9 1.8 1.8 1.7 1.9 1.5 1.8 1.3 1.8 1.1 1.9 .9 1.8 .5 1.8 .4 1.9 .1 1.8-.2 1.9-.5 1.8-.9" stroke="#D95319"/><path d="M59.2 360.2l1.8-.5 1.9-.6 1.8-.6 1.8-.7 1.9-.8 1.8-.8 1.9-.8 1.8-.9 1.8-.8 1.9-.7 1.8-.7 1.8-.7 1.9-.7 1.8-.6 1.9-.7 1.8-.6 1.8-.6 1.9-.6 1.8-.6 1.9-.5 1.8-.6 1.8-.5 1.9-.5 1.8-.6 1.8-.5 1.9-.5 1.8-.5 1.8-.5 1.9-.5 1.8-.5 1.9-.4 1.8-.4 1.8-.4 1.9-.3 1.8-.3 1.8-.1 1.9-.1 1.8 0 1.9 .1 1.8 .2 1.8 .3 1.9 .5 1.8 .6 1.8 .8 1.9 .9 1.8 1 1.9 1.2 1.8 1.3 1.8 1.4 1.9 1.5 1.8 1.7 1.8 1.8 1.9 1.9 1.8 2 1.9 2.1 1.8 2.2 1.8 2.2 1.9 2.3 1.8 2.3 1.8 2.3 1.9 2.4 1.8 2.2 1.9 2.2 1.8 2 1.8 1.9 1.9 1.7 1.8 1.5 1.8 1.3 1.9 1.2 1.8 .8 1.9 .6 1.8 .3" stroke="#EDB120"/><path d="M59.2 360.8l1.8-.3 1.9-.3 1.8-.4 1.8-.5 1.9-.6 1.8-.7 1.9-.7 1.8-.8 1.8-.7 1.9-.7 1.8-.7 1.8-.6 1.9-.7 1.8-.6 1.9-.6 1.8-.7 1.8-.6 1.9-.6 1.8-.6 1.9-.6 1.8-.6 1.8-.7 1.9-.6 1.8-.6 1.8-.6 1.9-.6 1.8-.6 1.8-.7 1.9-.7 1.8-.6 1.9-.7 1.8-.6 1.8-.6 1.9-.6 1.8-.5 1.8-.4 1.9-.4 1.8-.4 1.9-.2 1.8-.2 1.8-.1 1.9 0 1.8 .2 1.8 .4 1.9 .5 1.8 .7 1.9 .8 1.8 .9 1.8 1.1 1.9 1.2 1.8 1.4 1.8 1.5 1.9 1.7 1.8 1.8 1.9 2 1.8 2.1 1.8 2.2 1.9 2.3 1.8 2.4 1.8 2.6 1.9 2.5 1.8 2.7 1.9 2.6 1.8 2.5 1.8 2.5 1.9 2.4 1.8 2.3 1.8 2.1 1.9 2.1 1.8 1.8 1.9 1.7 1.8 1.4" stroke="#7E2F8E"/><path d="M59.2 360.2l1.8 .1 1.9-0 1.8-.2 1.8-.2 1.9-.4 1.8-.4 1.9-.6 1.8-.6 1.8-.6 1.9-.6 1.8-.5 1.8-.6 1.9-.5 1.8-.6 1.9-.6 1.8-.5 1.8-.6 1.9-.6 1.8-.6 1.9-.6 1.8-.6 1.8-.7 1.9-.6 1.8-.6 1.8-.7 1.9-.7 1.8-.7 1.8-.7 1.9-.7 1.8-.8 1.9-.8 1.8-.8 1.8-.8 1.9-.7 1.8-.8 1.8-.7 1.9-.7 1.8-.6 1.9-.6 1.8-.6 1.8-.5 1.9-.3 1.8-.3 1.8-0 1.9 0 1.8 .3 1.9 .3 1.8 .5 1.8 .6 1.9 .8 1.8 .9 1.8 1.1 1.9 1.3 1.8 1.5 1.9 1.6 1.8 1.8 1.8 2 1.9 2.2 1.8 2.3 1.8 2.4 1.9 2.6 1.8 2.7 1.9 2.8 1.8 2.8 1.8 2.9 1.9 2.8 1.8 2.9 1.8 2.8 1.9 2.7 1.8 2.7 1.9 2.5 1.8 2.4" stroke="#77AC30"/><path d="M59.2 358.7l1.8 .4 1.9 .2 1.8 .1 1.8 .1 1.9-.1 1.8-.2 1.9-.3 1.8-.4 1.8-.5 1.9-.3 1.8-.4 1.8-.4 1.9-.4 1.8-.4 1.9-.5 1.8-.4 1.8-.5 1.9-.5 1.8-.5 1.9-.6 1.8-.6 1.8-.5 1.9-.6 1.8-.6 1.8-.7 1.9-.6 1.8-.7 1.8-.8 1.9-.7 1.8-.8 1.9-.9 1.8-.8 1.8-.9 1.9-.9 1.8-.9 1.8-1 1.9-.9 1.8-.8 1.9-.9 1.8-.9 1.8-.8 1.9-.8 1.8-.6 1.8-.5 1.9-.4 1.8-.2 1.9-.1 1.8-.1 1.8 .1 1.9 .3 1.8 .3 1.8 .6 1.9 .8 1.8 1 1.9 1.1 1.8 1.4 1.8 1.6 1.9 1.8 1.8 1.9 1.8 2.2 1.9 2.3 1.8 2.5 1.9 2.7 1.8 2.9 1.8 2.9 1.9 3 1.8 3.1 1.8 3.2 1.9 3.2 1.8 3.2 1.9 3.2 1.8 3.1" stroke="#4DBEEE"/><path d="M59.2 356.3l1.8 .6 1.9 .5 1.8 .5 1.8 .3 1.9 .2 1.8 .1 1.9-.1 1.8-.2 1.8-.2 1.9-.1 1.8-.2 1.8-.2 1.9-.2 1.8-.3 1.9-.2 1.8-.3 1.8-.4 1.9-.3 1.8-.4 1.9-.5 1.8-.4 1.8-.5 1.9-.5 1.8-.5 1.8-.6 1.9-.6 1.8-.6 1.8-.6 1.9-.7 1.8-.8 1.9-.8 1.8-.9 1.8-.9 1.9-.9 1.8-1 1.8-1 1.9-1.1 1.8-1 1.9-1.1 1.8-1.1 1.8-1.1 1.9-1 1.8-1 1.8-.9 1.9-.8 1.8-.7 1.9-.6 1.8-.5 1.8-.4 1.9-.3 1.8-.2 1.8-0 1.9 .1 1.8 .4 1.9 .6 1.8 .8 1.8 1 1.9 1.2 1.8 1.4 1.8 1.7 1.9 1.8 1.8 2.1 1.9 2.4 1.8 2.5 1.8 2.8 1.9 2.9 1.8 3 1.8 3.2 1.9 3.4 1.8 3.4 1.9 3.5 1.8 3.6" stroke="#A2142F"/><path d="M59.2 353.3l1.8 .8 1.9 .8 1.8 .6 1.8 .6 1.9 .4 1.8 .4 1.9 .2 1.8 .1 1.8 .1 1.9 0 1.8 .1 1.8-0 1.9-0 1.8-.1 1.9-.1 1.8-.1 1.8-.1 1.9-.2 1.8-.3 1.9-.2 1.8-.3 1.8-.4 1.9-.3 1.8-.4 1.8-.4 1.9-.5 1.8-.4 1.8-.6 1.9-.5 1.8-.7 1.9-.7 1.8-.8 1.8-.8 1.9-.9 1.8-1 1.8-1 1.9-1 1.8-1.2 1.9-1.1 1.8-1.2 1.8-1.3 1.9-1.2 1.8-1.3 1.8-1.1 1.9-1.2 1.8-1 1.9-1 1.8-1 1.8-.9 1.9-.8 1.8-.8 1.8-.6 1.9-.4 1.8-.3 1.9-0 1.8 .1 1.8 .3 1.9 .6 1.8 .7 1.8 1 1.9 1.2 1.8 1.4 1.9 1.8 1.8 2 1.8 2.3 1.9 2.5 1.8 2.7 1.8 3 1.9 3.1 1.8 3.3 1.9 3.6 1.8 3.6" stroke="#0072BD"/><path d="M59.2 350.0l1.8 .9 1.9 .9 1.8 .8 1.8 .8 1.9 .7 1.8 .5 1.9 .5 1.8 .4 1.8 .3 1.9 .2 1.8 .3 1.8 .2 1.9 .2 1.8 .2 1.9 .1 1.8 .1 1.8 0 1.9 0 1.8-0 1.9-.1 1.8-.1 1.8-.2 1.9-.1 1.8-.2 1.8-.3 1.9-.3 1.8-.3 1.8-.3 1.9-.4 1.8-.5 1.9-.5 1.8-.6 1.8-.7 1.9-.7 1.8-.9 1.8-.9 1.9-1 1.8-1.1 1.9-1.1 1.8-1.2 1.8-1.3 1.9-1.3 1.8-1.4 1.8-1.3 1.9-1.4 1.8-1.3 1.9-1.3 1.8-1.3 1.8-1.3 1.9-1.3 1.8-1.2 1.8-1.2 1.9-1 1.8-.8 1.9-.7 1.8-.6 1.8-.4 1.9-.2 1.8 0 1.8 .2 1.9 .4 1.8 .7 1.9 1 1.8 1.3 1.8 1.6 1.9 1.9 1.8 2.1 1.8 2.4 1.9 2.7 1.8 2.9 1.9 3.1 1.8 3.4" stroke="#D95319"/><path d="M59.2 346.7l1.8 .9 1.9 1 1.8 .9 1.8 .8 1.9 .9 1.8 .7 1.9 .7 1.8 .6 1.8 .5 1.9 .5 1.8 .4 1.8 .5 1.9 .3 1.8 .4 1.9 .3 1.8 .3 1.8 .2 1.9 .2 1.8 .1 1.9 .1 1.8 .1 1.8 .1 1.9-0 1.8-0 1.8-.1 1.9-0 1.8-.1 1.8-.1 1.9-.2 1.8-.3 1.9-.3 1.8-.3 1.8-.5 1.9-.5 1.8-.7 1.8-.7 1.9-.8 1.8-1 1.9-1 1.8-1.1 1.8-1.1 1.9-1.3 1.8-1.4 1.8-1.4 1.9-1.4 1.8-1.5 1.9-1.5 1.8-1.5 1.8-1.6 1.9-1.6 1.8-1.6 1.8-1.5 1.9-1.5 1.8-1.4 1.9-1.3 1.8-1.1 1.8-1.1 1.9-.9 1.8-.7 1.8-.6 1.9-.4 1.8-.2 1.9 .2 1.8 .4 1.8 .8 1.9 1 1.8 1.3 1.8 1.6 1.9 1.9 1.8 2.2 1.9 2.5 1.8 2.8" stroke="#EDB120"/><path d="M59.2 343.7l1.8 .9 1.9 .9 1.8 .9 1.8 .9 1.9 .9 1.8 .8 1.9 .8 1.8 .8 1.8 .7 1.9 .6 1.8 .6 1.8 .6 1.9 .5 1.8 .5 1.9 .5 1.8 .4 1.8 .4 1.9 .4 1.8 .3 1.9 .3 1.8 .2 1.8 .3 1.9 .2 1.8 .2 1.8 .2 1.9 .1 1.8 .1 1.8 .2 1.9 0 1.8 0 1.9-0 1.8-.1 1.8-.2 1.9-.3 1.8-.4 1.8-.5 1.9-.5 1.8-.7 1.9-.8 1.8-.8 1.8-1 1.9-1.1 1.8-1.2 1.8-1.4 1.9-1.4 1.8-1.4 1.9-1.6 1.8-1.6 1.8-1.6 1.9-1.8 1.8-1.8 1.8-1.8 1.9-1.8 1.8-1.8 1.9-1.7 1.8-1.7 1.8-1.6 1.9-1.5 1.8-1.4 1.8-1.4 1.9-1.1 1.8-1 1.9-.7 1.8-.5 1.8-.2 1.9 .1 1.8 .4 1.8 .7 1.9 .9 1.8 1.3 1.9 1.6 1.8 1.9" stroke="#7E2F8E"/><path d="M59.2 341.3l1.8 .7 1.9 .8 1.8 .8 1.8 .9 1.9 .8 1.8 .9 1.9 .9 1.8 .8 1.8 .8 1.9 .7 1.8 .7 1.8 .7 1.9 .6 1.8 .6 1.9 .6 1.8 .6 1.8 .5 1.9 .5 1.8 .5 1.9 .4 1.8 .4 1.8 .4 1.9 .4 1.8 .4 1.8 .4 1.9 .3 1.8 .3 1.8 .4 1.9 .3 1.8 .2 1.9 .2 1.8 .2 1.8 .1 1.9 0 1.8-.1 1.8-.1 1.9-.3 1.8-.4 1.9-.4 1.8-.6 1.8-.7 1.9-.8 1.8-.9 1.8-1.1 1.9-1.2 1.8-1.4 1.9-1.4 1.8-1.5 1.8-1.6 1.9-1.8 1.8-1.8 1.8-1.9 1.9-1.9 1.8-2 1.9-2 1.8-2.1 1.8-2 1.9-2 1.8-1.9 1.8-2 1.9-1.8 1.8-1.7 1.9-1.5 1.8-1.3 1.8-1.1 1.9-.9 1.8-.5 1.8-.4 1.9-.1 1.8 .2 1.9 .5 1.8 .9" stroke="#77AC30"/><path d="M59.2 339.8l1.8 .5 1.9 .6 1.8 .6 1.8 .7 1.9 .8 1.8 .8 1.9 .8 1.8 .9 1.8 .8 1.9 .7 1.8 .7 1.8 .7 1.9 .7 1.8 .6 1.9 .7 1.8 .6 1.8 .6 1.9 .6 1.8 .6 1.9 .5 1.8 .6 1.8 .5 1.9 .5 1.8 .6 1.8 .5 1.9 .5 1.8 .5 1.8 .5 1.9 .5 1.8 .5 1.9 .4 1.8 .4 1.8 .4 1.9 .3 1.8 .3 1.8 .1 1.9 .1 1.8-0 1.9-.1 1.8-.2 1.8-.3 1.9-.5 1.8-.6 1.8-.8 1.9-.9 1.8-1 1.9-1.2 1.8-1.3 1.8-1.4 1.9-1.5 1.8-1.7 1.8-1.8 1.9-1.9 1.8-2 1.9-2.1 1.8-2.2 1.8-2.2 1.9-2.3 1.8-2.3 1.8-2.3 1.9-2.4 1.8-2.2 1.9-2.2 1.8-2 1.8-1.9 1.9-1.7 1.8-1.5 1.8-1.3 1.9-1.2 1.8-.8 1.9-.6 1.8-.3" stroke="#4DBEEE"/></g><clipPath id="cC1"><rect x="59.2" y="295.5" width="132.3" height="109.0"/></clipPath><rect x="59.2" y="297.5" width="132.3" height="105.0" fill="none" stroke="#a6a6a6" stroke-width="1.4"/><path d="M59.2 297.5h1.3M191.5 297.5h-1.3M59.2 323.75h1.3M191.5 323.75h-1.3M59.2 350h1.3M191.5 350h-1.3M59.2 376.25h1.3M191.5 376.25h-1.3M59.2 402.5h1.3M191.5 402.5h-1.3M59.2 402.5v-1.3M59.2 297.5v1.3M125.35 402.5v-1.3M125.35 297.5v1.3M191.5 402.5v-1.3M191.5 297.5v1.3" stroke="#666" stroke-width="1" fill="none"/><text x="56.2" y="301.4" text-anchor="end" class="t">0.2</text><text x="56.2" y="327.65" text-anchor="end" class="t">0.1</text><text x="56.2" y="353.9" text-anchor="end" class="t">0</text><text x="56.2" y="380.15" text-anchor="end" class="t">-0.1</text><text x="56.2" y="406.4" text-anchor="end" class="t">-0.2</text><text x="59.2" y="415" text-anchor="middle" class="t">0</text><text x="125.35" y="415" text-anchor="middle" class="t">0.5</text><text x="191.5" y="415" text-anchor="middle" class="t">1</text><text x="127.5" y="428.7" text-anchor="middle" class="l xl">Body Wave (BL)</text><text transform="translate(36.89 350) rotate(-90)" text-anchor="middle" class="l yl">Displacement (BL)</text><path d="M302.5 297.5V402.5M237.5 323.75H367.5M237.5 350H367.5M237.5 376.25H367.5" stroke="#ebebeb" stroke-width="0.8" fill="none"/><g fill="none" stroke-width="1.0" stroke-opacity="0.62" clip-path="url(#cC2)"><path d="M237.5 356.3l1.8-.8 1.8-.9 1.8-.8 1.8-.8 1.8-.8 1.8-.8 1.8-.8 1.8-.7 1.8-.8 1.9-.8 1.8-.8 1.8-.8 1.8-.6 1.8-.5 1.8-.4 1.8-.3 1.8-.3 1.8-.3 1.8-.3 1.8-.3 1.8-.2 1.8-.2 1.8-.2 1.8-.1 1.8-.2 1.8-0 1.8-0 1.9-0 1.8 .1 1.8 .2 1.8 .2 1.8 .3 1.8 .3 1.8 .4 1.8 .4 1.8 .4 1.8 .5 1.8 .6 1.8 .9 1.8 .9 1.8 1 1.8 1.1 1.8 1.4 1.8 1.6 1.8 1.7 1.9 1.6 1.8 1.7 1.8 1.7 1.8 1.7 1.8 1.6 1.8 1.6 1.8 1.5 1.8 1.4 1.8 1.3 1.8 1.1 1.8 1.1 1.8 .9 1.8 .7 1.8 .7 1.8 .5 1.8 .3 1.8 0 1.8-.2 1.9-.5 1.8-.5 1.8-.9 1.8-1.3 1.8-1.5 1.8-1.4 1.8-1.4 1.8-1.6 1.8-1.5" stroke="#0072BD"/><path d="M237.5 352.9l1.8-.4 1.8-.4 1.8-.3 1.8-.4 1.8-.4 1.8-.3 1.8-.4 1.8-.4 1.8-.3 1.9-.4 1.8-.4 1.8-.3 1.8-.3 1.8-.3 1.8-.1 1.8-.2 1.8-.1 1.8-.2 1.8-.1 1.8-.1 1.8-.1 1.8-.1 1.8-.1 1.8-.1 1.8-0 1.8-.1 1.8 0 1.9 .1 1.8 0 1.8 .1 1.8 .1 1.8 .1 1.8 .2 1.8 .1 1.8 .2 1.8 .2 1.8 .2 1.8 .4 1.8 .3 1.8 .5 1.8 .4 1.8 .6 1.8 .6 1.8 .7 1.8 .8 1.9 .8 1.8 .8 1.8 .8 1.8 .7 1.8 .8 1.8 .7 1.8 .7 1.8 .7 1.8 .6 1.8 .5 1.8 .5 1.8 .4 1.8 .3 1.8 .3 1.8 .3 1.8 .1 1.8 0 1.8-.1 1.9-.2 1.8-.2 1.8-.4 1.8-.6 1.8-.7 1.8-.7 1.8-.7 1.8-.7 1.8-.7" stroke="#D95319"/><path d="M237.5 349.3l1.8 .1 1.8 .1 1.8 .1 1.8 .1 1.8 0 1.8 .1 1.8 .1 1.8 .1 1.8 .1 1.9 .1 1.8 .1 1.8 .1 1.8 .1 1.8 0 1.8 .1 1.8-0 1.8 0 1.8 .1 1.8 0 1.8 0 1.8 .1 1.8-0 1.8 0 1.8 0 1.8 0 1.8 0 1.8 0 1.9 0 1.8 0 1.8 0 1.8-0 1.8-.1 1.8 0 1.8-0 1.8-.1 1.8-0 1.8-.1 1.8-.1 1.8-.1 1.8-.1 1.8-.1 1.8-.1 1.8-.2 1.8-.2 1.8-.2 1.9-.2 1.8-.2 1.8-.2 1.8-.1 1.8-.2 1.8-.2 1.8-.2 1.8-.2 1.8-.1 1.8-.1 1.8-.2 1.8-.1 1.8-.1 1.8-0 1.8-.1 1.8-0 1.8-0 1.8-0 1.9 0 1.8 .1 1.8 .1 1.8 .2 1.8 .1 1.8 .2 1.8 .2 1.8 .1 1.8 .2" stroke="#EDB120"/><path d="M237.5 345.7l1.8 .5 1.8 .6 1.8 .6 1.8 .5 1.8 .6 1.8 .5 1.8 .6 1.8 .5 1.8 .5 1.9 .6 1.8 .5 1.8 .5 1.8 .5 1.8 .3 1.8 .3 1.8 .2 1.8 .2 1.8 .2 1.8 .2 1.8 .2 1.8 .2 1.8 .1 1.8 .1 1.8 .1 1.8 .1 1.8 .1 1.8-0 1.9-.1 1.8-0 1.8-.1 1.8-.2 1.8-.2 1.8-.2 1.8-.3 1.8-.2 1.8-.3 1.8-.4 1.8-.4 1.8-.6 1.8-.6 1.8-.7 1.8-.8 1.8-.9 1.8-1.1 1.8-1.2 1.9-1.1 1.8-1.2 1.8-1.2 1.8-1.1 1.8-1.1 1.8-1.1 1.8-1 1.8-1 1.8-.9 1.8-.8 1.8-.7 1.8-.6 1.8-.5 1.8-.4 1.8-.4 1.8-.3 1.8 .1 1.8 .1 1.9 .3 1.8 .4 1.8 .6 1.8 .9 1.8 1 1.8 1 1.8 1 1.8 1 1.8 1.1" stroke="#7E2F8E"/><path d="M237.5 342.5l1.8 1 1.8 1 1.8 1 1.8 .9 1.8 1 1.8 .9 1.8 .9 1.8 .9 1.8 1 1.9 .9 1.8 1 1.8 .9 1.8 .8 1.8 .6 1.8 .4 1.8 .4 1.8 .4 1.8 .3 1.8 .4 1.8 .3 1.8 .3 1.8 .2 1.8 .2 1.8 .2 1.8 .1 1.8 .1 1.8 0 1.9-0 1.8-.2 1.8-.2 1.8-.3 1.8-.3 1.8-.4 1.8-.4 1.8-.5 1.8-.4 1.8-.6 1.8-.8 1.8-1 1.8-1.1 1.8-1.2 1.8-1.3 1.8-1.6 1.8-1.9 1.8-2.1 1.9-2 1.8-2 1.8-2 1.8-2 1.8-1.9 1.8-1.9 1.8-1.8 1.8-1.7 1.8-1.5 1.8-1.3 1.8-1.3 1.8-1 1.8-.9 1.8-.8 1.8-.7 1.8-.3 1.8-0 1.8 .3 1.9 .5 1.8 .6 1.8 1.1 1.8 1.6 1.8 1.7 1.8 1.7 1.8 1.7 1.8 1.8 1.8 1.9" stroke="#77AC30"/><path d="M237.5 340.0l1.8 1.4 1.8 1.3 1.8 1.3 1.8 1.3 1.8 1.3 1.8 1.2 1.8 1.2 1.8 1.2 1.8 1.2 1.9 1.3 1.8 1.3 1.8 1.1 1.8 1.1 1.8 .8 1.8 .5 1.8 .6 1.8 .5 1.8 .4 1.8 .5 1.8 .4 1.8 .4 1.8 .3 1.8 .3 1.8 .2 1.8 .2 1.8 .1 1.8 0 1.9-0 1.8-.2 1.8-.3 1.8-.4 1.8-.4 1.8-.5 1.8-.6 1.8-.6 1.8-.6 1.8-.8 1.8-1.1 1.8-1.3 1.8-1.4 1.8-1.6 1.8-1.8 1.8-2.1 1.8-2.5 1.8-2.7 1.9-2.6 1.8-2.7 1.8-2.7 1.8-2.7 1.8-2.5 1.8-2.5 1.8-2.4 1.8-2.2 1.8-2 1.8-1.8 1.8-1.6 1.8-1.4 1.8-1.2 1.8-1 1.8-.9 1.8-.5 1.8 .1 1.8 .4 1.9 .6 1.8 .8 1.8 1.4 1.8 2.1 1.8 2.4 1.8 2.2 1.8 2.3 1.8 2.4 1.8 2.4" stroke="#4DBEEE"/><path d="M237.5 338.6l1.8 1.5 1.8 1.5 1.8 1.5 1.8 1.5 1.8 1.4 1.8 1.5 1.8 1.3 1.8 1.4 1.8 1.4 1.9 1.5 1.8 1.5 1.8 1.3 1.8 1.2 1.8 .9 1.8 .6 1.8 .6 1.8 .6 1.8 .6 1.8 .5 1.8 .5 1.8 .4 1.8 .4 1.8 .3 1.8 .2 1.8 .2 1.8 .2 1.8-0 1.9-.1 1.8-.2 1.8-.3 1.8-.4 1.8-.5 1.8-.6 1.8-.7 1.8-.7 1.8-.7 1.8-.9 1.8-1.2 1.8-1.5 1.8-1.7 1.8-1.8 1.8-2 1.8-2.4 1.8-2.9 1.8-3.1 1.9-3 1.8-3.1 1.8-3.1 1.8-3 1.8-2.9 1.8-2.9 1.8-2.7 1.8-2.6 1.8-2.2 1.8-2.1 1.8-1.9 1.8-1.6 1.8-1.3 1.8-1.2 1.8-1 1.8-.6 1.8 0 1.8 .5 1.9 .7 1.8 1 1.8 1.6 1.8 2.4 1.8 2.7 1.8 2.5 1.8 2.6 1.8 2.8 1.8 2.8" stroke="#A2142F"/><path d="M237.5 338.2l1.8 1.6 1.8 1.6 1.8 1.5 1.8 1.5 1.8 1.5 1.8 1.5 1.8 1.4 1.8 1.4 1.8 1.5 1.9 1.5 1.8 1.5 1.8 1.4 1.8 1.2 1.8 .9 1.8 .7 1.8 .6 1.8 .6 1.8 .6 1.8 .5 1.8 .5 1.8 .4 1.8 .4 1.8 .4 1.8 .2 1.8 .2 1.8 .1 1.8 .1 1.9-.1 1.8-.2 1.8-.3 1.8-.5 1.8-.5 1.8-.6 1.8-.7 1.8-.7 1.8-.7 1.8-1 1.8-1.2 1.8-1.5 1.8-1.8 1.8-1.9 1.8-2 1.8-2.5 1.8-3 1.8-3.2 1.9-3.1 1.8-3.1 1.8-3.2 1.8-3.2 1.8-2.9 1.8-3 1.8-2.8 1.8-2.7 1.8-2.3 1.8-2.1 1.8-2 1.8-1.6 1.8-1.4 1.8-1.2 1.8-1 1.8-.6 1.8 0 1.8 .5 1.9 .8 1.8 .9 1.8 1.7 1.8 2.5 1.8 2.7 1.8 2.7 1.8 2.6 1.8 2.9 1.8 2.9" stroke="#0072BD"/><path d="M237.5 339.0l1.8 1.5 1.8 1.5 1.8 1.4 1.8 1.4 1.8 1.4 1.8 1.4 1.8 1.3 1.8 1.3 1.8 1.4 1.9 1.4 1.8 1.4 1.8 1.3 1.8 1.1 1.8 .9 1.8 .6 1.8 .6 1.8 .5 1.8 .6 1.8 .4 1.8 .5 1.8 .4 1.8 .4 1.8 .3 1.8 .2 1.8 .2 1.8 .1 1.8 .1 1.9-.1 1.8-.2 1.8-.3 1.8-.4 1.8-.5 1.8-.6 1.8-.6 1.8-.7 1.8-.7 1.8-.8 1.8-1.2 1.8-1.4 1.8-1.6 1.8-1.8 1.8-1.9 1.8-2.3 1.8-2.8 1.8-3 1.9-2.9 1.8-2.9 1.8-3 1.8-2.9 1.8-2.8 1.8-2.7 1.8-2.7 1.8-2.4 1.8-2.2 1.8-2 1.8-1.8 1.8-1.5 1.8-1.3 1.8-1.1 1.8-1 1.8-.6 1.8 .1 1.8 .4 1.9 .8 1.8 .8 1.8 1.6 1.8 2.3 1.8 2.6 1.8 2.4 1.8 2.5 1.8 2.7 1.8 2.7" stroke="#D95319"/><path d="M237.5 340.9l1.8 1.2 1.8 1.2 1.8 1.2 1.8 1.2 1.8 1.2 1.8 1.1 1.8 1.1 1.8 1.1 1.8 1.1 1.9 1.2 1.8 1.1 1.8 1.1 1.8 .9 1.8 .8 1.8 .5 1.8 .4 1.8 .5 1.8 .4 1.8 .5 1.8 .3 1.8 .4 1.8 .3 1.8 .2 1.8 .2 1.8 .2 1.8 .1 1.8 0 1.9-0 1.8-.2 1.8-.3 1.8-.3 1.8-.4 1.8-.5 1.8-.5 1.8-.5 1.8-.6 1.8-.7 1.8-1 1.8-1.2 1.8-1.3 1.8-1.5 1.8-1.6 1.8-1.9 1.8-2.3 1.8-2.5 1.9-2.4 1.8-2.4 1.8-2.4 1.8-2.5 1.8-2.3 1.8-2.2 1.8-2.2 1.8-2.1 1.8-1.8 1.8-1.6 1.8-1.5 1.8-1.3 1.8-1 1.8-1 1.8-.8 1.8-.5 1.8 .1 1.8 .4 1.9 .5 1.8 .8 1.8 1.3 1.8 1.9 1.8 2.1 1.8 2.1 1.8 2 1.8 2.2 1.8 2.3" stroke="#EDB120"/><path d="M237.5 343.7l1.8 .8 1.8 .9 1.8 .8 1.8 .8 1.8 .8 1.8 .8 1.8 .8 1.8 .7 1.8 .8 1.9 .8 1.8 .8 1.8 .8 1.8 .6 1.8 .5 1.8 .4 1.8 .3 1.8 .3 1.8 .3 1.8 .3 1.8 .3 1.8 .2 1.8 .2 1.8 .2 1.8 .1 1.8 .2 1.8 0 1.8 0 1.9 0 1.8-.1 1.8-.2 1.8-.2 1.8-.3 1.8-.3 1.8-.4 1.8-.4 1.8-.4 1.8-.5 1.8-.6 1.8-.9 1.8-.9 1.8-1 1.8-1.1 1.8-1.4 1.8-1.6 1.8-1.7 1.9-1.6 1.8-1.7 1.8-1.7 1.8-1.7 1.8-1.6 1.8-1.6 1.8-1.5 1.8-1.4 1.8-1.3 1.8-1.1 1.8-1.1 1.8-.9 1.8-.7 1.8-.7 1.8-.5 1.8-.3 1.8-0 1.8 .2 1.9 .5 1.8 .5 1.8 .9 1.8 1.3 1.8 1.5 1.8 1.4 1.8 1.4 1.8 1.6 1.8 1.5" stroke="#7E2F8E"/><path d="M237.5 347.1l1.8 .4 1.8 .4 1.8 .3 1.8 .4 1.8 .4 1.8 .3 1.8 .4 1.8 .4 1.8 .3 1.9 .4 1.8 .4 1.8 .3 1.8 .3 1.8 .3 1.8 .1 1.8 .2 1.8 .1 1.8 .2 1.8 .1 1.8 .1 1.8 .1 1.8 .1 1.8 .1 1.8 .1 1.8 0 1.8 .1 1.8-0 1.9-.1 1.8-0 1.8-.1 1.8-.1 1.8-.1 1.8-.2 1.8-.1 1.8-.2 1.8-.2 1.8-.2 1.8-.4 1.8-.3 1.8-.5 1.8-.4 1.8-.6 1.8-.6 1.8-.7 1.8-.8 1.9-.8 1.8-.8 1.8-.8 1.8-.7 1.8-.8 1.8-.7 1.8-.7 1.8-.7 1.8-.6 1.8-.5 1.8-.5 1.8-.4 1.8-.3 1.8-.3 1.8-.3 1.8-.1 1.8-0 1.8 .1 1.9 .2 1.8 .2 1.8 .4 1.8 .6 1.8 .7 1.8 .7 1.8 .7 1.8 .7 1.8 .7" stroke="#77AC30"/><path d="M237.5 350.7l1.8-.1 1.8-.1 1.8-.1 1.8-.1 1.8-0 1.8-.1 1.8-.1 1.8-.1 1.8-.1 1.9-.1 1.8-.1 1.8-.1 1.8-.1 1.8-0 1.8-.1 1.8 0 1.8-0 1.8-.1 1.8-0 1.8-0 1.8-.1 1.8 0 1.8-0 1.8-0 1.8-0 1.8-0 1.8-0 1.9-0 1.8-0 1.8-0 1.8 0 1.8 .1 1.8-0 1.8 0 1.8 .1 1.8 0 1.8 .1 1.8 .1 1.8 .1 1.8 .1 1.8 .1 1.8 .1 1.8 .2 1.8 .2 1.8 .2 1.9 .2 1.8 .2 1.8 .2 1.8 .1 1.8 .2 1.8 .2 1.8 .2 1.8 .2 1.8 .1 1.8 .1 1.8 .2 1.8 .1 1.8 .1 1.8 0 1.8 .1 1.8 0 1.8 0 1.8 0 1.9-0 1.8-.1 1.8-.1 1.8-.2 1.8-.1 1.8-.2 1.8-.2 1.8-.1 1.8-.2" stroke="#4DBEEE"/><path d="M237.5 354.3l1.8-.5 1.8-.6 1.8-.6 1.8-.5 1.8-.6 1.8-.5 1.8-.6 1.8-.5 1.8-.5 1.9-.6 1.8-.5 1.8-.5 1.8-.5 1.8-.3 1.8-.3 1.8-.2 1.8-.2 1.8-.2 1.8-.2 1.8-.2 1.8-.2 1.8-.1 1.8-.1 1.8-.1 1.8-.1 1.8-.1 1.8 0 1.9 .1 1.8 0 1.8 .1 1.8 .2 1.8 .2 1.8 .2 1.8 .3 1.8 .2 1.8 .3 1.8 .4 1.8 .4 1.8 .6 1.8 .6 1.8 .7 1.8 .8 1.8 .9 1.8 1.1 1.8 1.2 1.9 1.1 1.8 1.2 1.8 1.2 1.8 1.1 1.8 1.1 1.8 1.1 1.8 1 1.8 1 1.8 .9 1.8 .8 1.8 .7 1.8 .6 1.8 .5 1.8 .4 1.8 .4 1.8 .3 1.8-.1 1.8-.1 1.9-.3 1.8-.4 1.8-.6 1.8-.9 1.8-1 1.8-1 1.8-1 1.8-1 1.8-1.1" stroke="#A2142F"/><path d="M237.5 357.5l1.8-1 1.8-1 1.8-1 1.8-.9 1.8-1 1.8-.9 1.8-.9 1.8-.9 1.8-1 1.9-.9 1.8-1 1.8-.9 1.8-.8 1.8-.6 1.8-.4 1.8-.4 1.8-.4 1.8-.3 1.8-.4 1.8-.3 1.8-.3 1.8-.2 1.8-.2 1.8-.2 1.8-.1 1.8-.1 1.8-0 1.9 0 1.8 .2 1.8 .2 1.8 .3 1.8 .3 1.8 .4 1.8 .4 1.8 .5 1.8 .4 1.8 .6 1.8 .8 1.8 1 1.8 1.1 1.8 1.2 1.8 1.3 1.8 1.6 1.8 1.9 1.8 2.1 1.9 2 1.8 2 1.8 2 1.8 2 1.8 1.9 1.8 1.9 1.8 1.8 1.8 1.7 1.8 1.5 1.8 1.3 1.8 1.3 1.8 1 1.8 .9 1.8 .8 1.8 .7 1.8 .3 1.8 0 1.8-.3 1.9-.5 1.8-.6 1.8-1.1 1.8-1.6 1.8-1.7 1.8-1.7 1.8-1.7 1.8-1.8 1.8-1.9" stroke="#0072BD"/><path d="M237.5 360.0l1.8-1.4 1.8-1.3 1.8-1.3 1.8-1.3 1.8-1.3 1.8-1.2 1.8-1.2 1.8-1.2 1.8-1.2 1.9-1.3 1.8-1.3 1.8-1.1 1.8-1.1 1.8-.8 1.8-.5 1.8-.6 1.8-.5 1.8-.4 1.8-.5 1.8-.4 1.8-.4 1.8-.3 1.8-.3 1.8-.2 1.8-.2 1.8-.1 1.8-0 1.9 0 1.8 .2 1.8 .3 1.8 .4 1.8 .4 1.8 .5 1.8 .6 1.8 .6 1.8 .6 1.8 .8 1.8 1.1 1.8 1.3 1.8 1.4 1.8 1.6 1.8 1.8 1.8 2.1 1.8 2.5 1.8 2.7 1.9 2.6 1.8 2.7 1.8 2.7 1.8 2.7 1.8 2.5 1.8 2.5 1.8 2.4 1.8 2.2 1.8 2 1.8 1.8 1.8 1.6 1.8 1.4 1.8 1.2 1.8 1 1.8 .9 1.8 .5 1.8-.1 1.8-.4 1.9-.6 1.8-.8 1.8-1.4 1.8-2.1 1.8-2.4 1.8-2.2 1.8-2.3 1.8-2.4 1.8-2.4" stroke="#D95319"/><path d="M237.5 361.4l1.8-1.5 1.8-1.5 1.8-1.5 1.8-1.5 1.8-1.4 1.8-1.5 1.8-1.3 1.8-1.4 1.8-1.4 1.9-1.5 1.8-1.5 1.8-1.3 1.8-1.2 1.8-.9 1.8-.6 1.8-.6 1.8-.6 1.8-.6 1.8-.5 1.8-.5 1.8-.4 1.8-.4 1.8-.3 1.8-.2 1.8-.2 1.8-.2 1.8 0 1.9 .1 1.8 .2 1.8 .3 1.8 .4 1.8 .5 1.8 .6 1.8 .7 1.8 .7 1.8 .7 1.8 .9 1.8 1.2 1.8 1.5 1.8 1.7 1.8 1.8 1.8 2 1.8 2.4 1.8 2.9 1.8 3.1 1.9 3 1.8 3.1 1.8 3.1 1.8 3 1.8 2.9 1.8 2.9 1.8 2.7 1.8 2.6 1.8 2.2 1.8 2.1 1.8 1.9 1.8 1.6 1.8 1.3 1.8 1.2 1.8 1 1.8 .6 1.8-0 1.8-.5 1.9-.7 1.8-1 1.8-1.6 1.8-2.4 1.8-2.7 1.8-2.5 1.8-2.6 1.8-2.8 1.8-2.8" stroke="#EDB120"/><path d="M237.5 361.8l1.8-1.6 1.8-1.6 1.8-1.5 1.8-1.5 1.8-1.5 1.8-1.5 1.8-1.4 1.8-1.4 1.8-1.5 1.9-1.5 1.8-1.5 1.8-1.4 1.8-1.2 1.8-.9 1.8-.7 1.8-.6 1.8-.6 1.8-.6 1.8-.5 1.8-.5 1.8-.4 1.8-.4 1.8-.4 1.8-.2 1.8-.2 1.8-.1 1.8-.1 1.9 .1 1.8 .2 1.8 .3 1.8 .5 1.8 .5 1.8 .6 1.8 .7 1.8 .7 1.8 .7 1.8 1 1.8 1.2 1.8 1.5 1.8 1.8 1.8 1.9 1.8 2 1.8 2.5 1.8 3 1.8 3.2 1.9 3.1 1.8 3.1 1.8 3.2 1.8 3.2 1.8 2.9 1.8 3 1.8 2.8 1.8 2.7 1.8 2.3 1.8 2.1 1.8 2 1.8 1.6 1.8 1.4 1.8 1.2 1.8 1 1.8 .6 1.8-0 1.8-.5 1.9-.8 1.8-.9 1.8-1.7 1.8-2.5 1.8-2.7 1.8-2.7 1.8-2.6 1.8-2.9 1.8-2.9" stroke="#7E2F8E"/><path d="M237.5 361.0l1.8-1.5 1.8-1.5 1.8-1.4 1.8-1.4 1.8-1.4 1.8-1.4 1.8-1.3 1.8-1.3 1.8-1.4 1.9-1.4 1.8-1.4 1.8-1.3 1.8-1.1 1.8-.9 1.8-.6 1.8-.6 1.8-.5 1.8-.6 1.8-.4 1.8-.5 1.8-.4 1.8-.4 1.8-.3 1.8-.2 1.8-.2 1.8-.1 1.8-.1 1.9 .1 1.8 .2 1.8 .3 1.8 .4 1.8 .5 1.8 .6 1.8 .6 1.8 .7 1.8 .7 1.8 .8 1.8 1.2 1.8 1.4 1.8 1.6 1.8 1.8 1.8 1.9 1.8 2.3 1.8 2.8 1.8 3 1.9 2.9 1.8 2.9 1.8 3 1.8 2.9 1.8 2.8 1.8 2.7 1.8 2.7 1.8 2.4 1.8 2.2 1.8 2 1.8 1.8 1.8 1.5 1.8 1.3 1.8 1.1 1.8 1 1.8 .6 1.8-.1 1.8-.4 1.9-.8 1.8-.8 1.8-1.6 1.8-2.3 1.8-2.6 1.8-2.4 1.8-2.5 1.8-2.7 1.8-2.7" stroke="#77AC30"/><path d="M237.5 359.1l1.8-1.2 1.8-1.2 1.8-1.2 1.8-1.2 1.8-1.2 1.8-1.1 1.8-1.1 1.8-1.1 1.8-1.1 1.9-1.2 1.8-1.1 1.8-1.1 1.8-.9 1.8-.8 1.8-.5 1.8-.4 1.8-.5 1.8-.4 1.8-.5 1.8-.3 1.8-.4 1.8-.3 1.8-.2 1.8-.2 1.8-.2 1.8-.1 1.8-0 1.9 0 1.8 .2 1.8 .3 1.8 .3 1.8 .4 1.8 .5 1.8 .5 1.8 .5 1.8 .6 1.8 .7 1.8 1 1.8 1.2 1.8 1.3 1.8 1.5 1.8 1.6 1.8 1.9 1.8 2.3 1.8 2.5 1.9 2.4 1.8 2.4 1.8 2.4 1.8 2.5 1.8 2.3 1.8 2.2 1.8 2.2 1.8 2.1 1.8 1.8 1.8 1.6 1.8 1.5 1.8 1.3 1.8 1 1.8 1 1.8 .8 1.8 .5 1.8-.1 1.8-.4 1.9-.5 1.8-.8 1.8-1.3 1.8-1.9 1.8-2.1 1.8-2.1 1.8-2 1.8-2.2 1.8-2.3" stroke="#4DBEEE"/></g><clipPath id="cC2"><rect x="237.5" y="295.5" width="130.0" height="109.0"/></clipPath><rect x="237.5" y="297.5" width="130.0" height="105.0" fill="none" stroke="#a6a6a6" stroke-width="1.4"/><path d="M237.5 297.5h1.3M367.5 297.5h-1.3M237.5 323.75h1.3M367.5 323.75h-1.3M237.5 350h1.3M367.5 350h-1.3M237.5 376.25h1.3M367.5 376.25h-1.3M237.5 402.5h1.3M367.5 402.5h-1.3M237.5 402.5v-1.3M237.5 297.5v1.3M302.5 402.5v-1.3M302.5 297.5v1.3M367.5 402.5v-1.3M367.5 297.5v1.3" stroke="#666" stroke-width="1" fill="none"/><text x="234.5" y="301.4" text-anchor="end" class="t">0.04</text><text x="234.5" y="327.65" text-anchor="end" class="t">0.02</text><text x="234.5" y="353.9" text-anchor="end" class="t">0</text><text x="234.5" y="380.15" text-anchor="end" class="t">-0.02</text><text x="234.5" y="406.4" text-anchor="end" class="t">-0.04</text><text x="237.5" y="415" text-anchor="middle" class="t">0</text><text x="302.5" y="415" text-anchor="middle" class="t">0.5</text><text x="367.5" y="415" text-anchor="middle" class="t">1</text><text x="306.7" y="428.7" text-anchor="middle" class="l xl">Standing Wave (BL)</text><text transform="translate(210.19 350) rotate(-90)" text-anchor="middle" class="l yl">Displacement (BL)</text><path d="M475.5 297.5V402.5M409.5 323.75H541.5M409.5 350H541.5M409.5 376.25H541.5" stroke="#ebebeb" stroke-width="0.8" fill="none"/><g fill="none" stroke-width="1.0" stroke-opacity="0.62" clip-path="url(#cC3)"><path d="M409.5 341.1l1.8 .1 1.9 .1 1.8 .3 1.8 .2 1.9 .4 1.8 .4 1.8 .4 1.9 .5 1.8 .5 1.8 .6 1.9 .6 1.8 .6 1.8 .7 1.9 .6 1.8 .7 1.8 .7 1.9 .8 1.8 .7 1.8 .7 1.9 .8 1.8 .7 1.8 .7 1.9 .6 1.8 .7 1.8 .5 1.9 .5 1.8 .4 1.8 .4 1.9 .5 1.8 .7 1.8 .7 1.9 .8 1.8 .7 1.8 .7 1.9 .7 1.8 .7 1.8 .6 1.9 .6 1.8 .6 1.8 .5 1.9 .3 1.8 .1 1.8-.1 1.9-.3 1.8-.6 1.8-.7 1.9-1 1.8-1.2 1.8-1.3 1.9-1.6 1.8-1.7 1.8-1.8 1.9-1.9 1.8-2 1.8-2.1 1.9-2.1 1.8-2.1 1.8-2.2 1.9-2.2 1.8-2.2 1.8-2.2 1.9-2.2 1.8-2.1 1.8-2 1.9-1.9 1.8-1.9 1.8-1.9 1.9-1.9 1.8-2.1 1.8-2 1.9-2 1.8-1.9" stroke="#0072BD"/><path d="M409.5 341.5l1.8-.1 1.9-.1 1.8-0 1.8 0 1.9 .1 1.8 .2 1.8 .2 1.9 .3 1.8 .4 1.8 .3 1.9 .5 1.8 .5 1.8 .5 1.9 .5 1.8 .6 1.8 .7 1.9 .6 1.8 .7 1.8 .7 1.9 .7 1.8 .8 1.8 .7 1.9 .7 1.8 .7 1.8 .7 1.9 .6 1.8 .6 1.8 .6 1.9 .6 1.8 .8 1.8 .8 1.9 .9 1.8 .9 1.8 .9 1.9 .9 1.8 .9 1.8 1 1.9 .9 1.8 1 1.8 .9 1.9 .8 1.8 .5 1.8 .4 1.9 .2 1.8 .1 1.8-.3 1.9-.4 1.8-.7 1.8-.9 1.9-1 1.8-1.3 1.8-1.5 1.9-1.6 1.8-1.8 1.8-1.9 1.9-1.9 1.8-2.1 1.8-2.2 1.9-2.2 1.8-2.3 1.8-2.3 1.9-2.4 1.8-2.3 1.8-2.4 1.9-2.3 1.8-2.4 1.8-2.4 1.9-2.5 1.8-2.6 1.8-2.7 1.9-2.7 1.8-2.8" stroke="#D95319"/><path d="M409.5 342.8l1.8-.4 1.9-.3 1.8-.3 1.8-.1 1.9-.2 1.8-0 1.8-0 1.9 0 1.8 .1 1.8 .2 1.9 .2 1.8 .3 1.8 .4 1.9 .3 1.8 .5 1.8 .5 1.9 .5 1.8 .6 1.8 .6 1.9 .6 1.8 .7 1.8 .7 1.9 .7 1.8 .7 1.8 .8 1.9 .7 1.8 .6 1.8 .7 1.9 .7 1.8 .8 1.8 .8 1.9 1 1.8 .9 1.8 1 1.9 1.1 1.8 1.1 1.8 1.1 1.9 1.2 1.8 1.3 1.8 1.2 1.9 1.2 1.8 1 1.8 .9 1.9 .7 1.8 .6 1.8 .3 1.9 .1 1.8-.1 1.8-.3 1.9-.5 1.8-.8 1.8-.9 1.9-1.2 1.8-1.3 1.8-1.6 1.9-1.6 1.8-1.8 1.8-1.9 1.9-2.1 1.8-2.1 1.8-2.2 1.9-2.4 1.8-2.4 1.8-2.4 1.9-2.6 1.8-2.5 1.8-2.7 1.9-2.8 1.8-2.9 1.8-3.2 1.9-3.2 1.8-3.3" stroke="#EDB120"/><path d="M409.5 344.8l1.8-.6 1.9-.5 1.8-.5 1.8-.4 1.9-.3 1.8-.3 1.8-.3 1.9-.1 1.8-.2 1.8-0 1.9-0 1.8 0 1.8 .2 1.9 .1 1.8 .3 1.8 .3 1.9 .3 1.8 .4 1.8 .5 1.9 .5 1.8 .5 1.8 .6 1.9 .6 1.8 .7 1.8 .7 1.9 .7 1.8 .8 1.8 .7 1.9 .6 1.8 .8 1.8 .8 1.9 .9 1.8 .9 1.8 1 1.9 1.1 1.8 1.2 1.8 1.2 1.9 1.3 1.8 1.4 1.8 1.5 1.9 1.4 1.8 1.4 1.8 1.3 1.9 1.1 1.8 1.1 1.8 .8 1.9 .7 1.8 .5 1.8 .3 1.9 .1 1.8-.2 1.8-.3 1.9-.7 1.8-.8 1.8-1 1.9-1.2 1.8-1.3 1.8-1.5 1.9-1.6 1.8-1.8 1.8-1.9 1.9-2.1 1.8-2.2 1.8-2.4 1.9-2.4 1.8-2.5 1.8-2.7 1.9-2.8 1.8-3 1.8-3.2 1.9-3.5 1.8-3.6" stroke="#7E2F8E"/><path d="M409.5 347.2l1.8-.7 1.9-.6 1.8-.7 1.8-.5 1.9-.6 1.8-.5 1.8-.4 1.9-.4 1.8-.3 1.8-.3 1.9-.2 1.8-.2 1.8-.1 1.9-.1 1.8 0 1.8 .1 1.9 .1 1.8 .2 1.8 .3 1.9 .3 1.8 .4 1.8 .4 1.9 .5 1.8 .5 1.8 .7 1.9 .6 1.8 .7 1.8 .6 1.9 .7 1.8 .6 1.8 .6 1.9 .8 1.8 .8 1.8 .9 1.9 1 1.8 1.2 1.8 1.2 1.9 1.3 1.8 1.4 1.8 1.6 1.9 1.5 1.8 1.6 1.8 1.5 1.9 1.5 1.8 1.5 1.8 1.3 1.9 1.2 1.8 1 1.8 .8 1.9 .7 1.8 .5 1.8 .2 1.9 0 1.8-.2 1.8-.3 1.9-.6 1.8-.8 1.8-.9 1.9-1 1.8-1.3 1.8-1.4 1.9-1.6 1.8-1.9 1.8-1.9 1.9-2.2 1.8-2.3 1.8-2.4 1.9-2.5 1.8-2.8 1.8-3 1.9-3.2 1.8-3.5" stroke="#77AC30"/><path d="M409.5 350.0l1.8-.8 1.9-.7 1.8-.8 1.8-.7 1.9-.6 1.8-.7 1.8-.6 1.9-.6 1.8-.5 1.8-.5 1.9-.4 1.8-.4 1.8-.3 1.9-.3 1.8-.2 1.8-.2 1.9-.1 1.8 0 1.8 0 1.9 .1 1.8 .2 1.8 .2 1.9 .3 1.8 .4 1.8 .5 1.9 .5 1.8 .6 1.8 .5 1.9 .5 1.8 .4 1.8 .5 1.9 .5 1.8 .7 1.8 .7 1.9 .9 1.8 .9 1.8 1.1 1.9 1.1 1.8 1.4 1.8 1.4 1.9 1.6 1.8 1.6 1.8 1.7 1.9 1.6 1.8 1.7 1.8 1.7 1.9 1.5 1.8 1.5 1.8 1.3 1.9 1.2 1.8 1 1.8 .9 1.9 .7 1.8 .4 1.8 .2 1.9 .1 1.8-0 1.8-.3 1.9-.4 1.8-.6 1.8-.8 1.9-1 1.8-1.2 1.8-1.5 1.9-1.6 1.8-1.8 1.8-1.9 1.9-2 1.8-2.3 1.8-2.5 1.9-2.7 1.8-3.1" stroke="#4DBEEE"/><path d="M409.5 352.8l1.8-.8 1.9-.8 1.8-.7 1.8-.8 1.9-.8 1.8-.7 1.8-.7 1.9-.7 1.8-.6 1.8-.7 1.9-.6 1.8-.5 1.8-.5 1.9-.5 1.8-.4 1.8-.4 1.9-.3 1.8-.3 1.8-.2 1.9-.1 1.8-.1 1.8 0 1.9 .1 1.8 .1 1.8 .3 1.9 .4 1.8 .4 1.8 .4 1.9 .3 1.8 .2 1.8 .2 1.9 .3 1.8 .4 1.8 .5 1.9 .6 1.8 .6 1.8 .9 1.9 .9 1.8 1.1 1.8 1.2 1.9 1.4 1.8 1.5 1.8 1.6 1.9 1.7 1.8 1.8 1.8 1.8 1.9 1.8 1.8 1.7 1.8 1.7 1.9 1.6 1.8 1.5 1.8 1.4 1.9 1.2 1.8 1 1.8 .9 1.9 .8 1.8 .6 1.8 .4 1.9 .3 1.8 .1 1.8-.1 1.9-.3 1.8-.5 1.8-.7 1.9-1 1.8-1.1 1.8-1.2 1.9-1.4 1.8-1.5 1.8-1.7 1.9-2 1.8-2.4" stroke="#A2142F"/><path d="M409.5 355.2l1.8-.6 1.9-.7 1.8-.8 1.8-.7 1.9-.8 1.8-.7 1.8-.8 1.9-.7 1.8-.7 1.8-.7 1.9-.7 1.8-.7 1.8-.7 1.9-.6 1.8-.6 1.8-.5 1.9-.5 1.8-.5 1.8-.4 1.9-.3 1.8-.3 1.8-.3 1.9-.1 1.8-.1 1.8 .1 1.9 .2 1.8 .2 1.8 .2 1.9 .1 1.8-.1 1.8-.1 1.9 0 1.8 .1 1.8 .2 1.9 .3 1.8 .3 1.8 .5 1.9 .6 1.8 .8 1.8 .8 1.9 1.1 1.8 1.3 1.8 1.4 1.9 1.6 1.8 1.6 1.8 1.8 1.9 1.8 1.8 1.9 1.8 1.9 1.9 1.8 1.8 1.9 1.8 1.7 1.9 1.7 1.8 1.5 1.8 1.4 1.9 1.4 1.8 1.2 1.8 1.1 1.9 .9 1.8 .8 1.8 .7 1.9 .4 1.8 .3 1.8-0 1.9-.2 1.8-.3 1.8-.5 1.9-.5 1.8-.6 1.8-.8 1.9-1.1 1.8-1.3" stroke="#0072BD"/><path d="M409.5 357.2l1.8-.5 1.9-.6 1.8-.6 1.8-.6 1.9-.7 1.8-.7 1.8-.7 1.9-.7 1.8-.8 1.8-.7 1.9-.7 1.8-.8 1.8-.7 1.9-.7 1.8-.7 1.8-.7 1.9-.6 1.8-.6 1.8-.6 1.9-.5 1.8-.5 1.8-.5 1.9-.3 1.8-.3 1.8-.2 1.9-0 1.8-0 1.8-.1 1.9-.1 1.8-.3 1.8-.3 1.9-.3 1.8-.2 1.8-.1 1.9-.1 1.8 0 1.8 .1 1.9 .2 1.8 .3 1.8 .5 1.9 .6 1.8 .9 1.8 1.1 1.9 1.3 1.8 1.4 1.8 1.5 1.9 1.7 1.8 1.9 1.8 1.8 1.9 2 1.8 2 1.8 1.9 1.9 2 1.8 1.9 1.8 1.8 1.9 1.7 1.8 1.7 1.8 1.7 1.9 1.5 1.8 1.4 1.8 1.3 1.9 1.2 1.8 1 1.8 .7 1.9 .6 1.8 .5 1.8 .4 1.9 .4 1.8 .3 1.8 .2 1.9 0 1.8-.3" stroke="#D95319"/><path d="M409.5 358.5l1.8-.3 1.9-.4 1.8-.5 1.8-.5 1.9-.5 1.8-.6 1.8-.6 1.9-.6 1.8-.7 1.8-.6 1.9-.7 1.8-.8 1.8-.7 1.9-.7 1.8-.7 1.8-.8 1.9-.7 1.8-.7 1.8-.7 1.9-.6 1.8-.7 1.8-.6 1.9-.5 1.8-.5 1.8-.4 1.9-.2 1.8-.3 1.8-.2 1.9-.3 1.8-.5 1.8-.6 1.9-.6 1.8-.4 1.8-.5 1.9-.4 1.8-.3 1.8-.3 1.9-.2 1.8-.2 1.8 0 1.9 .2 1.8 .4 1.8 .7 1.9 .8 1.8 1 1.8 1.2 1.9 1.4 1.8 1.6 1.8 1.7 1.9 1.8 1.8 2 1.8 2 1.9 2 1.8 2 1.8 2.1 1.9 2 1.8 2 1.8 2 1.9 2 1.8 1.9 1.8 1.9 1.9 1.7 1.8 1.6 1.8 1.5 1.9 1.3 1.8 1.3 1.8 1.2 1.9 1.2 1.8 1.2 1.8 1.2 1.9 1 1.8 .9" stroke="#EDB120"/><path d="M409.5 358.9l1.8-.1 1.9-.1 1.8-.3 1.8-.2 1.9-.4 1.8-.4 1.8-.4 1.9-.5 1.8-.5 1.8-.6 1.9-.6 1.8-.6 1.8-.7 1.9-.6 1.8-.7 1.8-.7 1.9-.8 1.8-.7 1.8-.7 1.9-.8 1.8-.7 1.8-.7 1.9-.6 1.8-.7 1.8-.5 1.9-.5 1.8-.4 1.8-.4 1.9-.5 1.8-.7 1.8-.7 1.9-.8 1.8-.7 1.8-.7 1.9-.7 1.8-.7 1.8-.6 1.9-.6 1.8-.6 1.8-.5 1.9-.3 1.8-.1 1.8 .1 1.9 .3 1.8 .6 1.8 .7 1.9 1 1.8 1.2 1.8 1.3 1.9 1.6 1.8 1.7 1.8 1.8 1.9 1.9 1.8 2 1.8 2.1 1.9 2.1 1.8 2.1 1.8 2.2 1.9 2.2 1.8 2.2 1.8 2.2 1.9 2.2 1.8 2.1 1.8 2 1.9 1.9 1.8 1.9 1.8 1.9 1.9 1.9 1.8 2.1 1.8 2 1.9 2 1.8 1.9" stroke="#7E2F8E"/><path d="M409.5 358.5l1.8 .1 1.9 .1 1.8 0 1.8-0 1.9-.1 1.8-.2 1.8-.2 1.9-.3 1.8-.4 1.8-.3 1.9-.5 1.8-.5 1.8-.5 1.9-.5 1.8-.6 1.8-.7 1.9-.6 1.8-.7 1.8-.7 1.9-.7 1.8-.8 1.8-.7 1.9-.7 1.8-.7 1.8-.7 1.9-.6 1.8-.6 1.8-.6 1.9-.6 1.8-.8 1.8-.8 1.9-.9 1.8-.9 1.8-.9 1.9-.9 1.8-.9 1.8-1 1.9-.9 1.8-1 1.8-.9 1.9-.8 1.8-.5 1.8-.4 1.9-.2 1.8-.1 1.8 .3 1.9 .4 1.8 .7 1.8 .9 1.9 1 1.8 1.3 1.8 1.5 1.9 1.6 1.8 1.8 1.8 1.9 1.9 1.9 1.8 2.1 1.8 2.2 1.9 2.2 1.8 2.3 1.8 2.3 1.9 2.4 1.8 2.3 1.8 2.4 1.9 2.3 1.8 2.4 1.8 2.4 1.9 2.5 1.8 2.6 1.8 2.7 1.9 2.7 1.8 2.8" stroke="#77AC30"/><path d="M409.5 357.2l1.8 .4 1.9 .3 1.8 .3 1.8 .1 1.9 .2 1.8 0 1.8 0 1.9-0 1.8-.1 1.8-.2 1.9-.2 1.8-.3 1.8-.4 1.9-.3 1.8-.5 1.8-.5 1.9-.5 1.8-.6 1.8-.6 1.9-.6 1.8-.7 1.8-.7 1.9-.7 1.8-.7 1.8-.8 1.9-.7 1.8-.6 1.8-.7 1.9-.7 1.8-.8 1.8-.8 1.9-1 1.8-.9 1.8-1 1.9-1.1 1.8-1.1 1.8-1.1 1.9-1.2 1.8-1.3 1.8-1.2 1.9-1.2 1.8-1 1.8-.9 1.9-.7 1.8-.6 1.8-.3 1.9-.1 1.8 .1 1.8 .3 1.9 .5 1.8 .8 1.8 .9 1.9 1.2 1.8 1.3 1.8 1.6 1.9 1.6 1.8 1.8 1.8 1.9 1.9 2.1 1.8 2.1 1.8 2.2 1.9 2.4 1.8 2.4 1.8 2.4 1.9 2.6 1.8 2.5 1.8 2.7 1.9 2.8 1.8 2.9 1.8 3.2 1.9 3.2 1.8 3.3" stroke="#4DBEEE"/><path d="M409.5 355.2l1.8 .6 1.9 .5 1.8 .5 1.8 .4 1.9 .3 1.8 .3 1.8 .3 1.9 .1 1.8 .2 1.8 0 1.9 0 1.8-0 1.8-.2 1.9-.1 1.8-.3 1.8-.3 1.9-.3 1.8-.4 1.8-.5 1.9-.5 1.8-.5 1.8-.6 1.9-.6 1.8-.7 1.8-.7 1.9-.7 1.8-.8 1.8-.7 1.9-.6 1.8-.8 1.8-.8 1.9-.9 1.8-.9 1.8-1 1.9-1.1 1.8-1.2 1.8-1.2 1.9-1.3 1.8-1.4 1.8-1.5 1.9-1.4 1.8-1.4 1.8-1.3 1.9-1.1 1.8-1.1 1.8-.8 1.9-.7 1.8-.5 1.8-.3 1.9-.1 1.8 .2 1.8 .3 1.9 .7 1.8 .8 1.8 1 1.9 1.2 1.8 1.3 1.8 1.5 1.9 1.6 1.8 1.8 1.8 1.9 1.9 2.1 1.8 2.2 1.8 2.4 1.9 2.4 1.8 2.5 1.8 2.7 1.9 2.8 1.8 3 1.8 3.2 1.9 3.5 1.8 3.6" stroke="#A2142F"/><path d="M409.5 352.8l1.8 .7 1.9 .6 1.8 .7 1.8 .5 1.9 .6 1.8 .5 1.8 .4 1.9 .4 1.8 .3 1.8 .3 1.9 .2 1.8 .2 1.8 .1 1.9 .1 1.8-0 1.8-.1 1.9-.1 1.8-.2 1.8-.3 1.9-.3 1.8-.4 1.8-.4 1.9-.5 1.8-.5 1.8-.7 1.9-.6 1.8-.7 1.8-.6 1.9-.7 1.8-.6 1.8-.6 1.9-.8 1.8-.8 1.8-.9 1.9-1 1.8-1.2 1.8-1.2 1.9-1.3 1.8-1.4 1.8-1.6 1.9-1.5 1.8-1.6 1.8-1.5 1.9-1.5 1.8-1.5 1.8-1.3 1.9-1.2 1.8-1 1.8-.8 1.9-.7 1.8-.5 1.8-.2 1.9-0 1.8 .2 1.8 .3 1.9 .6 1.8 .8 1.8 .9 1.9 1 1.8 1.3 1.8 1.4 1.9 1.6 1.8 1.9 1.8 1.9 1.9 2.2 1.8 2.3 1.8 2.4 1.9 2.5 1.8 2.8 1.8 3 1.9 3.2 1.8 3.5" stroke="#0072BD"/><path d="M409.5 350.0l1.8 .8 1.9 .7 1.8 .8 1.8 .7 1.9 .6 1.8 .7 1.8 .6 1.9 .6 1.8 .5 1.8 .5 1.9 .4 1.8 .4 1.8 .3 1.9 .3 1.8 .2 1.8 .2 1.9 .1 1.8-0 1.8-0 1.9-.1 1.8-.2 1.8-.2 1.9-.3 1.8-.4 1.8-.5 1.9-.5 1.8-.6 1.8-.5 1.9-.5 1.8-.4 1.8-.5 1.9-.5 1.8-.7 1.8-.7 1.9-.9 1.8-.9 1.8-1.1 1.9-1.1 1.8-1.4 1.8-1.4 1.9-1.6 1.8-1.6 1.8-1.7 1.9-1.6 1.8-1.7 1.8-1.7 1.9-1.5 1.8-1.5 1.8-1.3 1.9-1.2 1.8-1 1.8-.9 1.9-.7 1.8-.4 1.8-.2 1.9-.1 1.8 0 1.8 .3 1.9 .4 1.8 .6 1.8 .8 1.9 1 1.8 1.2 1.8 1.5 1.9 1.6 1.8 1.8 1.8 1.9 1.9 2 1.8 2.3 1.8 2.5 1.9 2.7 1.8 3.1" stroke="#D95319"/><path d="M409.5 347.2l1.8 .8 1.9 .8 1.8 .7 1.8 .8 1.9 .8 1.8 .7 1.8 .7 1.9 .7 1.8 .6 1.8 .7 1.9 .6 1.8 .5 1.8 .5 1.9 .5 1.8 .4 1.8 .4 1.9 .3 1.8 .3 1.8 .2 1.9 .1 1.8 .1 1.8-0 1.9-.1 1.8-.1 1.8-.3 1.9-.4 1.8-.4 1.8-.4 1.9-.3 1.8-.2 1.8-.2 1.9-.3 1.8-.4 1.8-.5 1.9-.6 1.8-.6 1.8-.9 1.9-.9 1.8-1.1 1.8-1.2 1.9-1.4 1.8-1.5 1.8-1.6 1.9-1.7 1.8-1.8 1.8-1.8 1.9-1.8 1.8-1.7 1.8-1.7 1.9-1.6 1.8-1.5 1.8-1.4 1.9-1.2 1.8-1 1.8-.9 1.9-.8 1.8-.6 1.8-.4 1.9-.3 1.8-.1 1.8 .1 1.9 .3 1.8 .5 1.8 .7 1.9 1 1.8 1.1 1.8 1.2 1.9 1.4 1.8 1.5 1.8 1.7 1.9 2 1.8 2.4" stroke="#EDB120"/><path d="M409.5 344.8l1.8 .6 1.9 .7 1.8 .8 1.8 .7 1.9 .8 1.8 .7 1.8 .8 1.9 .7 1.8 .7 1.8 .7 1.9 .7 1.8 .7 1.8 .7 1.9 .6 1.8 .6 1.8 .5 1.9 .5 1.8 .5 1.8 .4 1.9 .3 1.8 .3 1.8 .3 1.9 .1 1.8 .1 1.8-.1 1.9-.2 1.8-.2 1.8-.2 1.9-.1 1.8 .1 1.8 .1 1.9-0 1.8-.1 1.8-.2 1.9-.3 1.8-.3 1.8-.5 1.9-.6 1.8-.8 1.8-.8 1.9-1.1 1.8-1.3 1.8-1.4 1.9-1.6 1.8-1.6 1.8-1.8 1.9-1.8 1.8-1.9 1.8-1.9 1.9-1.8 1.8-1.9 1.8-1.7 1.9-1.7 1.8-1.5 1.8-1.4 1.9-1.4 1.8-1.2 1.8-1.1 1.9-.9 1.8-.8 1.8-.7 1.9-.4 1.8-.3 1.8 0 1.9 .2 1.8 .3 1.8 .5 1.9 .5 1.8 .6 1.8 .8 1.9 1.1 1.8 1.3" stroke="#7E2F8E"/><path d="M409.5 342.8l1.8 .5 1.9 .6 1.8 .6 1.8 .6 1.9 .7 1.8 .7 1.8 .7 1.9 .7 1.8 .8 1.8 .7 1.9 .7 1.8 .8 1.8 .7 1.9 .7 1.8 .7 1.8 .7 1.9 .6 1.8 .6 1.8 .6 1.9 .5 1.8 .5 1.8 .5 1.9 .3 1.8 .3 1.8 .2 1.9 0 1.8 0 1.8 .1 1.9 .1 1.8 .3 1.8 .3 1.9 .3 1.8 .2 1.8 .1 1.9 .1 1.8-0 1.8-.1 1.9-.2 1.8-.3 1.8-.5 1.9-.6 1.8-.9 1.8-1.1 1.9-1.3 1.8-1.4 1.8-1.5 1.9-1.7 1.8-1.9 1.8-1.8 1.9-2 1.8-2 1.8-1.9 1.9-2 1.8-1.9 1.8-1.8 1.9-1.7 1.8-1.7 1.8-1.7 1.9-1.5 1.8-1.4 1.8-1.3 1.9-1.2 1.8-1 1.8-.7 1.9-.6 1.8-.5 1.8-.4 1.9-.4 1.8-.3 1.8-.2 1.9-0 1.8 .3" stroke="#77AC30"/><path d="M409.5 341.5l1.8 .3 1.9 .4 1.8 .5 1.8 .5 1.9 .5 1.8 .6 1.8 .6 1.9 .6 1.8 .7 1.8 .6 1.9 .7 1.8 .8 1.8 .7 1.9 .7 1.8 .7 1.8 .8 1.9 .7 1.8 .7 1.8 .7 1.9 .6 1.8 .7 1.8 .6 1.9 .5 1.8 .5 1.8 .4 1.9 .2 1.8 .3 1.8 .2 1.9 .3 1.8 .5 1.8 .6 1.9 .6 1.8 .4 1.8 .5 1.9 .4 1.8 .3 1.8 .3 1.9 .2 1.8 .2 1.8-0 1.9-.2 1.8-.4 1.8-.7 1.9-.8 1.8-1 1.8-1.2 1.9-1.4 1.8-1.6 1.8-1.7 1.9-1.8 1.8-2 1.8-2 1.9-2 1.8-2 1.8-2.1 1.9-2 1.8-2 1.8-2 1.9-2 1.8-1.9 1.8-1.9 1.9-1.7 1.8-1.6 1.8-1.5 1.9-1.3 1.8-1.3 1.8-1.2 1.9-1.2 1.8-1.2 1.8-1.2 1.9-1 1.8-.9" stroke="#4DBEEE"/></g><clipPath id="cC3"><rect x="409.5" y="295.5" width="132.0" height="109.0"/></clipPath><rect x="409.5" y="297.5" width="132.0" height="105.0" fill="none" stroke="#a6a6a6" stroke-width="1.4"/><path d="M409.5 297.5h1.3M541.5 297.5h-1.3M409.5 323.75h1.3M541.5 323.75h-1.3M409.5 350h1.3M541.5 350h-1.3M409.5 376.25h1.3M541.5 376.25h-1.3M409.5 402.5h1.3M541.5 402.5h-1.3M409.5 402.5v-1.3M409.5 297.5v1.3M475.5 402.5v-1.3M475.5 297.5v1.3M541.5 402.5v-1.3M541.5 297.5v1.3" stroke="#666" stroke-width="1" fill="none"/><text x="406.5" y="301.4" text-anchor="end" class="t">0.2</text><text x="406.5" y="327.65" text-anchor="end" class="t">0.1</text><text x="406.5" y="353.9" text-anchor="end" class="t">0</text><text x="406.5" y="380.15" text-anchor="end" class="t">-0.1</text><text x="406.5" y="406.4" text-anchor="end" class="t">-0.2</text><text x="409.5" y="415" text-anchor="middle" class="t">0</text><text x="475.5" y="415" text-anchor="middle" class="t">0.5</text><text x="541.5" y="415" text-anchor="middle" class="t">1</text><text x="476" y="428.7" text-anchor="middle" class="l xl">Traveling Wave (BL)</text><text transform="translate(387.19 350) rotate(-90)" text-anchor="middle" class="l yl">Displacement (BL)</text><path d="M125.35 441.5V546.5M59.2 467.75H191.5M59.2 494H191.5M59.2 520.25H191.5" stroke="#ebebeb" stroke-width="0.8" fill="none"/><g fill="none" stroke-width="1.0" stroke-opacity="0.62" clip-path="url(#cD1)"><path d="M59.2 484.0l1.8 .5 1.9 .6 1.8 .6 1.8 .6 1.9 .6 1.8 .6 1.9 .6 1.8 .6 1.8 .6 1.9 .6 1.8 .5 1.8 .6 1.9 .6 1.8 .5 1.9 .5 1.8 .4 1.8 .5 1.9 .5 1.8 .5 1.9 .5 1.8 .5 1.8 .5 1.9 .5 1.8 .5 1.8 .6 1.9 .5 1.8 .6 1.8 .7 1.9 .7 1.8 .7 1.9 .8 1.8 .8 1.8 .8 1.9 .8 1.8 .8 1.8 .8 1.9 .7 1.8 .7 1.9 .4 1.8 .3 1.8 .2 1.9 0 1.8-.1 1.8-.2 1.9-.4 1.8-.6 1.9-.8 1.8-1 1.8-1.3 1.9-1.4 1.8-1.7 1.8-1.9 1.9-2.1 1.8-2.4 1.9-2.6 1.8-2.8 1.8-2.9 1.9-3.2 1.8-3.2 1.8-3.3 1.9-3.4 1.8-3.4 1.9-3.4 1.8-3.2 1.8-3.2 1.9-3 1.8-2.8 1.8-2.6 1.9-2.4 1.8-2.1 1.9-1.7 1.8-1.5" stroke="#0072BD"/><path d="M59.2 484.5l1.8 .2 1.9 .3 1.8 .4 1.8 .4 1.9 .4 1.8 .4 1.9 .5 1.8 .4 1.8 .5 1.9 .5 1.8 .5 1.8 .6 1.9 .5 1.8 .5 1.9 .4 1.8 .4 1.8 .4 1.9 .5 1.8 .4 1.9 .5 1.8 .5 1.8 .5 1.9 .5 1.8 .6 1.8 .5 1.9 .6 1.8 .6 1.8 .7 1.9 .8 1.8 .8 1.9 .8 1.8 .9 1.8 1 1.9 1 1.8 1 1.8 1 1.9 1.1 1.8 .9 1.9 .9 1.8 .7 1.8 .6 1.9 .5 1.8 .4 1.8 .3 1.9 .2 1.8 0 1.9-.2 1.8-.4 1.8-.6 1.9-.8 1.8-1.1 1.8-1.4 1.9-1.5 1.8-1.9 1.9-2.1 1.8-2.3 1.8-2.6 1.9-2.9 1.8-3 1.8-3.3 1.9-3.4 1.8-3.6 1.9-3.6 1.8-3.6 1.8-3.7 1.9-3.6 1.8-3.6 1.8-3.5 1.9-3.3 1.8-3.2 1.9-2.9 1.8-2.7" stroke="#D95319"/><path d="M59.2 485.9l1.8-0 1.9-0 1.8 0 1.8 .2 1.9 .2 1.8 .2 1.9 .3 1.8 .3 1.8 .3 1.9 .3 1.8 .4 1.8 .5 1.9 .4 1.8 .4 1.9 .3 1.8 .3 1.8 .4 1.9 .3 1.8 .4 1.9 .4 1.8 .5 1.8 .4 1.9 .5 1.8 .5 1.8 .5 1.9 .5 1.8 .6 1.8 .7 1.9 .7 1.8 .8 1.9 .9 1.8 .9 1.8 1 1.9 1.1 1.8 1.1 1.8 1.2 1.9 1.2 1.8 1.2 1.9 1.2 1.8 1.1 1.8 1 1.9 .9 1.8 .9 1.8 .8 1.9 .7 1.8 .6 1.9 .5 1.8 .2 1.8 .1 1.9-.2 1.8-.4 1.8-.6 1.9-.9 1.8-1.1 1.9-1.4 1.8-1.7 1.8-2 1.9-2.3 1.8-2.6 1.8-2.8 1.9-3.1 1.8-3.4 1.9-3.5 1.8-3.7 1.8-3.8 1.9-3.9 1.8-4 1.8-4 1.9-4 1.8-3.9 1.9-3.8 1.8-3.7" stroke="#EDB120"/><path d="M59.2 488.1l1.8-.3 1.9-.3 1.8-.2 1.8-.1 1.9-.1 1.8-0 1.9 0 1.8 .1 1.8 .2 1.9 .2 1.8 .2 1.8 .3 1.9 .3 1.8 .2 1.9 .3 1.8 .1 1.8 .3 1.9 .2 1.8 .3 1.9 .3 1.8 .3 1.8 .4 1.9 .3 1.8 .4 1.8 .5 1.9 .4 1.8 .6 1.8 .5 1.9 .6 1.8 .7 1.9 .8 1.8 .9 1.8 .9 1.9 1 1.8 1.2 1.8 1.2 1.9 1.3 1.8 1.4 1.9 1.3 1.8 1.3 1.8 1.3 1.9 1.3 1.8 1.3 1.8 1.2 1.9 1.2 1.8 1.1 1.9 1.1 1.8 .9 1.8 .7 1.9 .5 1.8 .4 1.8 .1 1.9-.1 1.8-.3 1.9-.5 1.8-.9 1.8-1.1 1.9-1.6 1.8-1.8 1.8-2.2 1.9-2.6 1.8-2.8 1.9-3.1 1.8-3.3 1.8-3.6 1.9-3.8 1.8-4 1.8-4.1 1.9-4.2 1.8-4.3 1.9-4.4 1.8-4.3" stroke="#7E2F8E"/><path d="M59.2 490.9l1.8-.6 1.9-.6 1.8-.4 1.8-.4 1.9-.3 1.8-.2 1.9-.2 1.8-.1 1.8-.1 1.9 0 1.8 .1 1.8 .1 1.9 .1 1.8 .1 1.9 .1 1.8 0 1.8 .1 1.9 .1 1.8 .1 1.9 .2 1.8 .2 1.8 .2 1.9 .3 1.8 .3 1.8 .3 1.9 .3 1.8 .4 1.8 .4 1.9 .4 1.8 .6 1.9 .6 1.8 .7 1.8 .8 1.9 .9 1.8 1 1.8 1.2 1.9 1.2 1.8 1.4 1.9 1.4 1.8 1.4 1.8 1.5 1.9 1.4 1.8 1.6 1.8 1.5 1.9 1.6 1.8 1.6 1.9 1.5 1.8 1.4 1.8 1.3 1.9 1.2 1.8 1.1 1.8 .9 1.9 .7 1.8 .5 1.9 .4 1.8 0 1.8-.2 1.9-.6 1.8-1 1.8-1.3 1.9-1.6 1.8-2.1 1.9-2.3 1.8-2.7 1.8-3.1 1.9-3.3 1.8-3.6 1.8-3.8 1.9-4.1 1.8-4.2 1.9-4.4 1.8-4.6" stroke="#77AC30"/><path d="M59.2 494.0l1.8-.8 1.9-.8 1.8-.6 1.8-.6 1.9-.5 1.8-.5 1.9-.4 1.8-.3 1.8-.2 1.9-.2 1.8-.2 1.8-.1 1.9 0 1.8-0 1.9-.1 1.8-.1 1.8-.1 1.9-.1 1.8 0 1.9 0 1.8 .1 1.8 .1 1.9 0 1.8 .2 1.8 .1 1.9 .2 1.8 .2 1.8 .2 1.9 .2 1.8 .4 1.9 .4 1.8 .5 1.8 .5 1.9 .7 1.8 .9 1.8 .9 1.9 1.1 1.8 1.2 1.9 1.3 1.8 1.4 1.8 1.5 1.9 1.5 1.8 1.7 1.8 1.7 1.9 1.8 1.8 1.8 1.9 1.9 1.8 1.8 1.8 1.8 1.9 1.7 1.8 1.7 1.8 1.5 1.9 1.5 1.8 1.3 1.9 1.2 1.8 1 1.8 .7 1.9 .4 1.8 0 1.8-.3 1.9-.6 1.8-1 1.9-1.4 1.8-1.8 1.8-2.2 1.9-2.5 1.8-2.9 1.8-3.2 1.9-3.4 1.8-3.8 1.9-4.1 1.8-4.3" stroke="#4DBEEE"/><path d="M59.2 497.1l1.8-1 1.9-.8 1.8-.8 1.8-.8 1.9-.7 1.8-.6 1.9-.5 1.8-.5 1.8-.4 1.9-.4 1.8-.3 1.8-.3 1.9-.2 1.8-.2 1.9-.2 1.8-.3 1.8-.2 1.9-.2 1.8-.2 1.9-.1 1.8-.1 1.8-.1 1.9-.1 1.8-0 1.8-0 1.9-0 1.8-.1 1.8 0 1.9 0 1.8 .1 1.9 .2 1.8 .2 1.8 .3 1.9 .4 1.8 .6 1.8 .6 1.9 .8 1.8 1 1.9 1.1 1.8 1.2 1.8 1.4 1.9 1.4 1.8 1.6 1.8 1.7 1.9 1.9 1.8 1.9 1.9 2 1.8 2 1.8 2.1 1.9 2.1 1.8 2.1 1.8 2.1 1.9 2.1 1.8 1.9 1.9 2 1.8 1.8 1.8 1.5 1.9 1.4 1.8 1 1.8 .8 1.9 .4 1.8 .1 1.9-.3 1.8-.7 1.8-1.1 1.9-1.5 1.8-1.8 1.8-2.2 1.9-2.6 1.8-3 1.9-3.3 1.8-3.6" stroke="#A2142F"/><path d="M59.2 499.9l1.8-1 1.9-.9 1.8-.9 1.8-.8 1.9-.8 1.8-.7 1.9-.7 1.8-.6 1.8-.5 1.9-.6 1.8-.4 1.8-.4 1.9-.4 1.8-.3 1.9-.4 1.8-.3 1.8-.4 1.9-.3 1.8-.3 1.9-.3 1.8-.2 1.8-.3 1.9-.2 1.8-.2 1.8-.2 1.9-.2 1.8-.2 1.8-.3 1.9-.2 1.8-.1 1.9-.1 1.8-.1 1.8 0 1.9 .1 1.8 .2 1.8 .3 1.9 .4 1.8 .6 1.9 .8 1.8 1 1.8 1.1 1.9 1.2 1.8 1.4 1.8 1.5 1.9 1.7 1.8 1.8 1.9 2 1.8 2.1 1.8 2.2 1.9 2.2 1.8 2.4 1.8 2.4 1.9 2.4 1.8 2.4 1.9 2.5 1.8 2.4 1.8 2.3 1.9 2.2 1.8 1.9 1.8 1.7 1.9 1.5 1.8 1.2 1.9 .8 1.8 .5 1.8 .1 1.9-.3 1.8-.6 1.8-1.1 1.9-1.4 1.8-1.8 1.9-2.3 1.8-2.6" stroke="#0072BD"/><path d="M59.2 502.1l1.8-.9 1.9-.9 1.8-.9 1.8-.8 1.9-.8 1.8-.7 1.9-.7 1.8-.7 1.8-.7 1.9-.6 1.8-.5 1.8-.5 1.9-.5 1.8-.4 1.9-.5 1.8-.4 1.8-.5 1.9-.4 1.8-.4 1.9-.4 1.8-.3 1.8-.4 1.9-.4 1.8-.3 1.8-.4 1.9-.3 1.8-.4 1.8-.5 1.9-.4 1.8-.4 1.9-.3 1.8-.4 1.8-.3 1.9-.2 1.8-.2 1.8-.1 1.9 .1 1.8 .2 1.9 .3 1.8 .6 1.8 .8 1.9 .9 1.8 1 1.8 1.2 1.9 1.4 1.8 1.5 1.9 1.8 1.8 1.9 1.8 2 1.9 2.2 1.8 2.4 1.8 2.4 1.9 2.6 1.8 2.7 1.9 2.8 1.8 2.8 1.8 2.8 1.9 2.8 1.8 2.6 1.8 2.5 1.9 2.4 1.8 2.1 1.9 1.9 1.8 1.6 1.8 1.3 1.9 .9 1.8 .6 1.8 .3 1.9-.1 1.8-.6 1.9-.9 1.8-1.4" stroke="#D95319"/><path d="M59.2 503.5l1.8-.8 1.9-.7 1.8-.8 1.8-.7 1.9-.7 1.8-.7 1.9-.7 1.8-.7 1.8-.7 1.9-.6 1.8-.6 1.8-.6 1.9-.5 1.8-.5 1.9-.5 1.8-.5 1.8-.4 1.9-.5 1.8-.5 1.9-.5 1.8-.4 1.8-.5 1.9-.4 1.8-.5 1.8-.4 1.9-.5 1.8-.6 1.8-.6 1.9-.5 1.8-.6 1.9-.6 1.8-.6 1.8-.6 1.9-.6 1.8-.4 1.8-.5 1.9-.4 1.8-.2 1.9-.1 1.8 .2 1.8 .3 1.9 .4 1.8 .6 1.8 .8 1.9 .9 1.8 1.2 1.9 1.3 1.8 1.5 1.8 1.7 1.9 2 1.8 2.1 1.8 2.3 1.9 2.5 1.8 2.6 1.9 2.8 1.8 3 1.8 3 1.9 3.1 1.8 3.1 1.8 3.1 1.9 3 1.8 2.9 1.9 2.8 1.8 2.5 1.8 2.4 1.9 2 1.8 1.8 1.8 1.5 1.9 1.2 1.8 .8 1.9 .5 1.8-0" stroke="#EDB120"/><path d="M59.2 504.0l1.8-.5 1.9-.6 1.8-.6 1.8-.6 1.9-.6 1.8-.6 1.9-.6 1.8-.6 1.8-.6 1.9-.6 1.8-.5 1.8-.6 1.9-.6 1.8-.5 1.9-.5 1.8-.4 1.8-.5 1.9-.5 1.8-.5 1.9-.5 1.8-.5 1.8-.5 1.9-.5 1.8-.5 1.8-.6 1.9-.5 1.8-.6 1.8-.7 1.9-.7 1.8-.7 1.9-.8 1.8-.8 1.8-.8 1.9-.8 1.8-.8 1.8-.8 1.9-.7 1.8-.7 1.9-.4 1.8-.3 1.8-.2 1.9-0 1.8 .1 1.8 .2 1.9 .4 1.8 .6 1.9 .8 1.8 1 1.8 1.3 1.9 1.4 1.8 1.7 1.8 1.9 1.9 2.1 1.8 2.4 1.9 2.6 1.8 2.8 1.8 2.9 1.9 3.2 1.8 3.2 1.8 3.3 1.9 3.4 1.8 3.4 1.9 3.4 1.8 3.2 1.8 3.2 1.9 3 1.8 2.8 1.8 2.6 1.9 2.4 1.8 2.1 1.9 1.7 1.8 1.5" stroke="#7E2F8E"/><path d="M59.2 503.5l1.8-.2 1.9-.3 1.8-.4 1.8-.4 1.9-.4 1.8-.4 1.9-.5 1.8-.4 1.8-.5 1.9-.5 1.8-.5 1.8-.6 1.9-.5 1.8-.5 1.9-.4 1.8-.4 1.8-.4 1.9-.5 1.8-.4 1.9-.5 1.8-.5 1.8-.5 1.9-.5 1.8-.6 1.8-.5 1.9-.6 1.8-.6 1.8-.7 1.9-.8 1.8-.8 1.9-.8 1.8-.9 1.8-1 1.9-1 1.8-1 1.8-1 1.9-1.1 1.8-.9 1.9-.9 1.8-.7 1.8-.6 1.9-.5 1.8-.4 1.8-.3 1.9-.2 1.8-0 1.9 .2 1.8 .4 1.8 .6 1.9 .8 1.8 1.1 1.8 1.4 1.9 1.5 1.8 1.9 1.9 2.1 1.8 2.3 1.8 2.6 1.9 2.9 1.8 3 1.8 3.3 1.9 3.4 1.8 3.6 1.9 3.6 1.8 3.6 1.8 3.7 1.9 3.6 1.8 3.6 1.8 3.5 1.9 3.3 1.8 3.2 1.9 2.9 1.8 2.7" stroke="#77AC30"/><path d="M59.2 502.1l1.8 0 1.9 0 1.8-0 1.8-.2 1.9-.2 1.8-.2 1.9-.3 1.8-.3 1.8-.3 1.9-.3 1.8-.4 1.8-.5 1.9-.4 1.8-.4 1.9-.3 1.8-.3 1.8-.4 1.9-.3 1.8-.4 1.9-.4 1.8-.5 1.8-.4 1.9-.5 1.8-.5 1.8-.5 1.9-.5 1.8-.6 1.8-.7 1.9-.7 1.8-.8 1.9-.9 1.8-.9 1.8-1 1.9-1.1 1.8-1.1 1.8-1.2 1.9-1.2 1.8-1.2 1.9-1.2 1.8-1.1 1.8-1 1.9-.9 1.8-.9 1.8-.8 1.9-.7 1.8-.6 1.9-.5 1.8-.2 1.8-.1 1.9 .2 1.8 .4 1.8 .6 1.9 .9 1.8 1.1 1.9 1.4 1.8 1.7 1.8 2 1.9 2.3 1.8 2.6 1.8 2.8 1.9 3.1 1.8 3.4 1.9 3.5 1.8 3.7 1.8 3.8 1.9 3.9 1.8 4 1.8 4 1.9 4 1.8 3.9 1.9 3.8 1.8 3.7" stroke="#4DBEEE"/><path d="M59.2 499.9l1.8 .3 1.9 .3 1.8 .2 1.8 .1 1.9 .1 1.8 0 1.9-0 1.8-.1 1.8-.2 1.9-.2 1.8-.2 1.8-.3 1.9-.3 1.8-.2 1.9-.3 1.8-.1 1.8-.3 1.9-.2 1.8-.3 1.9-.3 1.8-.3 1.8-.4 1.9-.3 1.8-.4 1.8-.5 1.9-.4 1.8-.6 1.8-.5 1.9-.6 1.8-.7 1.9-.8 1.8-.9 1.8-.9 1.9-1 1.8-1.2 1.8-1.2 1.9-1.3 1.8-1.4 1.9-1.3 1.8-1.3 1.8-1.3 1.9-1.3 1.8-1.3 1.8-1.2 1.9-1.2 1.8-1.1 1.9-1.1 1.8-.9 1.8-.7 1.9-.5 1.8-.4 1.8-.1 1.9 .1 1.8 .3 1.9 .5 1.8 .9 1.8 1.1 1.9 1.6 1.8 1.8 1.8 2.2 1.9 2.6 1.8 2.8 1.9 3.1 1.8 3.3 1.8 3.6 1.9 3.8 1.8 4 1.8 4.1 1.9 4.2 1.8 4.3 1.9 4.4 1.8 4.3" stroke="#A2142F"/><path d="M59.2 497.1l1.8 .6 1.9 .6 1.8 .4 1.8 .4 1.9 .3 1.8 .2 1.9 .2 1.8 .1 1.8 .1 1.9-0 1.8-.1 1.8-.1 1.9-.1 1.8-.1 1.9-.1 1.8-0 1.8-.1 1.9-.1 1.8-.1 1.9-.2 1.8-.2 1.8-.2 1.9-.3 1.8-.3 1.8-.3 1.9-.3 1.8-.4 1.8-.4 1.9-.4 1.8-.6 1.9-.6 1.8-.7 1.8-.8 1.9-.9 1.8-1 1.8-1.2 1.9-1.2 1.8-1.4 1.9-1.4 1.8-1.4 1.8-1.5 1.9-1.4 1.8-1.6 1.8-1.5 1.9-1.6 1.8-1.6 1.9-1.5 1.8-1.4 1.8-1.3 1.9-1.2 1.8-1.1 1.8-.9 1.9-.7 1.8-.5 1.9-.4 1.8-0 1.8 .2 1.9 .6 1.8 1 1.8 1.3 1.9 1.6 1.8 2.1 1.9 2.3 1.8 2.7 1.8 3.1 1.9 3.3 1.8 3.6 1.8 3.8 1.9 4.1 1.8 4.2 1.9 4.4 1.8 4.6" stroke="#0072BD"/><path d="M59.2 494.0l1.8 .8 1.9 .8 1.8 .6 1.8 .6 1.9 .5 1.8 .5 1.9 .4 1.8 .3 1.8 .2 1.9 .2 1.8 .2 1.8 .1 1.9-0 1.8 0 1.9 .1 1.8 .1 1.8 .1 1.9 .1 1.8-0 1.9-0 1.8-.1 1.8-.1 1.9-0 1.8-.2 1.8-.1 1.9-.2 1.8-.2 1.8-.2 1.9-.2 1.8-.4 1.9-.4 1.8-.5 1.8-.5 1.9-.7 1.8-.9 1.8-.9 1.9-1.1 1.8-1.2 1.9-1.3 1.8-1.4 1.8-1.5 1.9-1.5 1.8-1.7 1.8-1.7 1.9-1.8 1.8-1.8 1.9-1.9 1.8-1.8 1.8-1.8 1.9-1.7 1.8-1.7 1.8-1.5 1.9-1.5 1.8-1.3 1.9-1.2 1.8-1 1.8-.7 1.9-.4 1.8-0 1.8 .3 1.9 .6 1.8 1 1.9 1.4 1.8 1.8 1.8 2.2 1.9 2.5 1.8 2.9 1.8 3.2 1.9 3.4 1.8 3.8 1.9 4.1 1.8 4.3" stroke="#D95319"/><path d="M59.2 490.9l1.8 1 1.9 .8 1.8 .8 1.8 .8 1.9 .7 1.8 .6 1.9 .5 1.8 .5 1.8 .4 1.9 .4 1.8 .3 1.8 .3 1.9 .2 1.8 .2 1.9 .2 1.8 .3 1.8 .2 1.9 .2 1.8 .2 1.9 .1 1.8 .1 1.8 .1 1.9 .1 1.8 0 1.8 0 1.9 0 1.8 .1 1.8-0 1.9-0 1.8-.1 1.9-.2 1.8-.2 1.8-.3 1.9-.4 1.8-.6 1.8-.6 1.9-.8 1.8-1 1.9-1.1 1.8-1.2 1.8-1.4 1.9-1.4 1.8-1.6 1.8-1.7 1.9-1.9 1.8-1.9 1.9-2 1.8-2 1.8-2.1 1.9-2.1 1.8-2.1 1.8-2.1 1.9-2.1 1.8-1.9 1.9-2 1.8-1.8 1.8-1.5 1.9-1.4 1.8-1 1.8-.8 1.9-.4 1.8-.1 1.9 .3 1.8 .7 1.8 1.1 1.9 1.5 1.8 1.8 1.8 2.2 1.9 2.6 1.8 3 1.9 3.3 1.8 3.6" stroke="#EDB120"/><path d="M59.2 488.1l1.8 1 1.9 .9 1.8 .9 1.8 .8 1.9 .8 1.8 .7 1.9 .7 1.8 .6 1.8 .5 1.9 .6 1.8 .4 1.8 .4 1.9 .4 1.8 .3 1.9 .4 1.8 .3 1.8 .4 1.9 .3 1.8 .3 1.9 .3 1.8 .2 1.8 .3 1.9 .2 1.8 .2 1.8 .2 1.9 .2 1.8 .2 1.8 .3 1.9 .2 1.8 .1 1.9 .1 1.8 .1 1.8-0 1.9-.1 1.8-.2 1.8-.3 1.9-.4 1.8-.6 1.9-.8 1.8-1 1.8-1.1 1.9-1.2 1.8-1.4 1.8-1.5 1.9-1.7 1.8-1.8 1.9-2 1.8-2.1 1.8-2.2 1.9-2.2 1.8-2.4 1.8-2.4 1.9-2.4 1.8-2.4 1.9-2.5 1.8-2.4 1.8-2.3 1.9-2.2 1.8-1.9 1.8-1.7 1.9-1.5 1.8-1.2 1.9-.8 1.8-.5 1.8-.1 1.9 .3 1.8 .6 1.8 1.1 1.9 1.4 1.8 1.8 1.9 2.3 1.8 2.6" stroke="#7E2F8E"/><path d="M59.2 485.9l1.8 .9 1.9 .9 1.8 .9 1.8 .8 1.9 .8 1.8 .7 1.9 .7 1.8 .7 1.8 .7 1.9 .6 1.8 .5 1.8 .5 1.9 .5 1.8 .4 1.9 .5 1.8 .4 1.8 .5 1.9 .4 1.8 .4 1.9 .4 1.8 .3 1.8 .4 1.9 .4 1.8 .3 1.8 .4 1.9 .3 1.8 .4 1.8 .5 1.9 .4 1.8 .4 1.9 .3 1.8 .4 1.8 .3 1.9 .2 1.8 .2 1.8 .1 1.9-.1 1.8-.2 1.9-.3 1.8-.6 1.8-.8 1.9-.9 1.8-1 1.8-1.2 1.9-1.4 1.8-1.5 1.9-1.8 1.8-1.9 1.8-2 1.9-2.2 1.8-2.4 1.8-2.4 1.9-2.6 1.8-2.7 1.9-2.8 1.8-2.8 1.8-2.8 1.9-2.8 1.8-2.6 1.8-2.5 1.9-2.4 1.8-2.1 1.9-1.9 1.8-1.6 1.8-1.3 1.9-.9 1.8-.6 1.8-.3 1.9 .1 1.8 .6 1.9 .9 1.8 1.4" stroke="#77AC30"/><path d="M59.2 484.5l1.8 .8 1.9 .7 1.8 .8 1.8 .7 1.9 .7 1.8 .7 1.9 .7 1.8 .7 1.8 .7 1.9 .6 1.8 .6 1.8 .6 1.9 .5 1.8 .5 1.9 .5 1.8 .5 1.8 .4 1.9 .5 1.8 .5 1.9 .5 1.8 .4 1.8 .5 1.9 .4 1.8 .5 1.8 .4 1.9 .5 1.8 .6 1.8 .6 1.9 .5 1.8 .6 1.9 .6 1.8 .6 1.8 .6 1.9 .6 1.8 .4 1.8 .5 1.9 .4 1.8 .2 1.9 .1 1.8-.2 1.8-.3 1.9-.4 1.8-.6 1.8-.8 1.9-.9 1.8-1.2 1.9-1.3 1.8-1.5 1.8-1.7 1.9-2 1.8-2.1 1.8-2.3 1.9-2.5 1.8-2.6 1.9-2.8 1.8-3 1.8-3 1.9-3.1 1.8-3.1 1.8-3.1 1.9-3 1.8-2.9 1.9-2.8 1.8-2.5 1.8-2.4 1.9-2 1.8-1.8 1.8-1.5 1.9-1.2 1.8-.8 1.9-.5 1.8 0" stroke="#4DBEEE"/></g><clipPath id="cD1"><rect x="59.2" y="439.5" width="132.3" height="109.0"/></clipPath><rect x="59.2" y="441.5" width="132.3" height="105.0" fill="none" stroke="#a6a6a6" stroke-width="1.4"/><path d="M59.2 441.5h1.3M191.5 441.5h-1.3M59.2 467.75h1.3M191.5 467.75h-1.3M59.2 494h1.3M191.5 494h-1.3M59.2 520.25h1.3M191.5 520.25h-1.3M59.2 546.5h1.3M191.5 546.5h-1.3M59.2 546.5v-1.3M59.2 441.5v1.3M125.35 546.5v-1.3M125.35 441.5v1.3M191.5 546.5v-1.3M191.5 441.5v1.3" stroke="#666" stroke-width="1" fill="none"/><text x="56.2" y="445.4" text-anchor="end" class="t">0.2</text><text x="56.2" y="471.65" text-anchor="end" class="t">0.1</text><text x="56.2" y="497.9" text-anchor="end" class="t">0</text><text x="56.2" y="524.15" text-anchor="end" class="t">-0.1</text><text x="56.2" y="550.4" text-anchor="end" class="t">-0.2</text><text x="59.2" y="559" text-anchor="middle" class="t">0</text><text x="125.35" y="559" text-anchor="middle" class="t">0.5</text><text x="191.5" y="559" text-anchor="middle" class="t">1</text><text x="127.5" y="572.7" text-anchor="middle" class="l xl">Body Wave (BL)</text><text transform="translate(36.89 494) rotate(-90)" text-anchor="middle" class="l yl">Displacement (BL)</text><path d="M302.5 441.5V546.5M237.5 467.75H367.5M237.5 494H367.5M237.5 520.25H367.5" stroke="#ebebeb" stroke-width="0.8" fill="none"/><g fill="none" stroke-width="1.0" stroke-opacity="0.62" clip-path="url(#cD2)"><path d="M237.5 499.6l1.8-.9 1.8-.9 1.8-.8 1.8-.8 1.8-.8 1.8-.7 1.8-.6 1.8-.6 1.8-.6 1.9-.6 1.8-.6 1.8-.5 1.8-.4 1.8-.3 1.8-.3 1.8-.3 1.8-.2 1.8-.2 1.8-.2 1.8-.2 1.8-.1 1.8-.1 1.8-.1 1.8 .1 1.8 .1 1.8 .1 1.8 .2 1.9 .3 1.8 .2 1.8 .3 1.8 .3 1.8 .4 1.8 .5 1.8 .6 1.8 .7 1.8 .8 1.8 .9 1.8 1.2 1.8 1.5 1.8 1.5 1.8 1.4 1.8 1.3 1.8 1.3 1.8 1.4 1.8 1.3 1.9 1.5 1.8 1.5 1.8 1.4 1.8 1.4 1.8 1.3 1.8 1.2 1.8 .7 1.8 .5 1.8 .3 1.8-0 1.8-.5 1.8-.7 1.8-.8 1.8-1.2 1.8-1.5 1.8-1.8 1.8-2.2 1.8-2.6 1.9-3 1.8-3.4 1.8-3.8 1.8-3.8 1.8-3.9 1.8-4.1 1.8-4.2 1.8-4.3 1.8-4.5" stroke="#0072BD"/><path d="M237.5 496.6l1.8-.4 1.8-.4 1.8-.4 1.8-.4 1.8-.3 1.8-.4 1.8-.3 1.8-.2 1.8-.3 1.9-.3 1.8-.3 1.8-.2 1.8-.2 1.8-.1 1.8-.2 1.8-.1 1.8-.1 1.8-.1 1.8-.1 1.8-.1 1.8-0 1.8-.1 1.8 0 1.8 0 1.8 .1 1.8 0 1.8 .1 1.9 .1 1.8 .2 1.8 .1 1.8 .1 1.8 .2 1.8 .3 1.8 .2 1.8 .4 1.8 .3 1.8 .4 1.8 .6 1.8 .7 1.8 .7 1.8 .6 1.8 .7 1.8 .6 1.8 .6 1.8 .6 1.9 .7 1.8 .7 1.8 .7 1.8 .6 1.8 .6 1.8 .6 1.8 .3 1.8 .2 1.8 .2 1.8-.1 1.8-.2 1.8-.3 1.8-.4 1.8-.5 1.8-.7 1.8-.9 1.8-1 1.8-1.2 1.9-1.4 1.8-1.6 1.8-1.7 1.8-1.8 1.8-1.8 1.8-1.9 1.8-1.9 1.8-2.1 1.8-2.1" stroke="#D95319"/><path d="M237.5 493.3l1.8 .1 1.8 .2 1.8 0 1.8 .1 1.8 .1 1.8 .1 1.8 .1 1.8 .1 1.8 0 1.9 .1 1.8 .1 1.8 0 1.8 .1 1.8 0 1.8 0 1.8 .1 1.8 0 1.8 0 1.8 .1 1.8-0 1.8-0 1.8 0 1.8 0 1.8 0 1.8-0 1.8-0 1.8-.1 1.9 0 1.8-0 1.8-0 1.8-.1 1.8-0 1.8-.1 1.8-.1 1.8-0 1.8-.1 1.8-.1 1.8-.2 1.8-.1 1.8-.2 1.8-.2 1.8-.1 1.8-.2 1.8-.2 1.8-.1 1.9-.2 1.8-.2 1.8-.1 1.8-.2 1.8-.1 1.8-.2 1.8-.1 1.8-0 1.8-.1 1.8 0 1.8 .1 1.8 .1 1.8 .1 1.8 .1 1.8 .2 1.8 .2 1.8 .3 1.8 .3 1.9 .3 1.8 .4 1.8 .5 1.8 .4 1.8 .5 1.8 .4 1.8 .5 1.8 .5 1.8 .6" stroke="#EDB120"/><path d="M237.5 490.1l1.8 .7 1.8 .6 1.8 .5 1.8 .6 1.8 .5 1.8 .5 1.8 .4 1.8 .5 1.8 .4 1.9 .4 1.8 .4 1.8 .3 1.8 .3 1.8 .2 1.8 .2 1.8 .2 1.8 .2 1.8 .1 1.8 .2 1.8 .1 1.8 .1 1.8 0 1.8 0 1.8 0 1.8-0 1.8-.2 1.8-.1 1.9-.1 1.8-.2 1.8-.2 1.8-.2 1.8-.3 1.8-.4 1.8-.4 1.8-.5 1.8-.5 1.8-.6 1.8-.8 1.8-1 1.8-1.1 1.8-1 1.8-.9 1.8-.9 1.8-.9 1.8-.9 1.9-1 1.8-1.1 1.8-1 1.8-.9 1.8-.9 1.8-.8 1.8-.5 1.8-.3 1.8-.2 1.8 0 1.8 .3 1.8 .5 1.8 .6 1.8 .8 1.8 1 1.8 1.3 1.8 1.4 1.8 1.8 1.9 2.1 1.8 2.3 1.8 2.6 1.8 2.6 1.8 2.7 1.8 2.8 1.8 2.9 1.8 3 1.8 3.1" stroke="#7E2F8E"/><path d="M237.5 487.3l1.8 1.1 1.8 1 1.8 1 1.8 1 1.8 .9 1.8 .8 1.8 .8 1.8 .7 1.8 .8 1.9 .7 1.8 .6 1.8 .6 1.8 .5 1.8 .4 1.8 .3 1.8 .3 1.8 .3 1.8 .3 1.8 .2 1.8 .2 1.8 .2 1.8 .1 1.8 0 1.8-0 1.8-.1 1.8-.2 1.8-.2 1.9-.3 1.8-.3 1.8-.3 1.8-.4 1.8-.5 1.8-.6 1.8-.7 1.8-.9 1.8-.9 1.8-1 1.8-1.5 1.8-1.7 1.8-1.9 1.8-1.6 1.8-1.6 1.8-1.6 1.8-1.5 1.8-1.7 1.9-1.7 1.8-1.8 1.8-1.7 1.8-1.6 1.8-1.6 1.8-1.4 1.8-.9 1.8-.6 1.8-.3 1.8 .1 1.8 .5 1.8 .9 1.8 .9 1.8 1.4 1.8 1.8 1.8 2.2 1.8 2.5 1.8 3.2 1.9 3.5 1.8 4.1 1.8 4.4 1.8 4.6 1.8 4.7 1.8 4.8 1.8 5 1.8 5.2 1.8 5.3" stroke="#77AC30"/><path d="M237.5 485.1l1.8 1.5 1.8 1.4 1.8 1.3 1.8 1.3 1.8 1.1 1.8 1.2 1.8 1 1.8 .9 1.8 1 1.9 .9 1.8 .9 1.8 .8 1.8 .6 1.8 .6 1.8 .4 1.8 .4 1.8 .4 1.8 .4 1.8 .3 1.8 .2 1.8 .2 1.8 .2 1.8 0 1.8-0 1.8-.2 1.8-.2 1.8-.3 1.9-.4 1.8-.4 1.8-.4 1.8-.5 1.8-.7 1.8-.8 1.8-.9 1.8-1.1 1.8-1.3 1.8-1.3 1.8-1.9 1.8-2.4 1.8-2.4 1.8-2.2 1.8-2.1 1.8-2.1 1.8-2 1.8-2.2 1.9-2.3 1.8-2.4 1.8-2.3 1.8-2.1 1.8-2.1 1.8-1.8 1.8-1.2 1.8-.8 1.8-.4 1.8 .1 1.8 .7 1.8 1.1 1.8 1.3 1.8 1.8 1.8 2.5 1.8 2.8 1.8 3.3 1.8 4.2 1.9 4.8 1.8 5.3 1.8 5.9 1.8 6 1.8 6.3 1.8 6.4 1.8 6.6 1.8 6.8 1.8 7.1" stroke="#4DBEEE"/><path d="M237.5 483.8l1.8 1.7 1.8 1.6 1.8 1.5 1.8 1.4 1.8 1.4 1.8 1.3 1.8 1.2 1.8 1.1 1.8 1.1 1.9 1 1.8 1 1.8 .9 1.8 .8 1.8 .6 1.8 .5 1.8 .5 1.8 .4 1.8 .4 1.8 .4 1.8 .3 1.8 .2 1.8 .2 1.8 0 1.8-0 1.8-.2 1.8-.3 1.8-.3 1.9-.5 1.8-.4 1.8-.5 1.8-.6 1.8-.7 1.8-1 1.8-1.1 1.8-1.2 1.8-1.4 1.8-1.6 1.8-2.2 1.8-2.6 1.8-2.8 1.8-2.6 1.8-2.4 1.8-2.3 1.8-2.4 1.8-2.5 1.9-2.7 1.8-2.7 1.8-2.6 1.8-2.4 1.8-2.4 1.8-2.2 1.8-1.3 1.8-.9 1.8-.5 1.8 .1 1.8 .9 1.8 1.2 1.8 1.5 1.8 2.1 1.8 2.8 1.8 3.3 1.8 3.8 1.8 4.8 1.9 5.4 1.8 6.2 1.8 6.7 1.8 6.9 1.8 7.2 1.8 7.3 1.8 7.6 1.8 7.8 1.8 8.2" stroke="#A2142F"/><path d="M237.5 483.5l1.8 1.7 1.8 1.7 1.8 1.5 1.8 1.5 1.8 1.4 1.8 1.3 1.8 1.3 1.8 1.1 1.8 1.1 1.9 1.1 1.8 1 1.8 1 1.8 .8 1.8 .6 1.8 .5 1.8 .5 1.8 .4 1.8 .5 1.8 .3 1.8 .3 1.8 .3 1.8 .1 1.8 .1 1.8-.1 1.8-.1 1.8-.3 1.8-.4 1.9-.4 1.8-.5 1.8-.5 1.8-.6 1.8-.8 1.8-.9 1.8-1.2 1.8-1.2 1.8-1.5 1.8-1.6 1.8-2.2 1.8-2.8 1.8-2.9 1.8-2.6 1.8-2.5 1.8-2.4 1.8-2.5 1.8-2.5 1.9-2.8 1.8-2.7 1.8-2.7 1.8-2.5 1.8-2.5 1.8-2.2 1.8-1.4 1.8-.9 1.8-.6 1.8 .2 1.8 .8 1.8 1.3 1.8 1.6 1.8 2.1 1.8 2.9 1.8 3.4 1.8 3.9 1.8 5 1.9 5.5 1.8 6.4 1.8 6.9 1.8 7.2 1.8 7.3 1.8 7.6 1.8 7.8 1.8 8.1 1.8 8.4" stroke="#0072BD"/><path d="M237.5 484.2l1.8 1.6 1.8 1.6 1.8 1.4 1.8 1.4 1.8 1.3 1.8 1.2 1.8 1.2 1.8 1 1.8 1.1 1.9 1 1.8 .9 1.8 .9 1.8 .7 1.8 .7 1.8 .4 1.8 .5 1.8 .4 1.8 .4 1.8 .3 1.8 .3 1.8 .2 1.8 .2 1.8 0 1.8-0 1.8-.2 1.8-.2 1.8-.4 1.9-.4 1.8-.4 1.8-.5 1.8-.6 1.8-.7 1.8-.9 1.8-1 1.8-1.2 1.8-1.4 1.8-1.5 1.8-2.1 1.8-2.5 1.8-2.7 1.8-2.5 1.8-2.3 1.8-2.2 1.8-2.3 1.8-2.4 1.9-2.5 1.8-2.6 1.8-2.6 1.8-2.3 1.8-2.3 1.8-2.1 1.8-1.2 1.8-.9 1.8-.5 1.8 .1 1.8 .8 1.8 1.3 1.8 1.4 1.8 2 1.8 2.7 1.8 3.1 1.8 3.7 1.8 4.6 1.9 5.2 1.8 5.9 1.8 6.5 1.8 6.6 1.8 6.9 1.8 7 1.8 7.3 1.8 7.5 1.8 7.8" stroke="#D95319"/><path d="M237.5 485.9l1.8 1.3 1.8 1.3 1.8 1.2 1.8 1.2 1.8 1 1.8 1.1 1.8 .9 1.8 .9 1.8 .8 1.9 .9 1.8 .8 1.8 .7 1.8 .6 1.8 .5 1.8 .4 1.8 .4 1.8 .3 1.8 .3 1.8 .3 1.8 .3 1.8 .2 1.8 .1 1.8 0 1.8-0 1.8-.2 1.8-.2 1.8-.3 1.9-.3 1.8-.4 1.8-.4 1.8-.4 1.8-.6 1.8-.8 1.8-.8 1.8-1 1.8-1.1 1.8-1.3 1.8-1.7 1.8-2.2 1.8-2.2 1.8-2 1.8-1.9 1.8-1.9 1.8-1.9 1.8-2 1.9-2.1 1.8-2.1 1.8-2.1 1.8-1.9 1.8-1.9 1.8-1.8 1.8-1 1.8-.7 1.8-.4 1.8 .1 1.8 .6 1.8 1 1.8 1.2 1.8 1.7 1.8 2.2 1.8 2.6 1.8 3 1.8 3.9 1.9 4.3 1.8 4.9 1.8 5.4 1.8 5.5 1.8 5.6 1.8 5.9 1.8 6 1.8 6.2 1.8 6.5" stroke="#EDB120"/><path d="M237.5 488.4l1.8 .9 1.8 .9 1.8 .8 1.8 .8 1.8 .8 1.8 .7 1.8 .6 1.8 .6 1.8 .6 1.9 .6 1.8 .6 1.8 .5 1.8 .4 1.8 .3 1.8 .3 1.8 .3 1.8 .2 1.8 .2 1.8 .2 1.8 .2 1.8 .1 1.8 .1 1.8 .1 1.8-.1 1.8-.1 1.8-.1 1.8-.2 1.9-.3 1.8-.2 1.8-.3 1.8-.3 1.8-.4 1.8-.5 1.8-.6 1.8-.7 1.8-.8 1.8-.9 1.8-1.2 1.8-1.5 1.8-1.5 1.8-1.4 1.8-1.3 1.8-1.3 1.8-1.4 1.8-1.3 1.9-1.5 1.8-1.5 1.8-1.4 1.8-1.4 1.8-1.3 1.8-1.2 1.8-.7 1.8-.5 1.8-.3 1.8 0 1.8 .5 1.8 .7 1.8 .8 1.8 1.2 1.8 1.5 1.8 1.8 1.8 2.2 1.8 2.6 1.9 3 1.8 3.4 1.8 3.8 1.8 3.8 1.8 3.9 1.8 4.1 1.8 4.2 1.8 4.3 1.8 4.5" stroke="#7E2F8E"/><path d="M237.5 491.4l1.8 .4 1.8 .4 1.8 .4 1.8 .4 1.8 .3 1.8 .4 1.8 .3 1.8 .2 1.8 .3 1.9 .3 1.8 .3 1.8 .2 1.8 .2 1.8 .1 1.8 .2 1.8 .1 1.8 .1 1.8 .1 1.8 .1 1.8 .1 1.8 0 1.8 .1 1.8-0 1.8-0 1.8-.1 1.8-0 1.8-.1 1.9-.1 1.8-.2 1.8-.1 1.8-.1 1.8-.2 1.8-.3 1.8-.2 1.8-.4 1.8-.3 1.8-.4 1.8-.6 1.8-.7 1.8-.7 1.8-.6 1.8-.7 1.8-.6 1.8-.6 1.8-.6 1.9-.7 1.8-.7 1.8-.7 1.8-.6 1.8-.6 1.8-.6 1.8-.3 1.8-.2 1.8-.2 1.8 .1 1.8 .2 1.8 .3 1.8 .4 1.8 .5 1.8 .7 1.8 .9 1.8 1 1.8 1.2 1.9 1.4 1.8 1.6 1.8 1.7 1.8 1.8 1.8 1.8 1.8 1.9 1.8 1.9 1.8 2.1 1.8 2.1" stroke="#77AC30"/><path d="M237.5 494.7l1.8-.1 1.8-.2 1.8-0 1.8-.1 1.8-.1 1.8-.1 1.8-.1 1.8-.1 1.8-0 1.9-.1 1.8-.1 1.8-0 1.8-.1 1.8-0 1.8-0 1.8-.1 1.8-0 1.8-0 1.8-.1 1.8 0 1.8 0 1.8-0 1.8-0 1.8-0 1.8 0 1.8 0 1.8 .1 1.9-0 1.8 0 1.8 0 1.8 .1 1.8 0 1.8 .1 1.8 .1 1.8 0 1.8 .1 1.8 .1 1.8 .2 1.8 .1 1.8 .2 1.8 .2 1.8 .1 1.8 .2 1.8 .2 1.8 .1 1.9 .2 1.8 .2 1.8 .1 1.8 .2 1.8 .1 1.8 .2 1.8 .1 1.8 0 1.8 .1 1.8-0 1.8-.1 1.8-.1 1.8-.1 1.8-.1 1.8-.2 1.8-.2 1.8-.3 1.8-.3 1.9-.3 1.8-.4 1.8-.5 1.8-.4 1.8-.5 1.8-.4 1.8-.5 1.8-.5 1.8-.6" stroke="#4DBEEE"/><path d="M237.5 497.9l1.8-.7 1.8-.6 1.8-.5 1.8-.6 1.8-.5 1.8-.5 1.8-.4 1.8-.5 1.8-.4 1.9-.4 1.8-.4 1.8-.3 1.8-.3 1.8-.2 1.8-.2 1.8-.2 1.8-.2 1.8-.1 1.8-.2 1.8-.1 1.8-.1 1.8-0 1.8-0 1.8-0 1.8 0 1.8 .2 1.8 .1 1.9 .1 1.8 .2 1.8 .2 1.8 .2 1.8 .3 1.8 .4 1.8 .4 1.8 .5 1.8 .5 1.8 .6 1.8 .8 1.8 1 1.8 1.1 1.8 1 1.8 .9 1.8 .9 1.8 .9 1.8 .9 1.9 1 1.8 1.1 1.8 1 1.8 .9 1.8 .9 1.8 .8 1.8 .5 1.8 .3 1.8 .2 1.8-0 1.8-.3 1.8-.5 1.8-.6 1.8-.8 1.8-1 1.8-1.3 1.8-1.4 1.8-1.8 1.9-2.1 1.8-2.3 1.8-2.6 1.8-2.6 1.8-2.7 1.8-2.8 1.8-2.9 1.8-3 1.8-3.1" stroke="#A2142F"/><path d="M237.5 500.7l1.8-1.1 1.8-1 1.8-1 1.8-1 1.8-.9 1.8-.8 1.8-.8 1.8-.7 1.8-.8 1.9-.7 1.8-.6 1.8-.6 1.8-.5 1.8-.4 1.8-.3 1.8-.3 1.8-.3 1.8-.3 1.8-.2 1.8-.2 1.8-.2 1.8-.1 1.8-0 1.8 0 1.8 .1 1.8 .2 1.8 .2 1.9 .3 1.8 .3 1.8 .3 1.8 .4 1.8 .5 1.8 .6 1.8 .7 1.8 .9 1.8 .9 1.8 1 1.8 1.5 1.8 1.7 1.8 1.9 1.8 1.6 1.8 1.6 1.8 1.6 1.8 1.5 1.8 1.7 1.9 1.7 1.8 1.8 1.8 1.7 1.8 1.6 1.8 1.6 1.8 1.4 1.8 .9 1.8 .6 1.8 .3 1.8-.1 1.8-.5 1.8-.9 1.8-.9 1.8-1.4 1.8-1.8 1.8-2.2 1.8-2.5 1.8-3.2 1.9-3.5 1.8-4.1 1.8-4.4 1.8-4.6 1.8-4.7 1.8-4.8 1.8-5 1.8-5.2 1.8-5.3" stroke="#0072BD"/><path d="M237.5 502.9l1.8-1.5 1.8-1.4 1.8-1.3 1.8-1.3 1.8-1.1 1.8-1.2 1.8-1 1.8-.9 1.8-1 1.9-.9 1.8-.9 1.8-.8 1.8-.6 1.8-.6 1.8-.4 1.8-.4 1.8-.4 1.8-.4 1.8-.3 1.8-.2 1.8-.2 1.8-.2 1.8-0 1.8 0 1.8 .2 1.8 .2 1.8 .3 1.9 .4 1.8 .4 1.8 .4 1.8 .5 1.8 .7 1.8 .8 1.8 .9 1.8 1.1 1.8 1.3 1.8 1.3 1.8 1.9 1.8 2.4 1.8 2.4 1.8 2.2 1.8 2.1 1.8 2.1 1.8 2 1.8 2.2 1.9 2.3 1.8 2.4 1.8 2.3 1.8 2.1 1.8 2.1 1.8 1.8 1.8 1.2 1.8 .8 1.8 .4 1.8-.1 1.8-.7 1.8-1.1 1.8-1.3 1.8-1.8 1.8-2.5 1.8-2.8 1.8-3.3 1.8-4.2 1.9-4.8 1.8-5.3 1.8-5.9 1.8-6 1.8-6.3 1.8-6.4 1.8-6.6 1.8-6.8 1.8-7.1" stroke="#D95319"/><path d="M237.5 504.2l1.8-1.7 1.8-1.6 1.8-1.5 1.8-1.4 1.8-1.4 1.8-1.3 1.8-1.2 1.8-1.1 1.8-1.1 1.9-1 1.8-1 1.8-.9 1.8-.8 1.8-.6 1.8-.5 1.8-.5 1.8-.4 1.8-.4 1.8-.4 1.8-.3 1.8-.2 1.8-.2 1.8-0 1.8 0 1.8 .2 1.8 .3 1.8 .3 1.9 .5 1.8 .4 1.8 .5 1.8 .6 1.8 .7 1.8 1 1.8 1.1 1.8 1.2 1.8 1.4 1.8 1.6 1.8 2.2 1.8 2.6 1.8 2.8 1.8 2.6 1.8 2.4 1.8 2.3 1.8 2.4 1.8 2.5 1.9 2.7 1.8 2.7 1.8 2.6 1.8 2.4 1.8 2.4 1.8 2.2 1.8 1.3 1.8 .9 1.8 .5 1.8-.1 1.8-.9 1.8-1.2 1.8-1.5 1.8-2.1 1.8-2.8 1.8-3.3 1.8-3.8 1.8-4.8 1.9-5.4 1.8-6.2 1.8-6.7 1.8-6.9 1.8-7.2 1.8-7.3 1.8-7.6 1.8-7.8 1.8-8.2" stroke="#EDB120"/><path d="M237.5 504.5l1.8-1.7 1.8-1.7 1.8-1.5 1.8-1.5 1.8-1.4 1.8-1.3 1.8-1.3 1.8-1.1 1.8-1.1 1.9-1.1 1.8-1 1.8-1 1.8-.8 1.8-.6 1.8-.5 1.8-.5 1.8-.4 1.8-.5 1.8-.3 1.8-.3 1.8-.3 1.8-.1 1.8-.1 1.8 .1 1.8 .1 1.8 .3 1.8 .4 1.9 .4 1.8 .5 1.8 .5 1.8 .6 1.8 .8 1.8 .9 1.8 1.2 1.8 1.2 1.8 1.5 1.8 1.6 1.8 2.2 1.8 2.8 1.8 2.9 1.8 2.6 1.8 2.5 1.8 2.4 1.8 2.5 1.8 2.5 1.9 2.8 1.8 2.7 1.8 2.7 1.8 2.5 1.8 2.5 1.8 2.2 1.8 1.4 1.8 .9 1.8 .6 1.8-.2 1.8-.8 1.8-1.3 1.8-1.6 1.8-2.1 1.8-2.9 1.8-3.4 1.8-3.9 1.8-5 1.9-5.5 1.8-6.4 1.8-6.9 1.8-7.2 1.8-7.3 1.8-7.6 1.8-7.8 1.8-8.1 1.8-8.4" stroke="#7E2F8E"/><path d="M237.5 503.8l1.8-1.6 1.8-1.6 1.8-1.4 1.8-1.4 1.8-1.3 1.8-1.2 1.8-1.2 1.8-1 1.8-1.1 1.9-1 1.8-.9 1.8-.9 1.8-.7 1.8-.7 1.8-.4 1.8-.5 1.8-.4 1.8-.4 1.8-.3 1.8-.3 1.8-.2 1.8-.2 1.8-0 1.8 0 1.8 .2 1.8 .2 1.8 .4 1.9 .4 1.8 .4 1.8 .5 1.8 .6 1.8 .7 1.8 .9 1.8 1 1.8 1.2 1.8 1.4 1.8 1.5 1.8 2.1 1.8 2.5 1.8 2.7 1.8 2.5 1.8 2.3 1.8 2.2 1.8 2.3 1.8 2.4 1.9 2.5 1.8 2.6 1.8 2.6 1.8 2.3 1.8 2.3 1.8 2.1 1.8 1.2 1.8 .9 1.8 .5 1.8-.1 1.8-.8 1.8-1.3 1.8-1.4 1.8-2 1.8-2.7 1.8-3.1 1.8-3.7 1.8-4.6 1.9-5.2 1.8-5.9 1.8-6.5 1.8-6.6 1.8-6.9 1.8-7 1.8-7.3 1.8-7.5 1.8-7.8" stroke="#77AC30"/><path d="M237.5 502.1l1.8-1.3 1.8-1.3 1.8-1.2 1.8-1.2 1.8-1 1.8-1.1 1.8-.9 1.8-.9 1.8-.8 1.9-.9 1.8-.8 1.8-.7 1.8-.6 1.8-.5 1.8-.4 1.8-.4 1.8-.3 1.8-.3 1.8-.3 1.8-.3 1.8-.2 1.8-.1 1.8-0 1.8 0 1.8 .2 1.8 .2 1.8 .3 1.9 .3 1.8 .4 1.8 .4 1.8 .4 1.8 .6 1.8 .8 1.8 .8 1.8 1 1.8 1.1 1.8 1.3 1.8 1.7 1.8 2.2 1.8 2.2 1.8 2 1.8 1.9 1.8 1.9 1.8 1.9 1.8 2 1.9 2.1 1.8 2.1 1.8 2.1 1.8 1.9 1.8 1.9 1.8 1.8 1.8 1 1.8 .7 1.8 .4 1.8-.1 1.8-.6 1.8-1 1.8-1.2 1.8-1.7 1.8-2.2 1.8-2.6 1.8-3 1.8-3.9 1.9-4.3 1.8-4.9 1.8-5.4 1.8-5.5 1.8-5.6 1.8-5.9 1.8-6 1.8-6.2 1.8-6.5" stroke="#4DBEEE"/></g><clipPath id="cD2"><rect x="237.5" y="439.5" width="130.0" height="109.0"/></clipPath><rect x="237.5" y="441.5" width="130.0" height="105.0" fill="none" stroke="#a6a6a6" stroke-width="1.4"/><path d="M237.5 441.5h1.3M367.5 441.5h-1.3M237.5 467.75h1.3M367.5 467.75h-1.3M237.5 494h1.3M367.5 494h-1.3M237.5 520.25h1.3M367.5 520.25h-1.3M237.5 546.5h1.3M367.5 546.5h-1.3M237.5 546.5v-1.3M237.5 441.5v1.3M302.5 546.5v-1.3M302.5 441.5v1.3M367.5 546.5v-1.3M367.5 441.5v1.3" stroke="#666" stroke-width="1" fill="none"/><text x="234.5" y="445.4" text-anchor="end" class="t">0.06</text><text x="234.5" y="471.65" text-anchor="end" class="t">0.03</text><text x="234.5" y="497.9" text-anchor="end" class="t">0</text><text x="234.5" y="524.15" text-anchor="end" class="t">-0.03</text><text x="234.5" y="550.4" text-anchor="end" class="t">-0.06</text><text x="237.5" y="559" text-anchor="middle" class="t">0</text><text x="302.5" y="559" text-anchor="middle" class="t">0.5</text><text x="367.5" y="559" text-anchor="middle" class="t">1</text><text x="306.9" y="572.7" text-anchor="middle" class="l xl">Standing Wave (BL)</text><text transform="translate(210.19 494) rotate(-90)" text-anchor="middle" class="l yl">Displacement (BL)</text><path d="M475.5 441.5V546.5M409.5 467.75H541.5M409.5 494H541.5M409.5 520.25H541.5" stroke="#ebebeb" stroke-width="0.8" fill="none"/><g fill="none" stroke-width="1.0" stroke-opacity="0.62" clip-path="url(#cD3)"><path d="M409.5 481.4l1.8 .8 1.9 .8 1.8 .9 1.8 .9 1.9 .9 1.8 1 1.8 .9 1.9 .7 1.8 .6 1.8 .7 1.9 .6 1.8 .6 1.8 .5 1.9 .5 1.8 .5 1.8 .6 1.9 .5 1.8 .6 1.8 .6 1.9 .7 1.8 .6 1.8 .8 1.9 .7 1.8 .8 1.8 .9 1.9 .8 1.8 .9 1.8 .8 1.9 .8 1.8 .8 1.8 .7 1.9 .6 1.8 .7 1.8 .6 1.9 .7 1.8 .6 1.8 .6 1.9 .7 1.8 .7 1.8 .7 1.9 .6 1.8 .4 1.8 .4 1.9 .2 1.8-0 1.8-.5 1.9-.8 1.8-1.3 1.8-1.6 1.9-2 1.8-2.4 1.8-2.7 1.9-2.9 1.8-3.2 1.8-3.4 1.9-3.5 1.8-3.5 1.8-3.6 1.9-3.6 1.8-3.4 1.8-3.4 1.9-3.2 1.8-2.9 1.8-2.7 1.9-2.5 1.8-2.2 1.8-2.2 1.9-2.2 1.8-2.3 1.8-2.3 1.9-2.2 1.8-2.1" stroke="#0072BD"/><path d="M409.5 482.0l1.8 .5 1.9 .5 1.8 .6 1.8 .6 1.9 .8 1.8 .7 1.8 .8 1.9 .6 1.8 .5 1.8 .6 1.9 .5 1.8 .5 1.8 .4 1.9 .4 1.8 .5 1.8 .4 1.9 .5 1.8 .5 1.8 .5 1.9 .6 1.8 .6 1.8 .7 1.9 .7 1.8 .8 1.8 .8 1.9 .8 1.8 1 1.8 .9 1.9 .9 1.8 .9 1.8 .9 1.9 .8 1.8 .9 1.8 .9 1.9 .9 1.8 .9 1.8 1 1.9 1 1.8 1.2 1.8 1.2 1.9 1.1 1.8 1.1 1.8 1 1.9 1 1.8 .9 1.8 .5 1.9-0 1.8-.4 1.8-.7 1.9-1.2 1.8-1.5 1.8-2 1.9-2.3 1.8-2.7 1.8-2.9 1.9-3.2 1.8-3.4 1.8-3.5 1.9-3.7 1.8-3.6 1.8-3.7 1.9-3.7 1.8-3.5 1.8-3.4 1.9-3.2 1.8-3.1 1.8-3 1.9-3.2 1.8-3.2 1.8-3.4 1.9-3.3 1.8-3.3" stroke="#D95319"/><path d="M409.5 483.8l1.8 0 1.9 .2 1.8 .3 1.8 .3 1.9 .5 1.8 .5 1.8 .5 1.9 .5 1.8 .3 1.8 .4 1.9 .4 1.8 .4 1.8 .3 1.9 .2 1.8 .3 1.8 .4 1.9 .3 1.8 .4 1.8 .4 1.9 .4 1.8 .5 1.8 .5 1.9 .6 1.8 .7 1.8 .7 1.9 .8 1.8 .9 1.8 .9 1.9 .9 1.8 1 1.8 1 1.9 1 1.8 1 1.8 1.1 1.9 1 1.8 1.2 1.8 1.2 1.9 1.3 1.8 1.5 1.8 1.5 1.9 1.6 1.8 1.6 1.8 1.6 1.9 1.7 1.8 1.6 1.8 1.4 1.9 .9 1.8 .6 1.8 .2 1.9-.2 1.8-.6 1.8-1.1 1.9-1.4 1.8-1.9 1.8-2.2 1.9-2.6 1.8-2.9 1.8-3.1 1.9-3.4 1.8-3.5 1.8-3.7 1.9-3.7 1.8-3.7 1.8-3.8 1.9-3.7 1.8-3.6 1.8-3.6 1.9-3.8 1.8-3.9 1.8-4 1.9-4.1 1.8-4.2" stroke="#EDB120"/><path d="M409.5 486.6l1.8-.4 1.9-.2 1.8-.1 1.8-0 1.9 .1 1.8 .3 1.8 .3 1.9 .2 1.8 .1 1.8 .2 1.9 .3 1.8 .2 1.8 .1 1.9 .1 1.8 .1 1.8 .2 1.9 .2 1.8 .2 1.8 .2 1.9 .3 1.8 .3 1.8 .3 1.9 .5 1.8 .5 1.8 .5 1.9 .7 1.8 .7 1.8 .8 1.9 .9 1.8 .9 1.8 1 1.9 1 1.8 1.1 1.8 1.1 1.9 1.1 1.8 1.3 1.8 1.3 1.9 1.5 1.8 1.6 1.8 1.8 1.9 1.9 1.8 1.9 1.8 2.1 1.9 2.2 1.8 2.2 1.8 2.1 1.9 1.7 1.8 1.5 1.8 1.1 1.9 .8 1.8 .4 1.8-0 1.9-.5 1.8-.8 1.8-1.3 1.9-1.7 1.8-2.1 1.8-2.5 1.9-2.8 1.8-3 1.8-3.3 1.9-3.4 1.8-3.7 1.8-3.7 1.9-3.8 1.8-3.8 1.8-3.8 1.9-4 1.8-4.1 1.8-4.4 1.9-4.5 1.8-4.7" stroke="#7E2F8E"/><path d="M409.5 490.1l1.8-.7 1.9-.6 1.8-.5 1.8-.3 1.9-.2 1.8-.1 1.8 0 1.9-0 1.8-.1 1.8 0 1.9 .1 1.8-0 1.8-.1 1.9-.1 1.8-0 1.8-0 1.9-0 1.8 0 1.8 .1 1.9 0 1.8 .1 1.8 .1 1.9 .3 1.8 .2 1.8 .4 1.9 .4 1.8 .5 1.8 .7 1.9 .7 1.8 .8 1.8 .9 1.9 .9 1.8 1 1.8 1.1 1.9 1.1 1.8 1.2 1.8 1.4 1.9 1.5 1.8 1.6 1.8 1.8 1.9 2 1.8 2.1 1.8 2.3 1.9 2.5 1.8 2.7 1.8 2.5 1.9 2.4 1.8 2.2 1.8 2 1.9 1.7 1.8 1.4 1.8 .9 1.9 .6 1.8 .2 1.8-.2 1.9-.7 1.8-1.1 1.8-1.5 1.9-1.9 1.8-2.3 1.8-2.5 1.9-2.9 1.8-3.1 1.8-3.4 1.9-3.5 1.8-3.6 1.8-3.7 1.9-3.8 1.8-4 1.8-4.2 1.9-4.5 1.8-4.7" stroke="#77AC30"/><path d="M409.5 494.0l1.8-1 1.9-.9 1.8-.8 1.8-.6 1.9-.6 1.8-.3 1.8-.3 1.9-.3 1.8-.3 1.8-.2 1.9-.1 1.8-.2 1.8-.2 1.9-.3 1.8-.2 1.8-.2 1.9-.2 1.8-.1 1.8-.2 1.9-.1 1.8-.2 1.8-0 1.9-.1 1.8 .1 1.8 .1 1.9 .2 1.8 .2 1.8 .4 1.9 .5 1.8 .6 1.8 .7 1.9 .8 1.8 .8 1.8 .9 1.9 1 1.8 1.1 1.8 1.2 1.9 1.3 1.8 1.5 1.8 1.7 1.9 1.9 1.8 2.1 1.8 2.3 1.9 2.6 1.8 2.8 1.8 2.8 1.9 2.8 1.8 2.7 1.8 2.6 1.9 2.4 1.8 2.2 1.8 1.9 1.9 1.6 1.8 1.2 1.8 .9 1.9 .4 1.8 0 1.8-.4 1.9-.9 1.8-1.2 1.8-1.6 1.9-2 1.8-2.3 1.8-2.6 1.9-2.9 1.8-3.1 1.8-3.2 1.9-3.3 1.8-3.5 1.8-3.6 1.9-4 1.8-4.3" stroke="#4DBEEE"/><path d="M409.5 497.9l1.8-1.2 1.9-1.2 1.8-1 1.8-.8 1.9-.8 1.8-.7 1.8-.5 1.9-.5 1.8-.4 1.8-.4 1.9-.4 1.8-.3 1.8-.4 1.9-.4 1.8-.4 1.8-.3 1.9-.4 1.8-.3 1.8-.3 1.9-.4 1.8-.3 1.8-.3 1.9-.3 1.8-.2 1.8-.1 1.9-.1 1.8-0 1.8 .1 1.9 .2 1.8 .3 1.8 .5 1.9 .5 1.8 .6 1.8 .7 1.9 .7 1.8 .9 1.8 .9 1.9 1.1 1.8 1.2 1.8 1.4 1.9 1.6 1.8 1.8 1.8 2.1 1.9 2.4 1.8 2.6 1.8 2.9 1.9 2.9 1.8 2.9 1.8 3 1.9 3 1.8 2.8 1.8 2.6 1.9 2.4 1.8 2.2 1.8 1.9 1.9 1.5 1.8 1 1.8 .7 1.9 .3 1.8-.1 1.8-.5 1.9-.9 1.8-1.3 1.8-1.6 1.9-2 1.8-2.2 1.8-2.4 1.9-2.5 1.8-2.6 1.8-2.7 1.9-3.1 1.8-3.5" stroke="#A2142F"/><path d="M409.5 501.4l1.8-1.3 1.9-1.2 1.8-1.2 1.8-1 1.9-1 1.8-.8 1.8-.8 1.9-.6 1.8-.6 1.8-.6 1.9-.5 1.8-.4 1.8-.5 1.9-.5 1.8-.5 1.8-.5 1.9-.5 1.8-.4 1.8-.5 1.9-.5 1.8-.5 1.8-.5 1.9-.5 1.8-.4 1.8-.4 1.9-.4 1.8-.3 1.8-.2 1.9-0 1.8 0 1.8 .2 1.9 .2 1.8 .3 1.8 .4 1.9 .4 1.8 .5 1.8 .6 1.9 .7 1.8 .8 1.8 1 1.9 1.2 1.8 1.4 1.8 1.6 1.9 2 1.8 2.2 1.8 2.6 1.9 2.7 1.8 2.9 1.8 3.1 1.9 3.2 1.8 3.2 1.8 3.1 1.9 3 1.8 2.9 1.8 2.6 1.9 2.4 1.8 2.1 1.8 1.8 1.9 1.4 1.8 1 1.8 .7 1.9 .3 1.8-.2 1.8-.5 1.9-.9 1.8-1.2 1.8-1.3 1.9-1.4 1.8-1.4 1.8-1.6 1.9-1.9 1.8-2.3" stroke="#0072BD"/><path d="M409.5 504.2l1.8-1.3 1.9-1.2 1.8-1.1 1.8-1.1 1.9-1.1 1.8-1 1.8-.8 1.9-.8 1.8-.7 1.8-.6 1.9-.6 1.8-.6 1.8-.5 1.9-.6 1.8-.5 1.8-.6 1.9-.6 1.8-.5 1.8-.6 1.9-.6 1.8-.6 1.8-.7 1.9-.6 1.8-.6 1.8-.6 1.9-.6 1.8-.6 1.8-.4 1.9-.4 1.8-.2 1.8-.2 1.9-.1 1.8-0 1.8-0 1.9 .1 1.8 .1 1.8 .2 1.9 .3 1.8 .3 1.8 .4 1.9 .6 1.8 .9 1.8 1.1 1.9 1.3 1.8 1.7 1.8 2 1.9 2.3 1.8 2.6 1.8 2.9 1.9 3 1.8 3.2 1.8 3.3 1.9 3.3 1.8 3.3 1.8 3.3 1.9 3 1.8 2.9 1.8 2.6 1.9 2.4 1.8 2.1 1.8 1.8 1.9 1.4 1.8 1 1.8 .6 1.9 .3 1.8 .1 1.8-.2 1.9-.1 1.8-.2 1.8-.3 1.9-.5 1.8-.9" stroke="#D95319"/><path d="M409.5 506.0l1.8-1.1 1.9-1.1 1.8-1 1.8-1.1 1.9-1 1.8-1 1.8-1 1.9-.7 1.8-.8 1.8-.6 1.9-.7 1.8-.6 1.8-.5 1.9-.6 1.8-.5 1.8-.6 1.9-.6 1.8-.6 1.8-.6 1.9-.7 1.8-.7 1.8-.7 1.9-.7 1.8-.8 1.8-.7 1.9-.8 1.8-.7 1.8-.7 1.9-.6 1.8-.5 1.8-.5 1.9-.4 1.8-.4 1.8-.3 1.9-.3 1.8-.2 1.8-.3 1.9-.2 1.8-.2 1.8-.1 1.9-0 1.8 .2 1.8 .4 1.9 .6 1.8 .9 1.8 1.2 1.9 1.7 1.8 2 1.8 2.4 1.9 2.7 1.8 2.9 1.8 3.1 1.9 3.3 1.8 3.4 1.8 3.5 1.9 3.5 1.8 3.3 1.8 3.3 1.9 3.1 1.8 2.9 1.8 2.7 1.9 2.4 1.8 2.1 1.8 1.8 1.9 1.4 1.8 1.3 1.8 1 1.9 1.1 1.8 1.1 1.8 1.1 1.9 .9 1.8 .6" stroke="#EDB120"/><path d="M409.5 506.6l1.8-.8 1.9-.8 1.8-.9 1.8-.9 1.9-.9 1.8-1 1.8-.9 1.9-.7 1.8-.6 1.8-.7 1.9-.6 1.8-.6 1.8-.5 1.9-.5 1.8-.5 1.8-.6 1.9-.5 1.8-.6 1.8-.6 1.9-.7 1.8-.6 1.8-.8 1.9-.7 1.8-.8 1.8-.9 1.9-.8 1.8-.9 1.8-.8 1.9-.8 1.8-.8 1.8-.7 1.9-.6 1.8-.7 1.8-.6 1.9-.7 1.8-.6 1.8-.6 1.9-.7 1.8-.7 1.8-.7 1.9-.6 1.8-.4 1.8-.4 1.9-.2 1.8 0 1.8 .5 1.9 .8 1.8 1.3 1.8 1.6 1.9 2 1.8 2.4 1.8 2.7 1.9 2.9 1.8 3.2 1.8 3.4 1.9 3.5 1.8 3.5 1.8 3.6 1.9 3.6 1.8 3.4 1.8 3.4 1.9 3.2 1.8 2.9 1.8 2.7 1.9 2.5 1.8 2.2 1.8 2.2 1.9 2.2 1.8 2.3 1.8 2.3 1.9 2.2 1.8 2.1" stroke="#7E2F8E"/><path d="M409.5 506.0l1.8-.5 1.9-.5 1.8-.6 1.8-.6 1.9-.8 1.8-.7 1.8-.8 1.9-.6 1.8-.5 1.8-.6 1.9-.5 1.8-.5 1.8-.4 1.9-.4 1.8-.5 1.8-.4 1.9-.5 1.8-.5 1.8-.5 1.9-.6 1.8-.6 1.8-.7 1.9-.7 1.8-.8 1.8-.8 1.9-.8 1.8-1 1.8-.9 1.9-.9 1.8-.9 1.8-.9 1.9-.8 1.8-.9 1.8-.9 1.9-.9 1.8-.9 1.8-1 1.9-1 1.8-1.2 1.8-1.2 1.9-1.1 1.8-1.1 1.8-1 1.9-1 1.8-.9 1.8-.5 1.9 0 1.8 .4 1.8 .7 1.9 1.2 1.8 1.5 1.8 2 1.9 2.3 1.8 2.7 1.8 2.9 1.9 3.2 1.8 3.4 1.8 3.5 1.9 3.7 1.8 3.6 1.8 3.7 1.9 3.7 1.8 3.5 1.8 3.4 1.9 3.2 1.8 3.1 1.8 3 1.9 3.2 1.8 3.2 1.8 3.4 1.9 3.3 1.8 3.3" stroke="#77AC30"/><path d="M409.5 504.2l1.8-0 1.9-.2 1.8-.3 1.8-.3 1.9-.5 1.8-.5 1.8-.5 1.9-.5 1.8-.3 1.8-.4 1.9-.4 1.8-.4 1.8-.3 1.9-.2 1.8-.3 1.8-.4 1.9-.3 1.8-.4 1.8-.4 1.9-.4 1.8-.5 1.8-.5 1.9-.6 1.8-.7 1.8-.7 1.9-.8 1.8-.9 1.8-.9 1.9-.9 1.8-1 1.8-1 1.9-1 1.8-1 1.8-1.1 1.9-1 1.8-1.2 1.8-1.2 1.9-1.3 1.8-1.5 1.8-1.5 1.9-1.6 1.8-1.6 1.8-1.6 1.9-1.7 1.8-1.6 1.8-1.4 1.9-.9 1.8-.6 1.8-.2 1.9 .2 1.8 .6 1.8 1.1 1.9 1.4 1.8 1.9 1.8 2.2 1.9 2.6 1.8 2.9 1.8 3.1 1.9 3.4 1.8 3.5 1.8 3.7 1.9 3.7 1.8 3.7 1.8 3.8 1.9 3.7 1.8 3.6 1.8 3.6 1.9 3.8 1.8 3.9 1.8 4 1.9 4.1 1.8 4.2" stroke="#4DBEEE"/><path d="M409.5 501.4l1.8 .4 1.9 .2 1.8 .1 1.8 0 1.9-.1 1.8-.3 1.8-.3 1.9-.2 1.8-.1 1.8-.2 1.9-.3 1.8-.2 1.8-.1 1.9-.1 1.8-.1 1.8-.2 1.9-.2 1.8-.2 1.8-.2 1.9-.3 1.8-.3 1.8-.3 1.9-.5 1.8-.5 1.8-.5 1.9-.7 1.8-.7 1.8-.8 1.9-.9 1.8-.9 1.8-1 1.9-1 1.8-1.1 1.8-1.1 1.9-1.1 1.8-1.3 1.8-1.3 1.9-1.5 1.8-1.6 1.8-1.8 1.9-1.9 1.8-1.9 1.8-2.1 1.9-2.2 1.8-2.2 1.8-2.1 1.9-1.7 1.8-1.5 1.8-1.1 1.9-.8 1.8-.4 1.8 0 1.9 .5 1.8 .8 1.8 1.3 1.9 1.7 1.8 2.1 1.8 2.5 1.9 2.8 1.8 3 1.8 3.3 1.9 3.4 1.8 3.7 1.8 3.7 1.9 3.8 1.8 3.8 1.8 3.8 1.9 4 1.8 4.1 1.8 4.4 1.9 4.5 1.8 4.7" stroke="#A2142F"/><path d="M409.5 497.9l1.8 .7 1.9 .6 1.8 .5 1.8 .3 1.9 .2 1.8 .1 1.8-0 1.9 0 1.8 .1 1.8-0 1.9-.1 1.8 0 1.8 .1 1.9 .1 1.8 0 1.8 0 1.9 0 1.8-0 1.8-.1 1.9-0 1.8-.1 1.8-.1 1.9-.3 1.8-.2 1.8-.4 1.9-.4 1.8-.5 1.8-.7 1.9-.7 1.8-.8 1.8-.9 1.9-.9 1.8-1 1.8-1.1 1.9-1.1 1.8-1.2 1.8-1.4 1.9-1.5 1.8-1.6 1.8-1.8 1.9-2 1.8-2.1 1.8-2.3 1.9-2.5 1.8-2.7 1.8-2.5 1.9-2.4 1.8-2.2 1.8-2 1.9-1.7 1.8-1.4 1.8-.9 1.9-.6 1.8-.2 1.8 .2 1.9 .7 1.8 1.1 1.8 1.5 1.9 1.9 1.8 2.3 1.8 2.5 1.9 2.9 1.8 3.1 1.8 3.4 1.9 3.5 1.8 3.6 1.8 3.7 1.9 3.8 1.8 4 1.8 4.2 1.9 4.5 1.8 4.7" stroke="#0072BD"/><path d="M409.5 494.0l1.8 1 1.9 .9 1.8 .8 1.8 .6 1.9 .6 1.8 .3 1.8 .3 1.9 .3 1.8 .3 1.8 .2 1.9 .1 1.8 .2 1.8 .2 1.9 .3 1.8 .2 1.8 .2 1.9 .2 1.8 .1 1.8 .2 1.9 .1 1.8 .2 1.8 0 1.9 .1 1.8-.1 1.8-.1 1.9-.2 1.8-.2 1.8-.4 1.9-.5 1.8-.6 1.8-.7 1.9-.8 1.8-.8 1.8-.9 1.9-1 1.8-1.1 1.8-1.2 1.9-1.3 1.8-1.5 1.8-1.7 1.9-1.9 1.8-2.1 1.8-2.3 1.9-2.6 1.8-2.8 1.8-2.8 1.9-2.8 1.8-2.7 1.8-2.6 1.9-2.4 1.8-2.2 1.8-1.9 1.9-1.6 1.8-1.2 1.8-.9 1.9-.4 1.8-0 1.8 .4 1.9 .9 1.8 1.2 1.8 1.6 1.9 2 1.8 2.3 1.8 2.6 1.9 2.9 1.8 3.1 1.8 3.2 1.9 3.3 1.8 3.5 1.8 3.6 1.9 4 1.8 4.3" stroke="#D95319"/><path d="M409.5 490.1l1.8 1.2 1.9 1.2 1.8 1 1.8 .8 1.9 .8 1.8 .7 1.8 .5 1.9 .5 1.8 .4 1.8 .4 1.9 .4 1.8 .3 1.8 .4 1.9 .4 1.8 .4 1.8 .3 1.9 .4 1.8 .3 1.8 .3 1.9 .4 1.8 .3 1.8 .3 1.9 .3 1.8 .2 1.8 .1 1.9 .1 1.8 0 1.8-.1 1.9-.2 1.8-.3 1.8-.5 1.9-.5 1.8-.6 1.8-.7 1.9-.7 1.8-.9 1.8-.9 1.9-1.1 1.8-1.2 1.8-1.4 1.9-1.6 1.8-1.8 1.8-2.1 1.9-2.4 1.8-2.6 1.8-2.9 1.9-2.9 1.8-2.9 1.8-3 1.9-3 1.8-2.8 1.8-2.6 1.9-2.4 1.8-2.2 1.8-1.9 1.9-1.5 1.8-1 1.8-.7 1.9-.3 1.8 .1 1.8 .5 1.9 .9 1.8 1.3 1.8 1.6 1.9 2 1.8 2.2 1.8 2.4 1.9 2.5 1.8 2.6 1.8 2.7 1.9 3.1 1.8 3.5" stroke="#EDB120"/><path d="M409.5 486.6l1.8 1.3 1.9 1.2 1.8 1.2 1.8 1 1.9 1 1.8 .8 1.8 .8 1.9 .6 1.8 .6 1.8 .6 1.9 .5 1.8 .4 1.8 .5 1.9 .5 1.8 .5 1.8 .5 1.9 .5 1.8 .4 1.8 .5 1.9 .5 1.8 .5 1.8 .5 1.9 .5 1.8 .4 1.8 .4 1.9 .4 1.8 .3 1.8 .2 1.9 0 1.8-0 1.8-.2 1.9-.2 1.8-.3 1.8-.4 1.9-.4 1.8-.5 1.8-.6 1.9-.7 1.8-.8 1.8-1 1.9-1.2 1.8-1.4 1.8-1.6 1.9-2 1.8-2.2 1.8-2.6 1.9-2.7 1.8-2.9 1.8-3.1 1.9-3.2 1.8-3.2 1.8-3.1 1.9-3 1.8-2.9 1.8-2.6 1.9-2.4 1.8-2.1 1.8-1.8 1.9-1.4 1.8-1 1.8-.7 1.9-.3 1.8 .2 1.8 .5 1.9 .9 1.8 1.2 1.8 1.3 1.9 1.4 1.8 1.4 1.8 1.6 1.9 1.9 1.8 2.3" stroke="#7E2F8E"/><path d="M409.5 483.8l1.8 1.3 1.9 1.2 1.8 1.1 1.8 1.1 1.9 1.1 1.8 1 1.8 .8 1.9 .8 1.8 .7 1.8 .6 1.9 .6 1.8 .6 1.8 .5 1.9 .6 1.8 .5 1.8 .6 1.9 .6 1.8 .5 1.8 .6 1.9 .6 1.8 .6 1.8 .7 1.9 .6 1.8 .6 1.8 .6 1.9 .6 1.8 .6 1.8 .4 1.9 .4 1.8 .2 1.8 .2 1.9 .1 1.8 0 1.8 0 1.9-.1 1.8-.1 1.8-.2 1.9-.3 1.8-.3 1.8-.4 1.9-.6 1.8-.9 1.8-1.1 1.9-1.3 1.8-1.7 1.8-2 1.9-2.3 1.8-2.6 1.8-2.9 1.9-3 1.8-3.2 1.8-3.3 1.9-3.3 1.8-3.3 1.8-3.3 1.9-3 1.8-2.9 1.8-2.6 1.9-2.4 1.8-2.1 1.8-1.8 1.9-1.4 1.8-1 1.8-.6 1.9-.3 1.8-.1 1.8 .2 1.9 .1 1.8 .2 1.8 .3 1.9 .5 1.8 .9" stroke="#77AC30"/><path d="M409.5 482.0l1.8 1.1 1.9 1.1 1.8 1 1.8 1.1 1.9 1 1.8 1 1.8 1 1.9 .7 1.8 .8 1.8 .6 1.9 .7 1.8 .6 1.8 .5 1.9 .6 1.8 .5 1.8 .6 1.9 .6 1.8 .6 1.8 .6 1.9 .7 1.8 .7 1.8 .7 1.9 .7 1.8 .8 1.8 .7 1.9 .8 1.8 .7 1.8 .7 1.9 .6 1.8 .5 1.8 .5 1.9 .4 1.8 .4 1.8 .3 1.9 .3 1.8 .2 1.8 .3 1.9 .2 1.8 .2 1.8 .1 1.9 0 1.8-.2 1.8-.4 1.9-.6 1.8-.9 1.8-1.2 1.9-1.7 1.8-2 1.8-2.4 1.9-2.7 1.8-2.9 1.8-3.1 1.9-3.3 1.8-3.4 1.8-3.5 1.9-3.5 1.8-3.3 1.8-3.3 1.9-3.1 1.8-2.9 1.8-2.7 1.9-2.4 1.8-2.1 1.8-1.8 1.9-1.4 1.8-1.3 1.8-1 1.9-1.1 1.8-1.1 1.8-1.1 1.9-.9 1.8-.6" stroke="#4DBEEE"/></g><clipPath id="cD3"><rect x="409.5" y="439.5" width="132.0" height="109.0"/></clipPath><rect x="409.5" y="441.5" width="132.0" height="105.0" fill="none" stroke="#a6a6a6" stroke-width="1.4"/><path d="M409.5 441.5h1.3M541.5 441.5h-1.3M409.5 467.75h1.3M541.5 467.75h-1.3M409.5 494h1.3M541.5 494h-1.3M409.5 520.25h1.3M541.5 520.25h-1.3M409.5 546.5h1.3M541.5 546.5h-1.3M409.5 546.5v-1.3M409.5 441.5v1.3M475.5 546.5v-1.3M475.5 441.5v1.3M541.5 546.5v-1.3M541.5 441.5v1.3" stroke="#666" stroke-width="1" fill="none"/><text x="406.5" y="445.4" text-anchor="end" class="t">0.2</text><text x="406.5" y="471.65" text-anchor="end" class="t">0.1</text><text x="406.5" y="497.9" text-anchor="end" class="t">0</text><text x="406.5" y="524.15" text-anchor="end" class="t">-0.1</text><text x="406.5" y="550.4" text-anchor="end" class="t">-0.2</text><text x="409.5" y="559" text-anchor="middle" class="t">0</text><text x="475.5" y="559" text-anchor="middle" class="t">0.5</text><text x="541.5" y="559" text-anchor="middle" class="t">1</text><text x="476.2" y="572.7" text-anchor="middle" class="l xl">Traveling Wave (BL)</text><text transform="translate(387.19 494) rotate(-90)" text-anchor="middle" class="l yl">Displacement (BL)</text><text x="4.2" y="16.0" class="p">(a)</text><text x="3.6" y="159.8" class="p">(b)</text><text x="4.5" y="303.8" class="p">(c)</text><text x="4.7" y="447.8" class="p">(d)</text>
</svg></body></html>
